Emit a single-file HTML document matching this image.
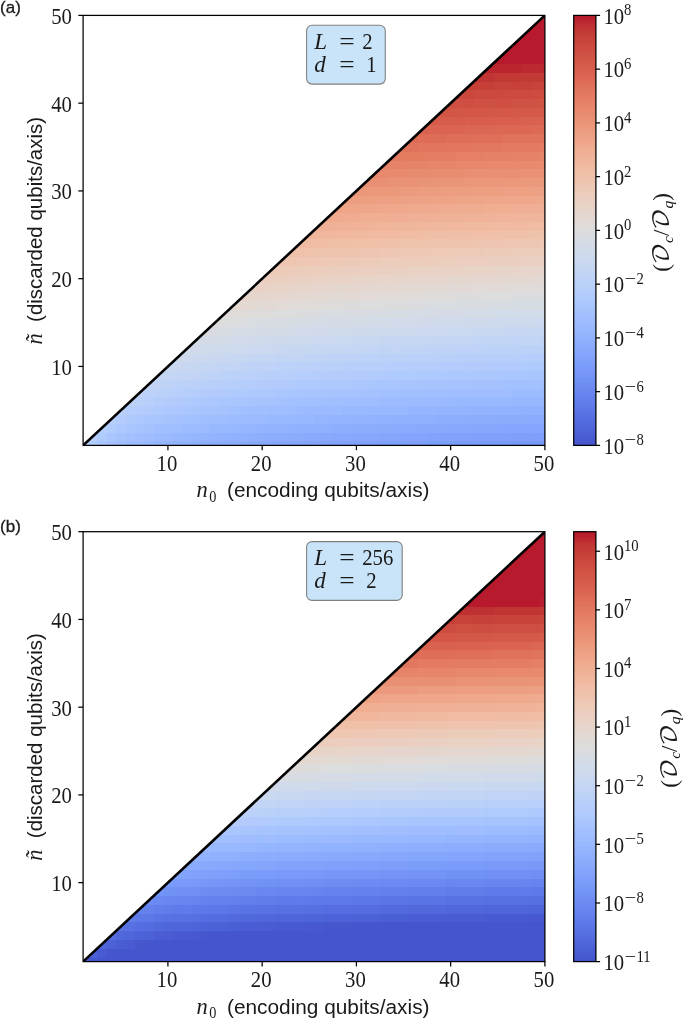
<!DOCTYPE html>
<html lang="en"><head><meta charset="utf-8"><title>Figure</title>
<style>html,body{margin:0;padding:0;background:#fff}svg{display:block}.s{font-family:"Liberation Serif", "DejaVu Serif", serif}.n{font-family:"Liberation Sans", "DejaVu Sans", sans-serif}.m{font-family:"DejaVu Math TeX Gyre", "Liberation Serif", "DejaVu Serif", serif}.i{font-style:italic}</style></head><body>
<svg width="685" height="1021" viewBox="0 0 685 1021">
<rect width="685" height="1021" fill="#fff"/>
<g id="panel0">
<clipPath id="tri0"><polygon points="83.10,445.40 544.90,445.40 544.90,15.40"/></clipPath>
<clipPath id="ax0"><rect x="83.10" y="15.40" width="461.80" height="430.00"/></clipPath>
<g clip-path="url(#tri0)" shape-rendering="crispEdges">
<rect x="83.10" y="441.01" width="5.01" height="4.69" fill="#bdd2f8"/>
<rect x="87.81" y="441.01" width="9.72" height="4.69" fill="#b1cbfc"/>
<rect x="97.24" y="441.01" width="9.72" height="4.69" fill="#aac6fe"/>
<rect x="106.66" y="441.01" width="9.72" height="4.69" fill="#a5c2ff"/>
<rect x="116.09" y="441.01" width="9.72" height="4.69" fill="#a1bfff"/>
<rect x="125.51" y="441.01" width="9.72" height="4.69" fill="#9dbcff"/>
<rect x="134.93" y="441.01" width="9.72" height="4.69" fill="#9bbaff"/>
<rect x="144.36" y="441.01" width="9.72" height="4.69" fill="#98b8ff"/>
<rect x="153.78" y="441.01" width="9.72" height="4.69" fill="#95b5fe"/>
<rect x="163.21" y="441.01" width="9.72" height="4.69" fill="#94b4fe"/>
<rect x="172.63" y="441.01" width="9.72" height="4.69" fill="#93b3fe"/>
<rect x="182.06" y="441.01" width="9.72" height="4.69" fill="#90b1fe"/>
<rect x="191.48" y="441.01" width="9.72" height="4.69" fill="#8fb0fd"/>
<rect x="200.91" y="441.01" width="9.72" height="4.69" fill="#8daefd"/>
<rect x="210.33" y="441.01" width="9.72" height="4.69" fill="#8cadfd"/>
<rect x="219.76" y="441.01" width="9.72" height="4.69" fill="#8bacfd"/>
<rect x="229.18" y="441.01" width="9.72" height="4.69" fill="#8bacfd"/>
<rect x="238.60" y="441.01" width="9.72" height="4.69" fill="#8aabfd"/>
<rect x="248.03" y="441.01" width="9.72" height="4.69" fill="#88aafd"/>
<rect x="257.45" y="441.01" width="9.72" height="4.69" fill="#87a8fd"/>
<rect x="266.88" y="441.01" width="9.72" height="4.69" fill="#87a8fd"/>
<rect x="276.30" y="441.01" width="9.72" height="4.69" fill="#86a7fc"/>
<rect x="285.73" y="441.01" width="9.72" height="4.69" fill="#84a6fc"/>
<rect x="295.15" y="441.01" width="9.72" height="4.69" fill="#84a6fc"/>
<rect x="304.58" y="441.01" width="9.72" height="4.69" fill="#83a5fc"/>
<rect x="314.00" y="441.01" width="9.72" height="4.69" fill="#83a5fc"/>
<rect x="323.42" y="441.01" width="9.72" height="4.69" fill="#82a3fb"/>
<rect x="332.85" y="441.01" width="9.72" height="4.69" fill="#82a3fc"/>
<rect x="342.27" y="441.01" width="9.72" height="4.69" fill="#81a2fb"/>
<rect x="351.70" y="441.01" width="9.72" height="4.69" fill="#81a2fb"/>
<rect x="361.12" y="441.01" width="9.72" height="4.69" fill="#7fa1fb"/>
<rect x="370.55" y="441.01" width="9.72" height="4.69" fill="#7fa1fb"/>
<rect x="379.97" y="441.01" width="9.72" height="4.69" fill="#7e9ffa"/>
<rect x="389.40" y="441.01" width="9.72" height="4.69" fill="#7e9ffa"/>
<rect x="398.82" y="441.01" width="9.72" height="4.69" fill="#7e9ffb"/>
<rect x="408.24" y="441.01" width="9.72" height="4.69" fill="#7d9efa"/>
<rect x="417.67" y="441.01" width="9.72" height="4.69" fill="#7d9efa"/>
<rect x="427.09" y="441.01" width="9.72" height="4.69" fill="#7b9dfa"/>
<rect x="436.52" y="441.01" width="9.72" height="4.69" fill="#7b9dfa"/>
<rect x="445.94" y="441.01" width="9.72" height="4.69" fill="#7b9dfa"/>
<rect x="455.37" y="441.01" width="9.72" height="4.69" fill="#7a9bf9"/>
<rect x="464.79" y="441.01" width="9.72" height="4.69" fill="#7a9bf9"/>
<rect x="474.22" y="441.01" width="9.72" height="4.69" fill="#7a9bf9"/>
<rect x="483.64" y="441.01" width="9.72" height="4.69" fill="#799af9"/>
<rect x="493.07" y="441.01" width="9.72" height="4.69" fill="#799af9"/>
<rect x="502.49" y="441.01" width="9.72" height="4.69" fill="#799af9"/>
<rect x="511.91" y="441.01" width="9.72" height="4.69" fill="#7899f8"/>
<rect x="521.34" y="441.01" width="9.72" height="4.69" fill="#7899f8"/>
<rect x="530.76" y="441.01" width="9.72" height="4.69" fill="#7899f8"/>
<rect x="540.19" y="441.01" width="5.01" height="4.69" fill="#7899f8"/>
<rect x="87.81" y="432.24" width="9.72" height="9.08" fill="#b7cffa"/>
<rect x="97.24" y="432.24" width="9.72" height="9.08" fill="#afcafd"/>
<rect x="106.66" y="432.24" width="9.72" height="9.08" fill="#aac6fe"/>
<rect x="116.09" y="432.24" width="9.72" height="9.08" fill="#a6c3fe"/>
<rect x="125.51" y="432.24" width="9.72" height="9.08" fill="#a4c1ff"/>
<rect x="134.93" y="432.24" width="9.72" height="9.08" fill="#a1bfff"/>
<rect x="144.36" y="432.24" width="9.72" height="9.08" fill="#9fbdff"/>
<rect x="153.78" y="432.24" width="9.72" height="9.08" fill="#9cbbff"/>
<rect x="163.21" y="432.24" width="9.72" height="9.08" fill="#9bbaff"/>
<rect x="172.63" y="432.24" width="9.72" height="9.08" fill="#98b8ff"/>
<rect x="182.06" y="432.24" width="9.72" height="9.08" fill="#97b7fe"/>
<rect x="191.48" y="432.24" width="9.72" height="9.08" fill="#95b5fe"/>
<rect x="200.91" y="432.24" width="9.72" height="9.08" fill="#94b4fe"/>
<rect x="210.33" y="432.24" width="9.72" height="9.08" fill="#93b3fe"/>
<rect x="219.76" y="432.24" width="9.72" height="9.08" fill="#91b2fe"/>
<rect x="229.18" y="432.24" width="9.72" height="9.08" fill="#90b1fe"/>
<rect x="238.60" y="432.24" width="9.72" height="9.08" fill="#90b1fe"/>
<rect x="248.03" y="432.24" width="9.72" height="9.08" fill="#8fb0fe"/>
<rect x="257.45" y="432.24" width="9.72" height="9.08" fill="#8daefd"/>
<rect x="266.88" y="432.24" width="9.72" height="9.08" fill="#8cadfd"/>
<rect x="276.30" y="432.24" width="9.72" height="9.08" fill="#8cadfd"/>
<rect x="285.73" y="432.24" width="9.72" height="9.08" fill="#8bacfd"/>
<rect x="295.15" y="432.24" width="9.72" height="9.08" fill="#8bacfd"/>
<rect x="304.58" y="432.24" width="9.72" height="9.08" fill="#8aabfd"/>
<rect x="314.00" y="432.24" width="9.72" height="9.08" fill="#88aafd"/>
<rect x="323.42" y="432.24" width="9.72" height="9.08" fill="#88aafd"/>
<rect x="332.85" y="432.24" width="9.72" height="9.08" fill="#87a8fd"/>
<rect x="342.27" y="432.24" width="9.72" height="9.08" fill="#87a8fd"/>
<rect x="351.70" y="432.24" width="9.72" height="9.08" fill="#86a7fc"/>
<rect x="361.12" y="432.24" width="9.72" height="9.08" fill="#86a7fc"/>
<rect x="370.55" y="432.24" width="9.72" height="9.08" fill="#86a7fd"/>
<rect x="379.97" y="432.24" width="9.72" height="9.08" fill="#84a6fc"/>
<rect x="389.40" y="432.24" width="9.72" height="9.08" fill="#84a6fc"/>
<rect x="398.82" y="432.24" width="9.72" height="9.08" fill="#83a5fc"/>
<rect x="408.24" y="432.24" width="9.72" height="9.08" fill="#83a5fc"/>
<rect x="417.67" y="432.24" width="9.72" height="9.08" fill="#83a5fc"/>
<rect x="427.09" y="432.24" width="9.72" height="9.08" fill="#82a3fb"/>
<rect x="436.52" y="432.24" width="9.72" height="9.08" fill="#82a3fb"/>
<rect x="445.94" y="432.24" width="9.72" height="9.08" fill="#81a2fb"/>
<rect x="455.37" y="432.24" width="9.72" height="9.08" fill="#81a2fb"/>
<rect x="464.79" y="432.24" width="9.72" height="9.08" fill="#81a2fb"/>
<rect x="474.22" y="432.24" width="9.72" height="9.08" fill="#7fa1fb"/>
<rect x="483.64" y="432.24" width="9.72" height="9.08" fill="#7fa1fb"/>
<rect x="493.07" y="432.24" width="9.72" height="9.08" fill="#7fa1fb"/>
<rect x="502.49" y="432.24" width="9.72" height="9.08" fill="#7fa1fb"/>
<rect x="511.91" y="432.24" width="9.72" height="9.08" fill="#7e9ffa"/>
<rect x="521.34" y="432.24" width="9.72" height="9.08" fill="#7e9ffa"/>
<rect x="530.76" y="432.24" width="9.72" height="9.08" fill="#7e9ffb"/>
<rect x="540.19" y="432.24" width="5.01" height="9.08" fill="#7d9efa"/>
<rect x="97.24" y="423.46" width="9.72" height="9.08" fill="#b6cefb"/>
<rect x="106.66" y="423.46" width="9.72" height="9.08" fill="#b1cbfc"/>
<rect x="116.09" y="423.46" width="9.72" height="9.08" fill="#adc8fd"/>
<rect x="125.51" y="423.46" width="9.72" height="9.08" fill="#aac6fe"/>
<rect x="134.93" y="423.46" width="9.72" height="9.08" fill="#a8c4fe"/>
<rect x="144.36" y="423.46" width="9.72" height="9.08" fill="#a5c2ff"/>
<rect x="153.78" y="423.46" width="9.72" height="9.08" fill="#a2c0ff"/>
<rect x="163.21" y="423.46" width="9.72" height="9.08" fill="#a1bfff"/>
<rect x="172.63" y="423.46" width="9.72" height="9.08" fill="#9fbdff"/>
<rect x="182.06" y="423.46" width="9.72" height="9.08" fill="#9dbcff"/>
<rect x="191.48" y="423.46" width="9.72" height="9.08" fill="#9cbbff"/>
<rect x="200.91" y="423.46" width="9.72" height="9.08" fill="#9bbaff"/>
<rect x="210.33" y="423.46" width="9.72" height="9.08" fill="#99b9ff"/>
<rect x="219.76" y="423.46" width="9.72" height="9.08" fill="#98b8ff"/>
<rect x="229.18" y="423.46" width="9.72" height="9.08" fill="#97b7fe"/>
<rect x="238.60" y="423.46" width="9.72" height="9.08" fill="#95b5fe"/>
<rect x="248.03" y="423.46" width="9.72" height="9.08" fill="#95b5fe"/>
<rect x="257.45" y="423.46" width="9.72" height="9.08" fill="#94b4fe"/>
<rect x="266.88" y="423.46" width="9.72" height="9.08" fill="#93b3fe"/>
<rect x="276.30" y="423.46" width="9.72" height="9.08" fill="#93b3fe"/>
<rect x="285.73" y="423.46" width="9.72" height="9.08" fill="#91b2fe"/>
<rect x="295.15" y="423.46" width="9.72" height="9.08" fill="#90b1fe"/>
<rect x="304.58" y="423.46" width="9.72" height="9.08" fill="#90b1fe"/>
<rect x="314.00" y="423.46" width="9.72" height="9.08" fill="#8fb0fd"/>
<rect x="323.42" y="423.46" width="9.72" height="9.08" fill="#8fb0fe"/>
<rect x="332.85" y="423.46" width="9.72" height="9.08" fill="#8daefd"/>
<rect x="342.27" y="423.46" width="9.72" height="9.08" fill="#8daefd"/>
<rect x="351.70" y="423.46" width="9.72" height="9.08" fill="#8cadfd"/>
<rect x="361.12" y="423.46" width="9.72" height="9.08" fill="#8cadfd"/>
<rect x="370.55" y="423.46" width="9.72" height="9.08" fill="#8bacfd"/>
<rect x="379.97" y="423.46" width="9.72" height="9.08" fill="#8bacfd"/>
<rect x="389.40" y="423.46" width="9.72" height="9.08" fill="#8bacfd"/>
<rect x="398.82" y="423.46" width="9.72" height="9.08" fill="#8aabfd"/>
<rect x="408.24" y="423.46" width="9.72" height="9.08" fill="#8aabfd"/>
<rect x="417.67" y="423.46" width="9.72" height="9.08" fill="#88aafd"/>
<rect x="427.09" y="423.46" width="9.72" height="9.08" fill="#88aafd"/>
<rect x="436.52" y="423.46" width="9.72" height="9.08" fill="#88aafd"/>
<rect x="445.94" y="423.46" width="9.72" height="9.08" fill="#87a8fd"/>
<rect x="455.37" y="423.46" width="9.72" height="9.08" fill="#87a8fd"/>
<rect x="464.79" y="423.46" width="9.72" height="9.08" fill="#87a8fd"/>
<rect x="474.22" y="423.46" width="9.72" height="9.08" fill="#86a7fc"/>
<rect x="483.64" y="423.46" width="9.72" height="9.08" fill="#86a7fc"/>
<rect x="493.07" y="423.46" width="9.72" height="9.08" fill="#86a7fd"/>
<rect x="502.49" y="423.46" width="9.72" height="9.08" fill="#84a6fc"/>
<rect x="511.91" y="423.46" width="9.72" height="9.08" fill="#84a6fc"/>
<rect x="521.34" y="423.46" width="9.72" height="9.08" fill="#84a6fc"/>
<rect x="530.76" y="423.46" width="9.72" height="9.08" fill="#83a5fc"/>
<rect x="540.19" y="423.46" width="5.01" height="9.08" fill="#83a5fc"/>
<rect x="106.66" y="414.69" width="9.72" height="9.08" fill="#b7cffa"/>
<rect x="116.09" y="414.69" width="9.72" height="9.08" fill="#b3ccfc"/>
<rect x="125.51" y="414.69" width="9.72" height="9.08" fill="#afcafd"/>
<rect x="134.93" y="414.69" width="9.72" height="9.08" fill="#adc8fd"/>
<rect x="144.36" y="414.69" width="9.72" height="9.08" fill="#aac6fe"/>
<rect x="153.78" y="414.69" width="9.72" height="9.08" fill="#a9c5fe"/>
<rect x="163.21" y="414.69" width="9.72" height="9.08" fill="#a6c3fe"/>
<rect x="172.63" y="414.69" width="9.72" height="9.08" fill="#a5c2ff"/>
<rect x="182.06" y="414.69" width="9.72" height="9.08" fill="#a4c1ff"/>
<rect x="191.48" y="414.69" width="9.72" height="9.08" fill="#a2c0ff"/>
<rect x="200.91" y="414.69" width="9.72" height="9.08" fill="#a1bfff"/>
<rect x="210.33" y="414.69" width="9.72" height="9.08" fill="#a0beff"/>
<rect x="219.76" y="414.69" width="9.72" height="9.08" fill="#9fbdff"/>
<rect x="229.18" y="414.69" width="9.72" height="9.08" fill="#9dbcff"/>
<rect x="238.60" y="414.69" width="9.72" height="9.08" fill="#9cbbff"/>
<rect x="248.03" y="414.69" width="9.72" height="9.08" fill="#9bbaff"/>
<rect x="257.45" y="414.69" width="9.72" height="9.08" fill="#9bbaff"/>
<rect x="266.88" y="414.69" width="9.72" height="9.08" fill="#99b9ff"/>
<rect x="276.30" y="414.69" width="9.72" height="9.08" fill="#98b8ff"/>
<rect x="285.73" y="414.69" width="9.72" height="9.08" fill="#98b8ff"/>
<rect x="295.15" y="414.69" width="9.72" height="9.08" fill="#97b7fe"/>
<rect x="304.58" y="414.69" width="9.72" height="9.08" fill="#97b7fe"/>
<rect x="314.00" y="414.69" width="9.72" height="9.08" fill="#95b5fe"/>
<rect x="323.42" y="414.69" width="9.72" height="9.08" fill="#95b5fe"/>
<rect x="332.85" y="414.69" width="9.72" height="9.08" fill="#94b4fe"/>
<rect x="342.27" y="414.69" width="9.72" height="9.08" fill="#94b4fe"/>
<rect x="351.70" y="414.69" width="9.72" height="9.08" fill="#93b3fe"/>
<rect x="361.12" y="414.69" width="9.72" height="9.08" fill="#93b3fe"/>
<rect x="370.55" y="414.69" width="9.72" height="9.08" fill="#91b2fe"/>
<rect x="379.97" y="414.69" width="9.72" height="9.08" fill="#91b2fe"/>
<rect x="389.40" y="414.69" width="9.72" height="9.08" fill="#90b1fe"/>
<rect x="398.82" y="414.69" width="9.72" height="9.08" fill="#90b1fe"/>
<rect x="408.24" y="414.69" width="9.72" height="9.08" fill="#90b1fe"/>
<rect x="417.67" y="414.69" width="9.72" height="9.08" fill="#8fb0fd"/>
<rect x="427.09" y="414.69" width="9.72" height="9.08" fill="#8fb0fe"/>
<rect x="436.52" y="414.69" width="9.72" height="9.08" fill="#8daefd"/>
<rect x="445.94" y="414.69" width="9.72" height="9.08" fill="#8daefd"/>
<rect x="455.37" y="414.69" width="9.72" height="9.08" fill="#8daefd"/>
<rect x="464.79" y="414.69" width="9.72" height="9.08" fill="#8cadfd"/>
<rect x="474.22" y="414.69" width="9.72" height="9.08" fill="#8cadfd"/>
<rect x="483.64" y="414.69" width="9.72" height="9.08" fill="#8cadfd"/>
<rect x="493.07" y="414.69" width="9.72" height="9.08" fill="#8bacfd"/>
<rect x="502.49" y="414.69" width="9.72" height="9.08" fill="#8bacfd"/>
<rect x="511.91" y="414.69" width="9.72" height="9.08" fill="#8bacfd"/>
<rect x="521.34" y="414.69" width="9.72" height="9.08" fill="#8bacfd"/>
<rect x="530.76" y="414.69" width="9.72" height="9.08" fill="#8aabfd"/>
<rect x="540.19" y="414.69" width="5.01" height="9.08" fill="#8aabfd"/>
<rect x="116.09" y="405.91" width="9.72" height="9.08" fill="#b9d0f9"/>
<rect x="125.51" y="405.91" width="9.72" height="9.08" fill="#b6cefb"/>
<rect x="134.93" y="405.91" width="9.72" height="9.08" fill="#b3ccfc"/>
<rect x="144.36" y="405.91" width="9.72" height="9.08" fill="#b1cbfc"/>
<rect x="153.78" y="405.91" width="9.72" height="9.08" fill="#afcafd"/>
<rect x="163.21" y="405.91" width="9.72" height="9.08" fill="#adc8fd"/>
<rect x="172.63" y="405.91" width="9.72" height="9.08" fill="#acc7fd"/>
<rect x="182.06" y="405.91" width="9.72" height="9.08" fill="#aac6fe"/>
<rect x="191.48" y="405.91" width="9.72" height="9.08" fill="#a9c5fe"/>
<rect x="200.91" y="405.91" width="9.72" height="9.08" fill="#a8c4fe"/>
<rect x="210.33" y="405.91" width="9.72" height="9.08" fill="#a6c3fe"/>
<rect x="219.76" y="405.91" width="9.72" height="9.08" fill="#a5c2ff"/>
<rect x="229.18" y="405.91" width="9.72" height="9.08" fill="#a4c1ff"/>
<rect x="238.60" y="405.91" width="9.72" height="9.08" fill="#a2c0ff"/>
<rect x="248.03" y="405.91" width="9.72" height="9.08" fill="#a1bfff"/>
<rect x="257.45" y="405.91" width="9.72" height="9.08" fill="#a1bfff"/>
<rect x="266.88" y="405.91" width="9.72" height="9.08" fill="#a0beff"/>
<rect x="276.30" y="405.91" width="9.72" height="9.08" fill="#9fbdff"/>
<rect x="285.73" y="405.91" width="9.72" height="9.08" fill="#9fbdff"/>
<rect x="295.15" y="405.91" width="9.72" height="9.08" fill="#9dbcff"/>
<rect x="304.58" y="405.91" width="9.72" height="9.08" fill="#9cbbff"/>
<rect x="314.00" y="405.91" width="9.72" height="9.08" fill="#9cbbff"/>
<rect x="323.42" y="405.91" width="9.72" height="9.08" fill="#9bbaff"/>
<rect x="332.85" y="405.91" width="9.72" height="9.08" fill="#9bbaff"/>
<rect x="342.27" y="405.91" width="9.72" height="9.08" fill="#99b9ff"/>
<rect x="351.70" y="405.91" width="9.72" height="9.08" fill="#99b9ff"/>
<rect x="361.12" y="405.91" width="9.72" height="9.08" fill="#98b8ff"/>
<rect x="370.55" y="405.91" width="9.72" height="9.08" fill="#98b8ff"/>
<rect x="379.97" y="405.91" width="9.72" height="9.08" fill="#98b8ff"/>
<rect x="389.40" y="405.91" width="9.72" height="9.08" fill="#97b7fe"/>
<rect x="398.82" y="405.91" width="9.72" height="9.08" fill="#97b7fe"/>
<rect x="408.24" y="405.91" width="9.72" height="9.08" fill="#95b5fe"/>
<rect x="417.67" y="405.91" width="9.72" height="9.08" fill="#95b5fe"/>
<rect x="427.09" y="405.91" width="9.72" height="9.08" fill="#95b5fe"/>
<rect x="436.52" y="405.91" width="9.72" height="9.08" fill="#94b4fe"/>
<rect x="445.94" y="405.91" width="9.72" height="9.08" fill="#94b4fe"/>
<rect x="455.37" y="405.91" width="9.72" height="9.08" fill="#94b4fe"/>
<rect x="464.79" y="405.91" width="9.72" height="9.08" fill="#93b3fe"/>
<rect x="474.22" y="405.91" width="9.72" height="9.08" fill="#93b3fe"/>
<rect x="483.64" y="405.91" width="9.72" height="9.08" fill="#93b3fe"/>
<rect x="493.07" y="405.91" width="9.72" height="9.08" fill="#91b2fe"/>
<rect x="502.49" y="405.91" width="9.72" height="9.08" fill="#91b2fe"/>
<rect x="511.91" y="405.91" width="9.72" height="9.08" fill="#91b2fe"/>
<rect x="521.34" y="405.91" width="9.72" height="9.08" fill="#90b1fe"/>
<rect x="530.76" y="405.91" width="9.72" height="9.08" fill="#90b1fe"/>
<rect x="540.19" y="405.91" width="5.01" height="9.08" fill="#90b1fe"/>
<rect x="125.51" y="397.13" width="9.72" height="9.08" fill="#bcd1f8"/>
<rect x="134.93" y="397.13" width="9.72" height="9.08" fill="#b9d0f9"/>
<rect x="144.36" y="397.13" width="9.72" height="9.08" fill="#b7cffa"/>
<rect x="153.78" y="397.13" width="9.72" height="9.08" fill="#b4cdfb"/>
<rect x="163.21" y="397.13" width="9.72" height="9.08" fill="#b3ccfc"/>
<rect x="172.63" y="397.13" width="9.72" height="9.08" fill="#b2cbfc"/>
<rect x="182.06" y="397.13" width="9.72" height="9.08" fill="#afcafd"/>
<rect x="191.48" y="397.13" width="9.72" height="9.08" fill="#aec9fd"/>
<rect x="200.91" y="397.13" width="9.72" height="9.08" fill="#adc8fd"/>
<rect x="210.33" y="397.13" width="9.72" height="9.08" fill="#abc7fd"/>
<rect x="219.76" y="397.13" width="9.72" height="9.08" fill="#aac6fe"/>
<rect x="229.18" y="397.13" width="9.72" height="9.08" fill="#aac6fe"/>
<rect x="238.60" y="397.13" width="9.72" height="9.08" fill="#a9c5fe"/>
<rect x="248.03" y="397.13" width="9.72" height="9.08" fill="#a8c4fe"/>
<rect x="257.45" y="397.13" width="9.72" height="9.08" fill="#a6c3fe"/>
<rect x="266.88" y="397.13" width="9.72" height="9.08" fill="#a6c3fe"/>
<rect x="276.30" y="397.13" width="9.72" height="9.08" fill="#a5c2ff"/>
<rect x="285.73" y="397.13" width="9.72" height="9.08" fill="#a4c1ff"/>
<rect x="295.15" y="397.13" width="9.72" height="9.08" fill="#a4c1ff"/>
<rect x="304.58" y="397.13" width="9.72" height="9.08" fill="#a2c0ff"/>
<rect x="314.00" y="397.13" width="9.72" height="9.08" fill="#a2c0ff"/>
<rect x="323.42" y="397.13" width="9.72" height="9.08" fill="#a1bfff"/>
<rect x="332.85" y="397.13" width="9.72" height="9.08" fill="#a1bfff"/>
<rect x="342.27" y="397.13" width="9.72" height="9.08" fill="#a0beff"/>
<rect x="351.70" y="397.13" width="9.72" height="9.08" fill="#a0beff"/>
<rect x="361.12" y="397.13" width="9.72" height="9.08" fill="#9fbdff"/>
<rect x="370.55" y="397.13" width="9.72" height="9.08" fill="#9fbdff"/>
<rect x="379.97" y="397.13" width="9.72" height="9.08" fill="#9dbcff"/>
<rect x="389.40" y="397.13" width="9.72" height="9.08" fill="#9dbcff"/>
<rect x="398.82" y="397.13" width="9.72" height="9.08" fill="#9dbcff"/>
<rect x="408.24" y="397.13" width="9.72" height="9.08" fill="#9cbbff"/>
<rect x="417.67" y="397.13" width="9.72" height="9.08" fill="#9cbbff"/>
<rect x="427.09" y="397.13" width="9.72" height="9.08" fill="#9bbaff"/>
<rect x="436.52" y="397.13" width="9.72" height="9.08" fill="#9bbaff"/>
<rect x="445.94" y="397.13" width="9.72" height="9.08" fill="#9bbaff"/>
<rect x="455.37" y="397.13" width="9.72" height="9.08" fill="#99b9ff"/>
<rect x="464.79" y="397.13" width="9.72" height="9.08" fill="#99b9ff"/>
<rect x="474.22" y="397.13" width="9.72" height="9.08" fill="#99b9ff"/>
<rect x="483.64" y="397.13" width="9.72" height="9.08" fill="#98b8ff"/>
<rect x="493.07" y="397.13" width="9.72" height="9.08" fill="#98b8ff"/>
<rect x="502.49" y="397.13" width="9.72" height="9.08" fill="#98b8ff"/>
<rect x="511.91" y="397.13" width="9.72" height="9.08" fill="#97b7fe"/>
<rect x="521.34" y="397.13" width="9.72" height="9.08" fill="#97b7fe"/>
<rect x="530.76" y="397.13" width="9.72" height="9.08" fill="#97b7fe"/>
<rect x="540.19" y="397.13" width="5.01" height="9.08" fill="#97b7fe"/>
<rect x="134.93" y="388.36" width="9.72" height="9.08" fill="#bfd3f6"/>
<rect x="144.36" y="388.36" width="9.72" height="9.08" fill="#bdd2f8"/>
<rect x="153.78" y="388.36" width="9.72" height="9.08" fill="#bbd1f9"/>
<rect x="163.21" y="388.36" width="9.72" height="9.08" fill="#b9d0f9"/>
<rect x="172.63" y="388.36" width="9.72" height="9.08" fill="#b7cffa"/>
<rect x="182.06" y="388.36" width="9.72" height="9.08" fill="#b6cefb"/>
<rect x="191.48" y="388.36" width="9.72" height="9.08" fill="#b4cdfb"/>
<rect x="200.91" y="388.36" width="9.72" height="9.08" fill="#b3ccfc"/>
<rect x="210.33" y="388.36" width="9.72" height="9.08" fill="#b2cbfc"/>
<rect x="219.76" y="388.36" width="9.72" height="9.08" fill="#b1cbfc"/>
<rect x="229.18" y="388.36" width="9.72" height="9.08" fill="#afcafd"/>
<rect x="238.60" y="388.36" width="9.72" height="9.08" fill="#afcafd"/>
<rect x="248.03" y="388.36" width="9.72" height="9.08" fill="#aec9fd"/>
<rect x="257.45" y="388.36" width="9.72" height="9.08" fill="#adc8fd"/>
<rect x="266.88" y="388.36" width="9.72" height="9.08" fill="#adc8fd"/>
<rect x="276.30" y="388.36" width="9.72" height="9.08" fill="#acc7fd"/>
<rect x="285.73" y="388.36" width="9.72" height="9.08" fill="#aac6fe"/>
<rect x="295.15" y="388.36" width="9.72" height="9.08" fill="#aac6fe"/>
<rect x="304.58" y="388.36" width="9.72" height="9.08" fill="#a9c5fe"/>
<rect x="314.00" y="388.36" width="9.72" height="9.08" fill="#a9c5fe"/>
<rect x="323.42" y="388.36" width="9.72" height="9.08" fill="#a8c4fe"/>
<rect x="332.85" y="388.36" width="9.72" height="9.08" fill="#a8c4fe"/>
<rect x="342.27" y="388.36" width="9.72" height="9.08" fill="#a6c3fe"/>
<rect x="351.70" y="388.36" width="9.72" height="9.08" fill="#a6c3fe"/>
<rect x="361.12" y="388.36" width="9.72" height="9.08" fill="#a5c2ff"/>
<rect x="370.55" y="388.36" width="9.72" height="9.08" fill="#a5c2ff"/>
<rect x="379.97" y="388.36" width="9.72" height="9.08" fill="#a4c1ff"/>
<rect x="389.40" y="388.36" width="9.72" height="9.08" fill="#a4c1ff"/>
<rect x="398.82" y="388.36" width="9.72" height="9.08" fill="#a2c0ff"/>
<rect x="408.24" y="388.36" width="9.72" height="9.08" fill="#a2c0ff"/>
<rect x="417.67" y="388.36" width="9.72" height="9.08" fill="#a2c0ff"/>
<rect x="427.09" y="388.36" width="9.72" height="9.08" fill="#a1bfff"/>
<rect x="436.52" y="388.36" width="9.72" height="9.08" fill="#a1bfff"/>
<rect x="445.94" y="388.36" width="9.72" height="9.08" fill="#a1bfff"/>
<rect x="455.37" y="388.36" width="9.72" height="9.08" fill="#a0beff"/>
<rect x="464.79" y="388.36" width="9.72" height="9.08" fill="#a0beff"/>
<rect x="474.22" y="388.36" width="9.72" height="9.08" fill="#a0beff"/>
<rect x="483.64" y="388.36" width="9.72" height="9.08" fill="#9fbdff"/>
<rect x="493.07" y="388.36" width="9.72" height="9.08" fill="#9fbdff"/>
<rect x="502.49" y="388.36" width="9.72" height="9.08" fill="#9fbdff"/>
<rect x="511.91" y="388.36" width="9.72" height="9.08" fill="#9dbcff"/>
<rect x="521.34" y="388.36" width="9.72" height="9.08" fill="#9dbcff"/>
<rect x="530.76" y="388.36" width="9.72" height="9.08" fill="#9dbcff"/>
<rect x="540.19" y="388.36" width="5.01" height="9.08" fill="#9cbbff"/>
<rect x="144.36" y="379.58" width="9.72" height="9.08" fill="#c3d5f4"/>
<rect x="153.78" y="379.58" width="9.72" height="9.08" fill="#c1d4f6"/>
<rect x="163.21" y="379.58" width="9.72" height="9.08" fill="#bfd3f6"/>
<rect x="172.63" y="379.58" width="9.72" height="9.08" fill="#bdd2f8"/>
<rect x="182.06" y="379.58" width="9.72" height="9.08" fill="#bcd1f8"/>
<rect x="191.48" y="379.58" width="9.72" height="9.08" fill="#bbd1f9"/>
<rect x="200.91" y="379.58" width="9.72" height="9.08" fill="#b9d0f9"/>
<rect x="210.33" y="379.58" width="9.72" height="9.08" fill="#b8cffa"/>
<rect x="219.76" y="379.58" width="9.72" height="9.08" fill="#b7cffa"/>
<rect x="229.18" y="379.58" width="9.72" height="9.08" fill="#b6cefb"/>
<rect x="238.60" y="379.58" width="9.72" height="9.08" fill="#b4cdfb"/>
<rect x="248.03" y="379.58" width="9.72" height="9.08" fill="#b4cdfb"/>
<rect x="257.45" y="379.58" width="9.72" height="9.08" fill="#b3ccfc"/>
<rect x="266.88" y="379.58" width="9.72" height="9.08" fill="#b2cbfc"/>
<rect x="276.30" y="379.58" width="9.72" height="9.08" fill="#b2cbfc"/>
<rect x="285.73" y="379.58" width="9.72" height="9.08" fill="#b1cbfc"/>
<rect x="295.15" y="379.58" width="9.72" height="9.08" fill="#afcafd"/>
<rect x="304.58" y="379.58" width="9.72" height="9.08" fill="#afcafd"/>
<rect x="314.00" y="379.58" width="9.72" height="9.08" fill="#aec9fd"/>
<rect x="323.42" y="379.58" width="9.72" height="9.08" fill="#aec9fd"/>
<rect x="332.85" y="379.58" width="9.72" height="9.08" fill="#adc8fd"/>
<rect x="342.27" y="379.58" width="9.72" height="9.08" fill="#adc8fd"/>
<rect x="351.70" y="379.58" width="9.72" height="9.08" fill="#abc7fd"/>
<rect x="361.12" y="379.58" width="9.72" height="9.08" fill="#acc7fd"/>
<rect x="370.55" y="379.58" width="9.72" height="9.08" fill="#aac6fe"/>
<rect x="379.97" y="379.58" width="9.72" height="9.08" fill="#aac6fe"/>
<rect x="389.40" y="379.58" width="9.72" height="9.08" fill="#aac6fe"/>
<rect x="398.82" y="379.58" width="9.72" height="9.08" fill="#a9c5fe"/>
<rect x="408.24" y="379.58" width="9.72" height="9.08" fill="#a9c5fe"/>
<rect x="417.67" y="379.58" width="9.72" height="9.08" fill="#a8c4fe"/>
<rect x="427.09" y="379.58" width="9.72" height="9.08" fill="#a8c4fe"/>
<rect x="436.52" y="379.58" width="9.72" height="9.08" fill="#a8c4fe"/>
<rect x="445.94" y="379.58" width="9.72" height="9.08" fill="#a6c3fe"/>
<rect x="455.37" y="379.58" width="9.72" height="9.08" fill="#a6c3fe"/>
<rect x="464.79" y="379.58" width="9.72" height="9.08" fill="#a6c3fe"/>
<rect x="474.22" y="379.58" width="9.72" height="9.08" fill="#a5c2ff"/>
<rect x="483.64" y="379.58" width="9.72" height="9.08" fill="#a5c2ff"/>
<rect x="493.07" y="379.58" width="9.72" height="9.08" fill="#a5c2ff"/>
<rect x="502.49" y="379.58" width="9.72" height="9.08" fill="#a4c1ff"/>
<rect x="511.91" y="379.58" width="9.72" height="9.08" fill="#a4c1ff"/>
<rect x="521.34" y="379.58" width="9.72" height="9.08" fill="#a4c1ff"/>
<rect x="530.76" y="379.58" width="9.72" height="9.08" fill="#a4c1ff"/>
<rect x="540.19" y="379.58" width="5.01" height="9.08" fill="#a2c0ff"/>
<rect x="153.78" y="370.81" width="9.72" height="9.08" fill="#c6d7f2"/>
<rect x="163.21" y="370.81" width="9.72" height="9.08" fill="#c4d6f4"/>
<rect x="172.63" y="370.81" width="9.72" height="9.08" fill="#c3d5f4"/>
<rect x="182.06" y="370.81" width="9.72" height="9.08" fill="#c2d5f5"/>
<rect x="191.48" y="370.81" width="9.72" height="9.08" fill="#c1d4f6"/>
<rect x="200.91" y="370.81" width="9.72" height="9.08" fill="#bfd3f6"/>
<rect x="210.33" y="370.81" width="9.72" height="9.08" fill="#bed3f7"/>
<rect x="219.76" y="370.81" width="9.72" height="9.08" fill="#bdd2f8"/>
<rect x="229.18" y="370.81" width="9.72" height="9.08" fill="#bcd1f8"/>
<rect x="238.60" y="370.81" width="9.72" height="9.08" fill="#bbd1f9"/>
<rect x="248.03" y="370.81" width="9.72" height="9.08" fill="#bbd1f9"/>
<rect x="257.45" y="370.81" width="9.72" height="9.08" fill="#b9d0f9"/>
<rect x="266.88" y="370.81" width="9.72" height="9.08" fill="#b8cffa"/>
<rect x="276.30" y="370.81" width="9.72" height="9.08" fill="#b7cffa"/>
<rect x="285.73" y="370.81" width="9.72" height="9.08" fill="#b7cffa"/>
<rect x="295.15" y="370.81" width="9.72" height="9.08" fill="#b6cefb"/>
<rect x="304.58" y="370.81" width="9.72" height="9.08" fill="#b6cefb"/>
<rect x="314.00" y="370.81" width="9.72" height="9.08" fill="#b4cdfb"/>
<rect x="323.42" y="370.81" width="9.72" height="9.08" fill="#b4cdfb"/>
<rect x="332.85" y="370.81" width="9.72" height="9.08" fill="#b3ccfc"/>
<rect x="342.27" y="370.81" width="9.72" height="9.08" fill="#b3ccfc"/>
<rect x="351.70" y="370.81" width="9.72" height="9.08" fill="#b2cbfc"/>
<rect x="361.12" y="370.81" width="9.72" height="9.08" fill="#b2cbfc"/>
<rect x="370.55" y="370.81" width="9.72" height="9.08" fill="#b1cbfc"/>
<rect x="379.97" y="370.81" width="9.72" height="9.08" fill="#b1cbfc"/>
<rect x="389.40" y="370.81" width="9.72" height="9.08" fill="#afcafd"/>
<rect x="398.82" y="370.81" width="9.72" height="9.08" fill="#afcafd"/>
<rect x="408.24" y="370.81" width="9.72" height="9.08" fill="#afcafd"/>
<rect x="417.67" y="370.81" width="9.72" height="9.08" fill="#aec9fd"/>
<rect x="427.09" y="370.81" width="9.72" height="9.08" fill="#aec9fd"/>
<rect x="436.52" y="370.81" width="9.72" height="9.08" fill="#aec9fd"/>
<rect x="445.94" y="370.81" width="9.72" height="9.08" fill="#adc8fd"/>
<rect x="455.37" y="370.81" width="9.72" height="9.08" fill="#adc8fd"/>
<rect x="464.79" y="370.81" width="9.72" height="9.08" fill="#adc8fd"/>
<rect x="474.22" y="370.81" width="9.72" height="9.08" fill="#acc7fd"/>
<rect x="483.64" y="370.81" width="9.72" height="9.08" fill="#acc7fd"/>
<rect x="493.07" y="370.81" width="9.72" height="9.08" fill="#acc7fd"/>
<rect x="502.49" y="370.81" width="9.72" height="9.08" fill="#aac6fe"/>
<rect x="511.91" y="370.81" width="9.72" height="9.08" fill="#aac6fe"/>
<rect x="521.34" y="370.81" width="9.72" height="9.08" fill="#aac6fe"/>
<rect x="530.76" y="370.81" width="9.72" height="9.08" fill="#a9c5fe"/>
<rect x="540.19" y="370.81" width="5.01" height="9.08" fill="#a9c5fe"/>
<rect x="163.21" y="362.03" width="9.72" height="9.08" fill="#cad8f0"/>
<rect x="172.63" y="362.03" width="9.72" height="9.08" fill="#c9d8f0"/>
<rect x="182.06" y="362.03" width="9.72" height="9.08" fill="#c8d7f1"/>
<rect x="191.48" y="362.03" width="9.72" height="9.08" fill="#c6d7f2"/>
<rect x="200.91" y="362.03" width="9.72" height="9.08" fill="#c5d6f3"/>
<rect x="210.33" y="362.03" width="9.72" height="9.08" fill="#c4d6f4"/>
<rect x="219.76" y="362.03" width="9.72" height="9.08" fill="#c3d5f4"/>
<rect x="229.18" y="362.03" width="9.72" height="9.08" fill="#c2d5f5"/>
<rect x="238.60" y="362.03" width="9.72" height="9.08" fill="#c1d4f6"/>
<rect x="248.03" y="362.03" width="9.72" height="9.08" fill="#bfd3f6"/>
<rect x="257.45" y="362.03" width="9.72" height="9.08" fill="#bfd3f6"/>
<rect x="266.88" y="362.03" width="9.72" height="9.08" fill="#bed3f7"/>
<rect x="276.30" y="362.03" width="9.72" height="9.08" fill="#bdd2f8"/>
<rect x="285.73" y="362.03" width="9.72" height="9.08" fill="#bdd2f8"/>
<rect x="295.15" y="362.03" width="9.72" height="9.08" fill="#bcd1f8"/>
<rect x="304.58" y="362.03" width="9.72" height="9.08" fill="#bcd1f8"/>
<rect x="314.00" y="362.03" width="9.72" height="9.08" fill="#bbd1f9"/>
<rect x="323.42" y="362.03" width="9.72" height="9.08" fill="#b9d0f9"/>
<rect x="332.85" y="362.03" width="9.72" height="9.08" fill="#b9d0f9"/>
<rect x="342.27" y="362.03" width="9.72" height="9.08" fill="#b8cffa"/>
<rect x="351.70" y="362.03" width="9.72" height="9.08" fill="#b8cffa"/>
<rect x="361.12" y="362.03" width="9.72" height="9.08" fill="#b8cffa"/>
<rect x="370.55" y="362.03" width="9.72" height="9.08" fill="#b7cffa"/>
<rect x="379.97" y="362.03" width="9.72" height="9.08" fill="#b7cffa"/>
<rect x="389.40" y="362.03" width="9.72" height="9.08" fill="#b6cefb"/>
<rect x="398.82" y="362.03" width="9.72" height="9.08" fill="#b6cefb"/>
<rect x="408.24" y="362.03" width="9.72" height="9.08" fill="#b4cdfb"/>
<rect x="417.67" y="362.03" width="9.72" height="9.08" fill="#b4cdfb"/>
<rect x="427.09" y="362.03" width="9.72" height="9.08" fill="#b4cdfb"/>
<rect x="436.52" y="362.03" width="9.72" height="9.08" fill="#b3ccfc"/>
<rect x="445.94" y="362.03" width="9.72" height="9.08" fill="#b3ccfc"/>
<rect x="455.37" y="362.03" width="9.72" height="9.08" fill="#b3ccfc"/>
<rect x="464.79" y="362.03" width="9.72" height="9.08" fill="#b2cbfc"/>
<rect x="474.22" y="362.03" width="9.72" height="9.08" fill="#b2cbfc"/>
<rect x="483.64" y="362.03" width="9.72" height="9.08" fill="#b2cbfc"/>
<rect x="493.07" y="362.03" width="9.72" height="9.08" fill="#b1cbfc"/>
<rect x="502.49" y="362.03" width="9.72" height="9.08" fill="#b1cbfc"/>
<rect x="511.91" y="362.03" width="9.72" height="9.08" fill="#b1cbfc"/>
<rect x="521.34" y="362.03" width="9.72" height="9.08" fill="#afcafd"/>
<rect x="530.76" y="362.03" width="9.72" height="9.08" fill="#afcafd"/>
<rect x="540.19" y="362.03" width="5.01" height="9.08" fill="#afcafd"/>
<rect x="172.63" y="353.26" width="9.72" height="9.08" fill="#cedaec"/>
<rect x="182.06" y="353.26" width="9.72" height="9.08" fill="#cdd9ed"/>
<rect x="191.48" y="353.26" width="9.72" height="9.08" fill="#cbd8ef"/>
<rect x="200.91" y="353.26" width="9.72" height="9.08" fill="#cad8f0"/>
<rect x="210.33" y="353.26" width="9.72" height="9.08" fill="#c9d8f0"/>
<rect x="219.76" y="353.26" width="9.72" height="9.08" fill="#c9d8f0"/>
<rect x="229.18" y="353.26" width="9.72" height="9.08" fill="#c8d7f1"/>
<rect x="238.60" y="353.26" width="9.72" height="9.08" fill="#c6d7f2"/>
<rect x="248.03" y="353.26" width="9.72" height="9.08" fill="#c5d6f3"/>
<rect x="257.45" y="353.26" width="9.72" height="9.08" fill="#c4d6f4"/>
<rect x="266.88" y="353.26" width="9.72" height="9.08" fill="#c4d6f4"/>
<rect x="276.30" y="353.26" width="9.72" height="9.08" fill="#c3d5f4"/>
<rect x="285.73" y="353.26" width="9.72" height="9.08" fill="#c3d5f4"/>
<rect x="295.15" y="353.26" width="9.72" height="9.08" fill="#c2d5f5"/>
<rect x="304.58" y="353.26" width="9.72" height="9.08" fill="#c1d4f6"/>
<rect x="314.00" y="353.26" width="9.72" height="9.08" fill="#c1d4f6"/>
<rect x="323.42" y="353.26" width="9.72" height="9.08" fill="#bfd3f6"/>
<rect x="332.85" y="353.26" width="9.72" height="9.08" fill="#bfd3f6"/>
<rect x="342.27" y="353.26" width="9.72" height="9.08" fill="#bed3f7"/>
<rect x="351.70" y="353.26" width="9.72" height="9.08" fill="#bed3f7"/>
<rect x="361.12" y="353.26" width="9.72" height="9.08" fill="#bdd2f8"/>
<rect x="370.55" y="353.26" width="9.72" height="9.08" fill="#bdd2f8"/>
<rect x="379.97" y="353.26" width="9.72" height="9.08" fill="#bcd1f8"/>
<rect x="389.40" y="353.26" width="9.72" height="9.08" fill="#bcd1f8"/>
<rect x="398.82" y="353.26" width="9.72" height="9.08" fill="#bcd1f8"/>
<rect x="408.24" y="353.26" width="9.72" height="9.08" fill="#bbd1f9"/>
<rect x="417.67" y="353.26" width="9.72" height="9.08" fill="#bbd1f9"/>
<rect x="427.09" y="353.26" width="9.72" height="9.08" fill="#bbd1f9"/>
<rect x="436.52" y="353.26" width="9.72" height="9.08" fill="#b9d0f9"/>
<rect x="445.94" y="353.26" width="9.72" height="9.08" fill="#b9d0f9"/>
<rect x="455.37" y="353.26" width="9.72" height="9.08" fill="#b8cffa"/>
<rect x="464.79" y="353.26" width="9.72" height="9.08" fill="#b8cffa"/>
<rect x="474.22" y="353.26" width="9.72" height="9.08" fill="#b8cffa"/>
<rect x="483.64" y="353.26" width="9.72" height="9.08" fill="#b7cffa"/>
<rect x="493.07" y="353.26" width="9.72" height="9.08" fill="#b7cffa"/>
<rect x="502.49" y="353.26" width="9.72" height="9.08" fill="#b7cffa"/>
<rect x="511.91" y="353.26" width="9.72" height="9.08" fill="#b7cffa"/>
<rect x="521.34" y="353.26" width="9.72" height="9.08" fill="#b6cefb"/>
<rect x="530.76" y="353.26" width="9.72" height="9.08" fill="#b6cefb"/>
<rect x="540.19" y="353.26" width="5.01" height="9.08" fill="#b6cefb"/>
<rect x="182.06" y="344.48" width="9.72" height="9.08" fill="#d1dbe9"/>
<rect x="191.48" y="344.48" width="9.72" height="9.08" fill="#d0daea"/>
<rect x="200.91" y="344.48" width="9.72" height="9.08" fill="#cfdaeb"/>
<rect x="210.33" y="344.48" width="9.72" height="9.08" fill="#cedaec"/>
<rect x="219.76" y="344.48" width="9.72" height="9.08" fill="#cdd9ed"/>
<rect x="229.18" y="344.48" width="9.72" height="9.08" fill="#cdd9ed"/>
<rect x="238.60" y="344.48" width="9.72" height="9.08" fill="#ccd9ee"/>
<rect x="248.03" y="344.48" width="9.72" height="9.08" fill="#cbd8ef"/>
<rect x="257.45" y="344.48" width="9.72" height="9.08" fill="#cad8f0"/>
<rect x="266.88" y="344.48" width="9.72" height="9.08" fill="#cad8f0"/>
<rect x="276.30" y="344.48" width="9.72" height="9.08" fill="#c9d8f0"/>
<rect x="285.73" y="344.48" width="9.72" height="9.08" fill="#c7d7f1"/>
<rect x="295.15" y="344.48" width="9.72" height="9.08" fill="#c8d7f1"/>
<rect x="304.58" y="344.48" width="9.72" height="9.08" fill="#c6d7f2"/>
<rect x="314.00" y="344.48" width="9.72" height="9.08" fill="#c6d7f2"/>
<rect x="323.42" y="344.48" width="9.72" height="9.08" fill="#c5d6f3"/>
<rect x="332.85" y="344.48" width="9.72" height="9.08" fill="#c5d6f3"/>
<rect x="342.27" y="344.48" width="9.72" height="9.08" fill="#c4d6f4"/>
<rect x="351.70" y="344.48" width="9.72" height="9.08" fill="#c4d6f4"/>
<rect x="361.12" y="344.48" width="9.72" height="9.08" fill="#c3d5f4"/>
<rect x="370.55" y="344.48" width="9.72" height="9.08" fill="#c3d5f4"/>
<rect x="379.97" y="344.48" width="9.72" height="9.08" fill="#c2d4f5"/>
<rect x="389.40" y="344.48" width="9.72" height="9.08" fill="#c2d5f5"/>
<rect x="398.82" y="344.48" width="9.72" height="9.08" fill="#c1d4f6"/>
<rect x="408.24" y="344.48" width="9.72" height="9.08" fill="#c1d4f6"/>
<rect x="417.67" y="344.48" width="9.72" height="9.08" fill="#c1d4f6"/>
<rect x="427.09" y="344.48" width="9.72" height="9.08" fill="#bfd3f6"/>
<rect x="436.52" y="344.48" width="9.72" height="9.08" fill="#bfd3f6"/>
<rect x="445.94" y="344.48" width="9.72" height="9.08" fill="#bfd3f6"/>
<rect x="455.37" y="344.48" width="9.72" height="9.08" fill="#bed3f7"/>
<rect x="464.79" y="344.48" width="9.72" height="9.08" fill="#bed3f7"/>
<rect x="474.22" y="344.48" width="9.72" height="9.08" fill="#bed3f7"/>
<rect x="483.64" y="344.48" width="9.72" height="9.08" fill="#bdd2f8"/>
<rect x="493.07" y="344.48" width="9.72" height="9.08" fill="#bdd2f8"/>
<rect x="502.49" y="344.48" width="9.72" height="9.08" fill="#bdd2f8"/>
<rect x="511.91" y="344.48" width="9.72" height="9.08" fill="#bcd1f8"/>
<rect x="521.34" y="344.48" width="9.72" height="9.08" fill="#bcd1f8"/>
<rect x="530.76" y="344.48" width="9.72" height="9.08" fill="#bcd1f8"/>
<rect x="540.19" y="344.48" width="5.01" height="9.08" fill="#bcd1f8"/>
<rect x="191.48" y="335.71" width="9.72" height="9.08" fill="#d5dce5"/>
<rect x="200.91" y="335.71" width="9.72" height="9.08" fill="#d4dbe6"/>
<rect x="210.33" y="335.71" width="9.72" height="9.08" fill="#d3dbe7"/>
<rect x="219.76" y="335.71" width="9.72" height="9.08" fill="#d2dbe8"/>
<rect x="229.18" y="335.71" width="9.72" height="9.08" fill="#d1dbe9"/>
<rect x="238.60" y="335.71" width="9.72" height="9.08" fill="#d1dbe9"/>
<rect x="248.03" y="335.71" width="9.72" height="9.08" fill="#d0daea"/>
<rect x="257.45" y="335.71" width="9.72" height="9.08" fill="#cfdaeb"/>
<rect x="266.88" y="335.71" width="9.72" height="9.08" fill="#cedaec"/>
<rect x="276.30" y="335.71" width="9.72" height="9.08" fill="#cedaec"/>
<rect x="285.73" y="335.71" width="9.72" height="9.08" fill="#cdd9ed"/>
<rect x="295.15" y="335.71" width="9.72" height="9.08" fill="#cdd9ed"/>
<rect x="304.58" y="335.71" width="9.72" height="9.08" fill="#ccd9ee"/>
<rect x="314.00" y="335.71" width="9.72" height="9.08" fill="#cbd8ef"/>
<rect x="323.42" y="335.71" width="9.72" height="9.08" fill="#cbd8ef"/>
<rect x="332.85" y="335.71" width="9.72" height="9.08" fill="#cad8f0"/>
<rect x="342.27" y="335.71" width="9.72" height="9.08" fill="#cad8f0"/>
<rect x="351.70" y="335.71" width="9.72" height="9.08" fill="#c9d8f0"/>
<rect x="361.12" y="335.71" width="9.72" height="9.08" fill="#c9d8f0"/>
<rect x="370.55" y="335.71" width="9.72" height="9.08" fill="#c9d8f0"/>
<rect x="379.97" y="335.71" width="9.72" height="9.08" fill="#c8d7f1"/>
<rect x="389.40" y="335.71" width="9.72" height="9.08" fill="#c8d7f1"/>
<rect x="398.82" y="335.71" width="9.72" height="9.08" fill="#c6d7f2"/>
<rect x="408.24" y="335.71" width="9.72" height="9.08" fill="#c6d7f2"/>
<rect x="417.67" y="335.71" width="9.72" height="9.08" fill="#c6d7f2"/>
<rect x="427.09" y="335.71" width="9.72" height="9.08" fill="#c5d6f3"/>
<rect x="436.52" y="335.71" width="9.72" height="9.08" fill="#c5d6f3"/>
<rect x="445.94" y="335.71" width="9.72" height="9.08" fill="#c4d6f4"/>
<rect x="455.37" y="335.71" width="9.72" height="9.08" fill="#c4d6f4"/>
<rect x="464.79" y="335.71" width="9.72" height="9.08" fill="#c4d6f4"/>
<rect x="474.22" y="335.71" width="9.72" height="9.08" fill="#c3d5f4"/>
<rect x="483.64" y="335.71" width="9.72" height="9.08" fill="#c3d5f4"/>
<rect x="493.07" y="335.71" width="9.72" height="9.08" fill="#c3d5f4"/>
<rect x="502.49" y="335.71" width="9.72" height="9.08" fill="#c3d5f4"/>
<rect x="511.91" y="335.71" width="9.72" height="9.08" fill="#c2d4f5"/>
<rect x="521.34" y="335.71" width="9.72" height="9.08" fill="#c2d5f5"/>
<rect x="530.76" y="335.71" width="9.72" height="9.08" fill="#c2d5f5"/>
<rect x="540.19" y="335.71" width="5.01" height="9.08" fill="#c1d4f6"/>
<rect x="200.91" y="326.93" width="9.72" height="9.08" fill="#d9dce1"/>
<rect x="210.33" y="326.93" width="9.72" height="9.08" fill="#d8dce2"/>
<rect x="219.76" y="326.93" width="9.72" height="9.08" fill="#d7dce3"/>
<rect x="229.18" y="326.93" width="9.72" height="9.08" fill="#d6dce4"/>
<rect x="238.60" y="326.93" width="9.72" height="9.08" fill="#d5dce5"/>
<rect x="248.03" y="326.93" width="9.72" height="9.08" fill="#d6dce5"/>
<rect x="257.45" y="326.93" width="9.72" height="9.08" fill="#d4dbe6"/>
<rect x="266.88" y="326.93" width="9.72" height="9.08" fill="#d3dbe7"/>
<rect x="276.30" y="326.93" width="9.72" height="9.08" fill="#d3dbe7"/>
<rect x="285.73" y="326.93" width="9.72" height="9.08" fill="#d2dbe8"/>
<rect x="295.15" y="326.93" width="9.72" height="9.08" fill="#d1dbe9"/>
<rect x="304.58" y="326.93" width="9.72" height="9.08" fill="#d1dbe9"/>
<rect x="314.00" y="326.93" width="9.72" height="9.08" fill="#d0daea"/>
<rect x="323.42" y="326.93" width="9.72" height="9.08" fill="#d0daea"/>
<rect x="332.85" y="326.93" width="9.72" height="9.08" fill="#cfdaeb"/>
<rect x="342.27" y="326.93" width="9.72" height="9.08" fill="#cfdaeb"/>
<rect x="351.70" y="326.93" width="9.72" height="9.08" fill="#cedaec"/>
<rect x="361.12" y="326.93" width="9.72" height="9.08" fill="#cedaec"/>
<rect x="370.55" y="326.93" width="9.72" height="9.08" fill="#cdd9ed"/>
<rect x="379.97" y="326.93" width="9.72" height="9.08" fill="#cdd9ed"/>
<rect x="389.40" y="326.93" width="9.72" height="9.08" fill="#cdd9ed"/>
<rect x="398.82" y="326.93" width="9.72" height="9.08" fill="#ccd9ee"/>
<rect x="408.24" y="326.93" width="9.72" height="9.08" fill="#ccd9ee"/>
<rect x="417.67" y="326.93" width="9.72" height="9.08" fill="#cbd8ef"/>
<rect x="427.09" y="326.93" width="9.72" height="9.08" fill="#cbd8ef"/>
<rect x="436.52" y="326.93" width="9.72" height="9.08" fill="#cbd8ef"/>
<rect x="445.94" y="326.93" width="9.72" height="9.08" fill="#cad8f0"/>
<rect x="455.37" y="326.93" width="9.72" height="9.08" fill="#cad8f0"/>
<rect x="464.79" y="326.93" width="9.72" height="9.08" fill="#cad8f0"/>
<rect x="474.22" y="326.93" width="9.72" height="9.08" fill="#c9d8f0"/>
<rect x="483.64" y="326.93" width="9.72" height="9.08" fill="#c9d8f0"/>
<rect x="493.07" y="326.93" width="9.72" height="9.08" fill="#c9d8f0"/>
<rect x="502.49" y="326.93" width="9.72" height="9.08" fill="#c7d7f1"/>
<rect x="511.91" y="326.93" width="9.72" height="9.08" fill="#c8d7f1"/>
<rect x="521.34" y="326.93" width="9.72" height="9.08" fill="#c8d7f1"/>
<rect x="530.76" y="326.93" width="9.72" height="9.08" fill="#c6d7f2"/>
<rect x="540.19" y="326.93" width="5.01" height="9.08" fill="#c6d7f2"/>
<rect x="210.33" y="318.16" width="9.72" height="9.08" fill="#dddcdc"/>
<rect x="219.76" y="318.16" width="9.72" height="9.08" fill="#dcdddd"/>
<rect x="229.18" y="318.16" width="9.72" height="9.08" fill="#dbdcde"/>
<rect x="238.60" y="318.16" width="9.72" height="9.08" fill="#dadce0"/>
<rect x="248.03" y="318.16" width="9.72" height="9.08" fill="#d9dce1"/>
<rect x="257.45" y="318.16" width="9.72" height="9.08" fill="#d9dce1"/>
<rect x="266.88" y="318.16" width="9.72" height="9.08" fill="#d8dce2"/>
<rect x="276.30" y="318.16" width="9.72" height="9.08" fill="#d7dce3"/>
<rect x="285.73" y="318.16" width="9.72" height="9.08" fill="#d7dce3"/>
<rect x="295.15" y="318.16" width="9.72" height="9.08" fill="#d6dce4"/>
<rect x="304.58" y="318.16" width="9.72" height="9.08" fill="#d6dce4"/>
<rect x="314.00" y="318.16" width="9.72" height="9.08" fill="#d5dce5"/>
<rect x="323.42" y="318.16" width="9.72" height="9.08" fill="#d6dce5"/>
<rect x="332.85" y="318.16" width="9.72" height="9.08" fill="#d4dbe6"/>
<rect x="342.27" y="318.16" width="9.72" height="9.08" fill="#d5dbe6"/>
<rect x="351.70" y="318.16" width="9.72" height="9.08" fill="#d3dbe7"/>
<rect x="361.12" y="318.16" width="9.72" height="9.08" fill="#d3dbe7"/>
<rect x="370.55" y="318.16" width="9.72" height="9.08" fill="#d2dbe8"/>
<rect x="379.97" y="318.16" width="9.72" height="9.08" fill="#d2dbe8"/>
<rect x="389.40" y="318.16" width="9.72" height="9.08" fill="#d1dbe9"/>
<rect x="398.82" y="318.16" width="9.72" height="9.08" fill="#d1dbe9"/>
<rect x="408.24" y="318.16" width="9.72" height="9.08" fill="#d1dbe9"/>
<rect x="417.67" y="318.16" width="9.72" height="9.08" fill="#d0daea"/>
<rect x="427.09" y="318.16" width="9.72" height="9.08" fill="#d0daea"/>
<rect x="436.52" y="318.16" width="9.72" height="9.08" fill="#cfdaeb"/>
<rect x="445.94" y="318.16" width="9.72" height="9.08" fill="#cfdaeb"/>
<rect x="455.37" y="318.16" width="9.72" height="9.08" fill="#cfdaeb"/>
<rect x="464.79" y="318.16" width="9.72" height="9.08" fill="#cedaec"/>
<rect x="474.22" y="318.16" width="9.72" height="9.08" fill="#cedaec"/>
<rect x="483.64" y="318.16" width="9.72" height="9.08" fill="#cedaec"/>
<rect x="493.07" y="318.16" width="9.72" height="9.08" fill="#cdd9ed"/>
<rect x="502.49" y="318.16" width="9.72" height="9.08" fill="#cdd9ed"/>
<rect x="511.91" y="318.16" width="9.72" height="9.08" fill="#cdd9ed"/>
<rect x="521.34" y="318.16" width="9.72" height="9.08" fill="#cdd9ed"/>
<rect x="530.76" y="318.16" width="9.72" height="9.08" fill="#ccd9ee"/>
<rect x="540.19" y="318.16" width="5.01" height="9.08" fill="#ccd9ee"/>
<rect x="219.76" y="309.38" width="9.72" height="9.08" fill="#e1dad6"/>
<rect x="229.18" y="309.38" width="9.72" height="9.08" fill="#e0dbd8"/>
<rect x="238.60" y="309.38" width="9.72" height="9.08" fill="#dfdbd9"/>
<rect x="248.03" y="309.38" width="9.72" height="9.08" fill="#dedcda"/>
<rect x="257.45" y="309.38" width="9.72" height="9.08" fill="#dedcda"/>
<rect x="266.88" y="309.38" width="9.72" height="9.08" fill="#dddcdc"/>
<rect x="276.30" y="309.38" width="9.72" height="9.08" fill="#dcdddd"/>
<rect x="285.73" y="309.38" width="9.72" height="9.08" fill="#dcdddd"/>
<rect x="295.15" y="309.38" width="9.72" height="9.08" fill="#dbdcde"/>
<rect x="304.58" y="309.38" width="9.72" height="9.08" fill="#dadce0"/>
<rect x="314.00" y="309.38" width="9.72" height="9.08" fill="#dadce0"/>
<rect x="323.42" y="309.38" width="9.72" height="9.08" fill="#d9dce1"/>
<rect x="332.85" y="309.38" width="9.72" height="9.08" fill="#d9dce1"/>
<rect x="342.27" y="309.38" width="9.72" height="9.08" fill="#d8dce2"/>
<rect x="351.70" y="309.38" width="9.72" height="9.08" fill="#d8dce2"/>
<rect x="361.12" y="309.38" width="9.72" height="9.08" fill="#d7dce3"/>
<rect x="370.55" y="309.38" width="9.72" height="9.08" fill="#d7dce3"/>
<rect x="379.97" y="309.38" width="9.72" height="9.08" fill="#d7dce3"/>
<rect x="389.40" y="309.38" width="9.72" height="9.08" fill="#d6dce4"/>
<rect x="398.82" y="309.38" width="9.72" height="9.08" fill="#d6dce4"/>
<rect x="408.24" y="309.38" width="9.72" height="9.08" fill="#d5dce5"/>
<rect x="417.67" y="309.38" width="9.72" height="9.08" fill="#d5dce5"/>
<rect x="427.09" y="309.38" width="9.72" height="9.08" fill="#d6dce5"/>
<rect x="436.52" y="309.38" width="9.72" height="9.08" fill="#d4dbe6"/>
<rect x="445.94" y="309.38" width="9.72" height="9.08" fill="#d4dbe6"/>
<rect x="455.37" y="309.38" width="9.72" height="9.08" fill="#d5dbe6"/>
<rect x="464.79" y="309.38" width="9.72" height="9.08" fill="#d3dbe7"/>
<rect x="474.22" y="309.38" width="9.72" height="9.08" fill="#d3dbe7"/>
<rect x="483.64" y="309.38" width="9.72" height="9.08" fill="#d3dbe7"/>
<rect x="493.07" y="309.38" width="9.72" height="9.08" fill="#d2dbe8"/>
<rect x="502.49" y="309.38" width="9.72" height="9.08" fill="#d2dbe8"/>
<rect x="511.91" y="309.38" width="9.72" height="9.08" fill="#d2dbe8"/>
<rect x="521.34" y="309.38" width="9.72" height="9.08" fill="#d1dbe9"/>
<rect x="530.76" y="309.38" width="9.72" height="9.08" fill="#d1dbe9"/>
<rect x="540.19" y="309.38" width="5.01" height="9.08" fill="#d1dbe9"/>
<rect x="229.18" y="300.60" width="9.72" height="9.08" fill="#e4d7d0"/>
<rect x="238.60" y="300.60" width="9.72" height="9.08" fill="#e3d8d2"/>
<rect x="248.03" y="300.60" width="9.72" height="9.08" fill="#e2d9d3"/>
<rect x="257.45" y="300.60" width="9.72" height="9.08" fill="#e1d9d5"/>
<rect x="266.88" y="300.60" width="9.72" height="9.08" fill="#e2d9d5"/>
<rect x="276.30" y="300.60" width="9.72" height="9.08" fill="#e1dad6"/>
<rect x="285.73" y="300.60" width="9.72" height="9.08" fill="#e0dbd8"/>
<rect x="295.15" y="300.60" width="9.72" height="9.08" fill="#e0dbd8"/>
<rect x="304.58" y="300.60" width="9.72" height="9.08" fill="#dfdbd9"/>
<rect x="314.00" y="300.60" width="9.72" height="9.08" fill="#dfdbd9"/>
<rect x="323.42" y="300.60" width="9.72" height="9.08" fill="#dedcda"/>
<rect x="332.85" y="300.60" width="9.72" height="9.08" fill="#dedcda"/>
<rect x="342.27" y="300.60" width="9.72" height="9.08" fill="#dddcdc"/>
<rect x="351.70" y="300.60" width="9.72" height="9.08" fill="#dddcdc"/>
<rect x="361.12" y="300.60" width="9.72" height="9.08" fill="#dcdddd"/>
<rect x="370.55" y="300.60" width="9.72" height="9.08" fill="#dcdddd"/>
<rect x="379.97" y="300.60" width="9.72" height="9.08" fill="#dbdcde"/>
<rect x="389.40" y="300.60" width="9.72" height="9.08" fill="#dbdcde"/>
<rect x="398.82" y="300.60" width="9.72" height="9.08" fill="#dbdcde"/>
<rect x="408.24" y="300.60" width="9.72" height="9.08" fill="#dadce0"/>
<rect x="417.67" y="300.60" width="9.72" height="9.08" fill="#dadce0"/>
<rect x="427.09" y="300.60" width="9.72" height="9.08" fill="#d9dce1"/>
<rect x="436.52" y="300.60" width="9.72" height="9.08" fill="#d9dce1"/>
<rect x="445.94" y="300.60" width="9.72" height="9.08" fill="#d9dce1"/>
<rect x="455.37" y="300.60" width="9.72" height="9.08" fill="#d8dce2"/>
<rect x="464.79" y="300.60" width="9.72" height="9.08" fill="#d8dce2"/>
<rect x="474.22" y="300.60" width="9.72" height="9.08" fill="#d8dce2"/>
<rect x="483.64" y="300.60" width="9.72" height="9.08" fill="#d7dce3"/>
<rect x="493.07" y="300.60" width="9.72" height="9.08" fill="#d7dce3"/>
<rect x="502.49" y="300.60" width="9.72" height="9.08" fill="#d7dce3"/>
<rect x="511.91" y="300.60" width="9.72" height="9.08" fill="#d6dce4"/>
<rect x="521.34" y="300.60" width="9.72" height="9.08" fill="#d6dce4"/>
<rect x="530.76" y="300.60" width="9.72" height="9.08" fill="#d6dce4"/>
<rect x="540.19" y="300.60" width="5.01" height="9.08" fill="#d6dce4"/>
<rect x="238.60" y="291.83" width="9.72" height="9.08" fill="#e7d4ca"/>
<rect x="248.03" y="291.83" width="9.72" height="9.08" fill="#e6d5cc"/>
<rect x="257.45" y="291.83" width="9.72" height="9.08" fill="#e5d6cd"/>
<rect x="266.88" y="291.83" width="9.72" height="9.08" fill="#e5d7cf"/>
<rect x="276.30" y="291.83" width="9.72" height="9.08" fill="#e5d7cf"/>
<rect x="285.73" y="291.83" width="9.72" height="9.08" fill="#e4d7d0"/>
<rect x="295.15" y="291.83" width="9.72" height="9.08" fill="#e4d7d0"/>
<rect x="304.58" y="291.83" width="9.72" height="9.08" fill="#e3d8d2"/>
<rect x="314.00" y="291.83" width="9.72" height="9.08" fill="#e3d8d2"/>
<rect x="323.42" y="291.83" width="9.72" height="9.08" fill="#e2d9d3"/>
<rect x="332.85" y="291.83" width="9.72" height="9.08" fill="#e1d9d5"/>
<rect x="342.27" y="291.83" width="9.72" height="9.08" fill="#e2d9d5"/>
<rect x="351.70" y="291.83" width="9.72" height="9.08" fill="#e2d9d5"/>
<rect x="361.12" y="291.83" width="9.72" height="9.08" fill="#e1dad6"/>
<rect x="370.55" y="291.83" width="9.72" height="9.08" fill="#e1dad6"/>
<rect x="379.97" y="291.83" width="9.72" height="9.08" fill="#e0dbd8"/>
<rect x="389.40" y="291.83" width="9.72" height="9.08" fill="#e0dbd8"/>
<rect x="398.82" y="291.83" width="9.72" height="9.08" fill="#dfdbd9"/>
<rect x="408.24" y="291.83" width="9.72" height="9.08" fill="#dfdbd9"/>
<rect x="417.67" y="291.83" width="9.72" height="9.08" fill="#dfdbd9"/>
<rect x="427.09" y="291.83" width="9.72" height="9.08" fill="#dedcda"/>
<rect x="436.52" y="291.83" width="9.72" height="9.08" fill="#dedcda"/>
<rect x="445.94" y="291.83" width="9.72" height="9.08" fill="#dedcda"/>
<rect x="455.37" y="291.83" width="9.72" height="9.08" fill="#dddcdc"/>
<rect x="464.79" y="291.83" width="9.72" height="9.08" fill="#dddcdc"/>
<rect x="474.22" y="291.83" width="9.72" height="9.08" fill="#dddcdc"/>
<rect x="483.64" y="291.83" width="9.72" height="9.08" fill="#dcdddd"/>
<rect x="493.07" y="291.83" width="9.72" height="9.08" fill="#dcdddd"/>
<rect x="502.49" y="291.83" width="9.72" height="9.08" fill="#dcdddd"/>
<rect x="511.91" y="291.83" width="9.72" height="9.08" fill="#dbdcde"/>
<rect x="521.34" y="291.83" width="9.72" height="9.08" fill="#dbdcde"/>
<rect x="530.76" y="291.83" width="9.72" height="9.08" fill="#dbdcde"/>
<rect x="540.19" y="291.83" width="5.01" height="9.08" fill="#dadce0"/>
<rect x="248.03" y="283.05" width="9.72" height="9.08" fill="#e9d1c4"/>
<rect x="257.45" y="283.05" width="9.72" height="9.08" fill="#e9d2c5"/>
<rect x="266.88" y="283.05" width="9.72" height="9.08" fill="#e8d3c7"/>
<rect x="276.30" y="283.05" width="9.72" height="9.08" fill="#e8d3c7"/>
<rect x="285.73" y="283.05" width="9.72" height="9.08" fill="#e7d4c8"/>
<rect x="295.15" y="283.05" width="9.72" height="9.08" fill="#e7d4ca"/>
<rect x="304.58" y="283.05" width="9.72" height="9.08" fill="#e7d4ca"/>
<rect x="314.00" y="283.05" width="9.72" height="9.08" fill="#e6d5cc"/>
<rect x="323.42" y="283.05" width="9.72" height="9.08" fill="#e6d5cc"/>
<rect x="332.85" y="283.05" width="9.72" height="9.08" fill="#e5d6cd"/>
<rect x="342.27" y="283.05" width="9.72" height="9.08" fill="#e5d6cd"/>
<rect x="351.70" y="283.05" width="9.72" height="9.08" fill="#e5d7cf"/>
<rect x="361.12" y="283.05" width="9.72" height="9.08" fill="#e5d7cf"/>
<rect x="370.55" y="283.05" width="9.72" height="9.08" fill="#e4d7d0"/>
<rect x="379.97" y="283.05" width="9.72" height="9.08" fill="#e4d7d0"/>
<rect x="389.40" y="283.05" width="9.72" height="9.08" fill="#e4d7d0"/>
<rect x="398.82" y="283.05" width="9.72" height="9.08" fill="#e3d8d2"/>
<rect x="408.24" y="283.05" width="9.72" height="9.08" fill="#e3d8d2"/>
<rect x="417.67" y="283.05" width="9.72" height="9.08" fill="#e2d9d3"/>
<rect x="427.09" y="283.05" width="9.72" height="9.08" fill="#e2d9d3"/>
<rect x="436.52" y="283.05" width="9.72" height="9.08" fill="#e2d9d3"/>
<rect x="445.94" y="283.05" width="9.72" height="9.08" fill="#e1d9d5"/>
<rect x="455.37" y="283.05" width="9.72" height="9.08" fill="#e2d9d5"/>
<rect x="464.79" y="283.05" width="9.72" height="9.08" fill="#e2d9d5"/>
<rect x="474.22" y="283.05" width="9.72" height="9.08" fill="#e1dad6"/>
<rect x="483.64" y="283.05" width="9.72" height="9.08" fill="#e1dad6"/>
<rect x="493.07" y="283.05" width="9.72" height="9.08" fill="#e1dad6"/>
<rect x="502.49" y="283.05" width="9.72" height="9.08" fill="#e0dbd8"/>
<rect x="511.91" y="283.05" width="9.72" height="9.08" fill="#e0dbd8"/>
<rect x="521.34" y="283.05" width="9.72" height="9.08" fill="#e0dbd8"/>
<rect x="530.76" y="283.05" width="9.72" height="9.08" fill="#e0dbd8"/>
<rect x="540.19" y="283.05" width="5.01" height="9.08" fill="#dfdbd9"/>
<rect x="257.45" y="274.28" width="9.72" height="9.08" fill="#ebcebe"/>
<rect x="266.88" y="274.28" width="9.72" height="9.08" fill="#ebcebf"/>
<rect x="276.30" y="274.28" width="9.72" height="9.08" fill="#eacfc1"/>
<rect x="285.73" y="274.28" width="9.72" height="9.08" fill="#eacfc1"/>
<rect x="295.15" y="274.28" width="9.72" height="9.08" fill="#ead0c2"/>
<rect x="304.58" y="274.28" width="9.72" height="9.08" fill="#ead0c2"/>
<rect x="314.00" y="274.28" width="9.72" height="9.08" fill="#e9d1c4"/>
<rect x="323.42" y="274.28" width="9.72" height="9.08" fill="#e9d1c4"/>
<rect x="332.85" y="274.28" width="9.72" height="9.08" fill="#e9d2c5"/>
<rect x="342.27" y="274.28" width="9.72" height="9.08" fill="#e9d2c5"/>
<rect x="351.70" y="274.28" width="9.72" height="9.08" fill="#e8d3c7"/>
<rect x="361.12" y="274.28" width="9.72" height="9.08" fill="#e8d3c7"/>
<rect x="370.55" y="274.28" width="9.72" height="9.08" fill="#e7d4c8"/>
<rect x="379.97" y="274.28" width="9.72" height="9.08" fill="#e8d4c8"/>
<rect x="389.40" y="274.28" width="9.72" height="9.08" fill="#e7d4ca"/>
<rect x="398.82" y="274.28" width="9.72" height="9.08" fill="#e7d4ca"/>
<rect x="408.24" y="274.28" width="9.72" height="9.08" fill="#e7d4ca"/>
<rect x="417.67" y="274.28" width="9.72" height="9.08" fill="#e6d5cc"/>
<rect x="427.09" y="274.28" width="9.72" height="9.08" fill="#e6d5cc"/>
<rect x="436.52" y="274.28" width="9.72" height="9.08" fill="#e6d5cc"/>
<rect x="445.94" y="274.28" width="9.72" height="9.08" fill="#e5d6cd"/>
<rect x="455.37" y="274.28" width="9.72" height="9.08" fill="#e5d6cd"/>
<rect x="464.79" y="274.28" width="9.72" height="9.08" fill="#e5d7cf"/>
<rect x="474.22" y="274.28" width="9.72" height="9.08" fill="#e5d7cf"/>
<rect x="483.64" y="274.28" width="9.72" height="9.08" fill="#e5d7cf"/>
<rect x="493.07" y="274.28" width="9.72" height="9.08" fill="#e5d7cf"/>
<rect x="502.49" y="274.28" width="9.72" height="9.08" fill="#e4d7d0"/>
<rect x="511.91" y="274.28" width="9.72" height="9.08" fill="#e4d7d0"/>
<rect x="521.34" y="274.28" width="9.72" height="9.08" fill="#e4d7d0"/>
<rect x="530.76" y="274.28" width="9.72" height="9.08" fill="#e3d8d2"/>
<rect x="540.19" y="274.28" width="5.01" height="9.08" fill="#e3d8d2"/>
<rect x="266.88" y="265.50" width="9.72" height="9.08" fill="#edcab7"/>
<rect x="276.30" y="265.50" width="9.72" height="9.08" fill="#edcbb9"/>
<rect x="285.73" y="265.50" width="9.72" height="9.08" fill="#edcbb9"/>
<rect x="295.15" y="265.50" width="9.72" height="9.08" fill="#ecccba"/>
<rect x="304.58" y="265.50" width="9.72" height="9.08" fill="#ecccba"/>
<rect x="314.00" y="265.50" width="9.72" height="9.08" fill="#eccdbc"/>
<rect x="323.42" y="265.50" width="9.72" height="9.08" fill="#ebcdbe"/>
<rect x="332.85" y="265.50" width="9.72" height="9.08" fill="#ebcebe"/>
<rect x="342.27" y="265.50" width="9.72" height="9.08" fill="#ebcebf"/>
<rect x="351.70" y="265.50" width="9.72" height="9.08" fill="#ebcebf"/>
<rect x="361.12" y="265.50" width="9.72" height="9.08" fill="#ebcebf"/>
<rect x="370.55" y="265.50" width="9.72" height="9.08" fill="#eacfc1"/>
<rect x="379.97" y="265.50" width="9.72" height="9.08" fill="#eacfc1"/>
<rect x="389.40" y="265.50" width="9.72" height="9.08" fill="#ead0c2"/>
<rect x="398.82" y="265.50" width="9.72" height="9.08" fill="#ead0c2"/>
<rect x="408.24" y="265.50" width="9.72" height="9.08" fill="#e9d1c4"/>
<rect x="417.67" y="265.50" width="9.72" height="9.08" fill="#e9d1c4"/>
<rect x="427.09" y="265.50" width="9.72" height="9.08" fill="#e9d1c4"/>
<rect x="436.52" y="265.50" width="9.72" height="9.08" fill="#e9d2c5"/>
<rect x="445.94" y="265.50" width="9.72" height="9.08" fill="#e9d2c5"/>
<rect x="455.37" y="265.50" width="9.72" height="9.08" fill="#e9d2c5"/>
<rect x="464.79" y="265.50" width="9.72" height="9.08" fill="#e8d3c7"/>
<rect x="474.22" y="265.50" width="9.72" height="9.08" fill="#e8d3c7"/>
<rect x="483.64" y="265.50" width="9.72" height="9.08" fill="#e8d3c7"/>
<rect x="493.07" y="265.50" width="9.72" height="9.08" fill="#e7d4c8"/>
<rect x="502.49" y="265.50" width="9.72" height="9.08" fill="#e7d4c8"/>
<rect x="511.91" y="265.50" width="9.72" height="9.08" fill="#e8d4c8"/>
<rect x="521.34" y="265.50" width="9.72" height="9.08" fill="#e7d4ca"/>
<rect x="530.76" y="265.50" width="9.72" height="9.08" fill="#e7d4ca"/>
<rect x="540.19" y="265.50" width="5.01" height="9.08" fill="#e7d4ca"/>
<rect x="276.30" y="256.73" width="9.72" height="9.08" fill="#eec5b1"/>
<rect x="285.73" y="256.73" width="9.72" height="9.08" fill="#eec6b2"/>
<rect x="295.15" y="256.73" width="9.72" height="9.08" fill="#eec7b2"/>
<rect x="304.58" y="256.73" width="9.72" height="9.08" fill="#eec8b4"/>
<rect x="314.00" y="256.73" width="9.72" height="9.08" fill="#eec8b4"/>
<rect x="323.42" y="256.73" width="9.72" height="9.08" fill="#eec9b6"/>
<rect x="332.85" y="256.73" width="9.72" height="9.08" fill="#eec9b6"/>
<rect x="342.27" y="256.73" width="9.72" height="9.08" fill="#edcab7"/>
<rect x="351.70" y="256.73" width="9.72" height="9.08" fill="#edcab7"/>
<rect x="361.12" y="256.73" width="9.72" height="9.08" fill="#edcbb9"/>
<rect x="370.55" y="256.73" width="9.72" height="9.08" fill="#edcbb9"/>
<rect x="379.97" y="256.73" width="9.72" height="9.08" fill="#ecccba"/>
<rect x="389.40" y="256.73" width="9.72" height="9.08" fill="#ecccba"/>
<rect x="398.82" y="256.73" width="9.72" height="9.08" fill="#ecccba"/>
<rect x="408.24" y="256.73" width="9.72" height="9.08" fill="#eccdbc"/>
<rect x="417.67" y="256.73" width="9.72" height="9.08" fill="#eccdbc"/>
<rect x="427.09" y="256.73" width="9.72" height="9.08" fill="#eccdbc"/>
<rect x="436.52" y="256.73" width="9.72" height="9.08" fill="#ebcebe"/>
<rect x="445.94" y="256.73" width="9.72" height="9.08" fill="#ebcebe"/>
<rect x="455.37" y="256.73" width="9.72" height="9.08" fill="#ebcebf"/>
<rect x="464.79" y="256.73" width="9.72" height="9.08" fill="#ebcebf"/>
<rect x="474.22" y="256.73" width="9.72" height="9.08" fill="#ebcebf"/>
<rect x="483.64" y="256.73" width="9.72" height="9.08" fill="#eacfc1"/>
<rect x="493.07" y="256.73" width="9.72" height="9.08" fill="#eacfc1"/>
<rect x="502.49" y="256.73" width="9.72" height="9.08" fill="#eacfc1"/>
<rect x="511.91" y="256.73" width="9.72" height="9.08" fill="#eacfc1"/>
<rect x="521.34" y="256.73" width="9.72" height="9.08" fill="#ead0c2"/>
<rect x="530.76" y="256.73" width="9.72" height="9.08" fill="#ead0c2"/>
<rect x="540.19" y="256.73" width="5.01" height="9.08" fill="#ead0c2"/>
<rect x="285.73" y="247.95" width="9.72" height="9.08" fill="#f0c1aa"/>
<rect x="295.15" y="247.95" width="9.72" height="9.08" fill="#f0c1aa"/>
<rect x="304.58" y="247.95" width="9.72" height="9.08" fill="#efc2ac"/>
<rect x="314.00" y="247.95" width="9.72" height="9.08" fill="#efc2ac"/>
<rect x="323.42" y="247.95" width="9.72" height="9.08" fill="#efc3ae"/>
<rect x="332.85" y="247.95" width="9.72" height="9.08" fill="#efc3ae"/>
<rect x="342.27" y="247.95" width="9.72" height="9.08" fill="#efc4af"/>
<rect x="351.70" y="247.95" width="9.72" height="9.08" fill="#efc4af"/>
<rect x="361.12" y="247.95" width="9.72" height="9.08" fill="#eec5b1"/>
<rect x="370.55" y="247.95" width="9.72" height="9.08" fill="#efc5b1"/>
<rect x="379.97" y="247.95" width="9.72" height="9.08" fill="#eec6b2"/>
<rect x="389.40" y="247.95" width="9.72" height="9.08" fill="#eec7b2"/>
<rect x="398.82" y="247.95" width="9.72" height="9.08" fill="#eec8b4"/>
<rect x="408.24" y="247.95" width="9.72" height="9.08" fill="#eec8b4"/>
<rect x="417.67" y="247.95" width="9.72" height="9.08" fill="#eec8b4"/>
<rect x="427.09" y="247.95" width="9.72" height="9.08" fill="#eec9b6"/>
<rect x="436.52" y="247.95" width="9.72" height="9.08" fill="#eec9b6"/>
<rect x="445.94" y="247.95" width="9.72" height="9.08" fill="#eec9b6"/>
<rect x="455.37" y="247.95" width="9.72" height="9.08" fill="#edcab7"/>
<rect x="464.79" y="247.95" width="9.72" height="9.08" fill="#edcab7"/>
<rect x="474.22" y="247.95" width="9.72" height="9.08" fill="#edcab7"/>
<rect x="483.64" y="247.95" width="9.72" height="9.08" fill="#edcbb9"/>
<rect x="493.07" y="247.95" width="9.72" height="9.08" fill="#edcbb9"/>
<rect x="502.49" y="247.95" width="9.72" height="9.08" fill="#edcbb9"/>
<rect x="511.91" y="247.95" width="9.72" height="9.08" fill="#ecccba"/>
<rect x="521.34" y="247.95" width="9.72" height="9.08" fill="#ecccba"/>
<rect x="530.76" y="247.95" width="9.72" height="9.08" fill="#ecccba"/>
<rect x="540.19" y="247.95" width="5.01" height="9.08" fill="#ecccba"/>
<rect x="295.15" y="239.18" width="9.72" height="9.08" fill="#f0bba2"/>
<rect x="304.58" y="239.18" width="9.72" height="9.08" fill="#f0bca4"/>
<rect x="314.00" y="239.18" width="9.72" height="9.08" fill="#f0bda5"/>
<rect x="323.42" y="239.18" width="9.72" height="9.08" fill="#f0bda6"/>
<rect x="332.85" y="239.18" width="9.72" height="9.08" fill="#f0bfa7"/>
<rect x="342.27" y="239.18" width="9.72" height="9.08" fill="#f0bfa7"/>
<rect x="351.70" y="239.18" width="9.72" height="9.08" fill="#f0c0a9"/>
<rect x="361.12" y="239.18" width="9.72" height="9.08" fill="#f0c0a9"/>
<rect x="370.55" y="239.18" width="9.72" height="9.08" fill="#f0c0a9"/>
<rect x="379.97" y="239.18" width="9.72" height="9.08" fill="#f0c1aa"/>
<rect x="389.40" y="239.18" width="9.72" height="9.08" fill="#f0c1aa"/>
<rect x="398.82" y="239.18" width="9.72" height="9.08" fill="#efc2ac"/>
<rect x="408.24" y="239.18" width="9.72" height="9.08" fill="#efc2ac"/>
<rect x="417.67" y="239.18" width="9.72" height="9.08" fill="#efc2ac"/>
<rect x="427.09" y="239.18" width="9.72" height="9.08" fill="#efc3ae"/>
<rect x="436.52" y="239.18" width="9.72" height="9.08" fill="#efc3ae"/>
<rect x="445.94" y="239.18" width="9.72" height="9.08" fill="#efc4af"/>
<rect x="455.37" y="239.18" width="9.72" height="9.08" fill="#efc4af"/>
<rect x="464.79" y="239.18" width="9.72" height="9.08" fill="#efc4af"/>
<rect x="474.22" y="239.18" width="9.72" height="9.08" fill="#eec5b1"/>
<rect x="483.64" y="239.18" width="9.72" height="9.08" fill="#eec5b1"/>
<rect x="493.07" y="239.18" width="9.72" height="9.08" fill="#efc5b1"/>
<rect x="502.49" y="239.18" width="9.72" height="9.08" fill="#eec6b2"/>
<rect x="511.91" y="239.18" width="9.72" height="9.08" fill="#eec6b2"/>
<rect x="521.34" y="239.18" width="9.72" height="9.08" fill="#eec7b2"/>
<rect x="530.76" y="239.18" width="9.72" height="9.08" fill="#eec7b2"/>
<rect x="540.19" y="239.18" width="5.01" height="9.08" fill="#eec8b4"/>
<rect x="304.58" y="230.40" width="9.72" height="9.08" fill="#f0b69c"/>
<rect x="314.00" y="230.40" width="9.72" height="9.08" fill="#f0b79d"/>
<rect x="323.42" y="230.40" width="9.72" height="9.08" fill="#f0b79d"/>
<rect x="332.85" y="230.40" width="9.72" height="9.08" fill="#f0b89f"/>
<rect x="342.27" y="230.40" width="9.72" height="9.08" fill="#f0b99f"/>
<rect x="351.70" y="230.40" width="9.72" height="9.08" fill="#f0baa1"/>
<rect x="361.12" y="230.40" width="9.72" height="9.08" fill="#f0baa1"/>
<rect x="370.55" y="230.40" width="9.72" height="9.08" fill="#f0bba2"/>
<rect x="379.97" y="230.40" width="9.72" height="9.08" fill="#f0bba2"/>
<rect x="389.40" y="230.40" width="9.72" height="9.08" fill="#f0bba2"/>
<rect x="398.82" y="230.40" width="9.72" height="9.08" fill="#f0bca4"/>
<rect x="408.24" y="230.40" width="9.72" height="9.08" fill="#f0bca4"/>
<rect x="417.67" y="230.40" width="9.72" height="9.08" fill="#f0bda5"/>
<rect x="427.09" y="230.40" width="9.72" height="9.08" fill="#f0bda6"/>
<rect x="436.52" y="230.40" width="9.72" height="9.08" fill="#f0bda6"/>
<rect x="445.94" y="230.40" width="9.72" height="9.08" fill="#f0bfa7"/>
<rect x="455.37" y="230.40" width="9.72" height="9.08" fill="#f0bfa7"/>
<rect x="464.79" y="230.40" width="9.72" height="9.08" fill="#f0bfa7"/>
<rect x="474.22" y="230.40" width="9.72" height="9.08" fill="#f0c0a9"/>
<rect x="483.64" y="230.40" width="9.72" height="9.08" fill="#f0c0a9"/>
<rect x="493.07" y="230.40" width="9.72" height="9.08" fill="#f0c0a9"/>
<rect x="502.49" y="230.40" width="9.72" height="9.08" fill="#f0c1aa"/>
<rect x="511.91" y="230.40" width="9.72" height="9.08" fill="#f0c1aa"/>
<rect x="521.34" y="230.40" width="9.72" height="9.08" fill="#f0c1aa"/>
<rect x="530.76" y="230.40" width="9.72" height="9.08" fill="#efc2ac"/>
<rect x="540.19" y="230.40" width="5.01" height="9.08" fill="#efc2ac"/>
<rect x="314.00" y="221.62" width="9.72" height="9.08" fill="#f0b095"/>
<rect x="323.42" y="221.62" width="9.72" height="9.08" fill="#f0b095"/>
<rect x="332.85" y="221.62" width="9.72" height="9.08" fill="#f0b297"/>
<rect x="342.27" y="221.62" width="9.72" height="9.08" fill="#f0b297"/>
<rect x="351.70" y="221.62" width="9.72" height="9.08" fill="#f0b399"/>
<rect x="361.12" y="221.62" width="9.72" height="9.08" fill="#f0b399"/>
<rect x="370.55" y="221.62" width="9.72" height="9.08" fill="#f0b49a"/>
<rect x="379.97" y="221.62" width="9.72" height="9.08" fill="#f0b59a"/>
<rect x="389.40" y="221.62" width="9.72" height="9.08" fill="#f0b69c"/>
<rect x="398.82" y="221.62" width="9.72" height="9.08" fill="#f0b69c"/>
<rect x="408.24" y="221.62" width="9.72" height="9.08" fill="#f0b69c"/>
<rect x="417.67" y="221.62" width="9.72" height="9.08" fill="#f0b79d"/>
<rect x="427.09" y="221.62" width="9.72" height="9.08" fill="#f0b79d"/>
<rect x="436.52" y="221.62" width="9.72" height="9.08" fill="#f0b89f"/>
<rect x="445.94" y="221.62" width="9.72" height="9.08" fill="#f0b99f"/>
<rect x="455.37" y="221.62" width="9.72" height="9.08" fill="#f0b99f"/>
<rect x="464.79" y="221.62" width="9.72" height="9.08" fill="#f0baa1"/>
<rect x="474.22" y="221.62" width="9.72" height="9.08" fill="#f0baa1"/>
<rect x="483.64" y="221.62" width="9.72" height="9.08" fill="#f0baa1"/>
<rect x="493.07" y="221.62" width="9.72" height="9.08" fill="#f0bba2"/>
<rect x="502.49" y="221.62" width="9.72" height="9.08" fill="#f0bba2"/>
<rect x="511.91" y="221.62" width="9.72" height="9.08" fill="#f0bba2"/>
<rect x="521.34" y="221.62" width="9.72" height="9.08" fill="#f0bba2"/>
<rect x="530.76" y="221.62" width="9.72" height="9.08" fill="#f0bca4"/>
<rect x="540.19" y="221.62" width="5.01" height="9.08" fill="#f0bca4"/>
<rect x="323.42" y="212.85" width="9.72" height="9.08" fill="#efab8f"/>
<rect x="332.85" y="212.85" width="9.72" height="9.08" fill="#efab8f"/>
<rect x="342.27" y="212.85" width="9.72" height="9.08" fill="#f0ac90"/>
<rect x="351.70" y="212.85" width="9.72" height="9.08" fill="#f0ac90"/>
<rect x="361.12" y="212.85" width="9.72" height="9.08" fill="#f0ae92"/>
<rect x="370.55" y="212.85" width="9.72" height="9.08" fill="#f0ae92"/>
<rect x="379.97" y="212.85" width="9.72" height="9.08" fill="#f0ae92"/>
<rect x="389.40" y="212.85" width="9.72" height="9.08" fill="#f0af94"/>
<rect x="398.82" y="212.85" width="9.72" height="9.08" fill="#f0af94"/>
<rect x="408.24" y="212.85" width="9.72" height="9.08" fill="#f0b095"/>
<rect x="417.67" y="212.85" width="9.72" height="9.08" fill="#f0b095"/>
<rect x="427.09" y="212.85" width="9.72" height="9.08" fill="#f0b095"/>
<rect x="436.52" y="212.85" width="9.72" height="9.08" fill="#f0b297"/>
<rect x="445.94" y="212.85" width="9.72" height="9.08" fill="#f0b297"/>
<rect x="455.37" y="212.85" width="9.72" height="9.08" fill="#f0b297"/>
<rect x="464.79" y="212.85" width="9.72" height="9.08" fill="#f0b399"/>
<rect x="474.22" y="212.85" width="9.72" height="9.08" fill="#f0b399"/>
<rect x="483.64" y="212.85" width="9.72" height="9.08" fill="#f0b399"/>
<rect x="493.07" y="212.85" width="9.72" height="9.08" fill="#f0b49a"/>
<rect x="502.49" y="212.85" width="9.72" height="9.08" fill="#f0b49a"/>
<rect x="511.91" y="212.85" width="9.72" height="9.08" fill="#f0b59a"/>
<rect x="521.34" y="212.85" width="9.72" height="9.08" fill="#f0b69c"/>
<rect x="530.76" y="212.85" width="9.72" height="9.08" fill="#f0b69c"/>
<rect x="540.19" y="212.85" width="5.01" height="9.08" fill="#f0b69c"/>
<rect x="332.85" y="204.07" width="9.72" height="9.08" fill="#eea387"/>
<rect x="342.27" y="204.07" width="9.72" height="9.08" fill="#eea588"/>
<rect x="351.70" y="204.07" width="9.72" height="9.08" fill="#eea588"/>
<rect x="361.12" y="204.07" width="9.72" height="9.08" fill="#efa68a"/>
<rect x="370.55" y="204.07" width="9.72" height="9.08" fill="#efa68a"/>
<rect x="379.97" y="204.07" width="9.72" height="9.08" fill="#efa88c"/>
<rect x="389.40" y="204.07" width="9.72" height="9.08" fill="#efa88c"/>
<rect x="398.82" y="204.07" width="9.72" height="9.08" fill="#efa88c"/>
<rect x="408.24" y="204.07" width="9.72" height="9.08" fill="#efa98d"/>
<rect x="417.67" y="204.07" width="9.72" height="9.08" fill="#efa98d"/>
<rect x="427.09" y="204.07" width="9.72" height="9.08" fill="#efab8f"/>
<rect x="436.52" y="204.07" width="9.72" height="9.08" fill="#efab8f"/>
<rect x="445.94" y="204.07" width="9.72" height="9.08" fill="#efab8f"/>
<rect x="455.37" y="204.07" width="9.72" height="9.08" fill="#f0ac90"/>
<rect x="464.79" y="204.07" width="9.72" height="9.08" fill="#f0ac90"/>
<rect x="474.22" y="204.07" width="9.72" height="9.08" fill="#f0ac90"/>
<rect x="483.64" y="204.07" width="9.72" height="9.08" fill="#f0ae92"/>
<rect x="493.07" y="204.07" width="9.72" height="9.08" fill="#f0ae92"/>
<rect x="502.49" y="204.07" width="9.72" height="9.08" fill="#f0ae92"/>
<rect x="511.91" y="204.07" width="9.72" height="9.08" fill="#f0af94"/>
<rect x="521.34" y="204.07" width="9.72" height="9.08" fill="#f0af94"/>
<rect x="530.76" y="204.07" width="9.72" height="9.08" fill="#f0af94"/>
<rect x="540.19" y="204.07" width="5.01" height="9.08" fill="#f0af94"/>
<rect x="342.27" y="195.30" width="9.72" height="9.08" fill="#ed9d80"/>
<rect x="351.70" y="195.30" width="9.72" height="9.08" fill="#ed9d80"/>
<rect x="361.12" y="195.30" width="9.72" height="9.08" fill="#ed9f82"/>
<rect x="370.55" y="195.30" width="9.72" height="9.08" fill="#ed9f82"/>
<rect x="379.97" y="195.30" width="9.72" height="9.08" fill="#eda083"/>
<rect x="389.40" y="195.30" width="9.72" height="9.08" fill="#eea083"/>
<rect x="398.82" y="195.30" width="9.72" height="9.08" fill="#eea285"/>
<rect x="408.24" y="195.30" width="9.72" height="9.08" fill="#eea285"/>
<rect x="417.67" y="195.30" width="9.72" height="9.08" fill="#eea285"/>
<rect x="427.09" y="195.30" width="9.72" height="9.08" fill="#eea387"/>
<rect x="436.52" y="195.30" width="9.72" height="9.08" fill="#eea387"/>
<rect x="445.94" y="195.30" width="9.72" height="9.08" fill="#eea387"/>
<rect x="455.37" y="195.30" width="9.72" height="9.08" fill="#eea588"/>
<rect x="464.79" y="195.30" width="9.72" height="9.08" fill="#eea588"/>
<rect x="474.22" y="195.30" width="9.72" height="9.08" fill="#eea588"/>
<rect x="483.64" y="195.30" width="9.72" height="9.08" fill="#efa68a"/>
<rect x="493.07" y="195.30" width="9.72" height="9.08" fill="#efa68a"/>
<rect x="502.49" y="195.30" width="9.72" height="9.08" fill="#efa68a"/>
<rect x="511.91" y="195.30" width="9.72" height="9.08" fill="#efa88c"/>
<rect x="521.34" y="195.30" width="9.72" height="9.08" fill="#efa88c"/>
<rect x="530.76" y="195.30" width="9.72" height="9.08" fill="#efa88c"/>
<rect x="540.19" y="195.30" width="5.01" height="9.08" fill="#efa98d"/>
<rect x="351.70" y="186.52" width="9.72" height="9.08" fill="#eb977a"/>
<rect x="361.12" y="186.52" width="9.72" height="9.08" fill="#eb977a"/>
<rect x="370.55" y="186.52" width="9.72" height="9.08" fill="#eb987b"/>
<rect x="379.97" y="186.52" width="9.72" height="9.08" fill="#eb987b"/>
<rect x="389.40" y="186.52" width="9.72" height="9.08" fill="#eb987b"/>
<rect x="398.82" y="186.52" width="9.72" height="9.08" fill="#ec9a7d"/>
<rect x="408.24" y="186.52" width="9.72" height="9.08" fill="#ec9a7d"/>
<rect x="417.67" y="186.52" width="9.72" height="9.08" fill="#ec9c7f"/>
<rect x="427.09" y="186.52" width="9.72" height="9.08" fill="#ec9c7f"/>
<rect x="436.52" y="186.52" width="9.72" height="9.08" fill="#ec9c7f"/>
<rect x="445.94" y="186.52" width="9.72" height="9.08" fill="#ed9d80"/>
<rect x="455.37" y="186.52" width="9.72" height="9.08" fill="#ed9d80"/>
<rect x="464.79" y="186.52" width="9.72" height="9.08" fill="#ed9d80"/>
<rect x="474.22" y="186.52" width="9.72" height="9.08" fill="#ed9f82"/>
<rect x="483.64" y="186.52" width="9.72" height="9.08" fill="#ed9f82"/>
<rect x="493.07" y="186.52" width="9.72" height="9.08" fill="#ed9f82"/>
<rect x="502.49" y="186.52" width="9.72" height="9.08" fill="#eda083"/>
<rect x="511.91" y="186.52" width="9.72" height="9.08" fill="#eda083"/>
<rect x="521.34" y="186.52" width="9.72" height="9.08" fill="#eea083"/>
<rect x="530.76" y="186.52" width="9.72" height="9.08" fill="#eea083"/>
<rect x="540.19" y="186.52" width="5.01" height="9.08" fill="#eea285"/>
<rect x="361.12" y="177.75" width="9.72" height="9.08" fill="#e98f73"/>
<rect x="370.55" y="177.75" width="9.72" height="9.08" fill="#e99074"/>
<rect x="379.97" y="177.75" width="9.72" height="9.08" fill="#e99074"/>
<rect x="389.40" y="177.75" width="9.72" height="9.08" fill="#ea9275"/>
<rect x="398.82" y="177.75" width="9.72" height="9.08" fill="#ea9275"/>
<rect x="408.24" y="177.75" width="9.72" height="9.08" fill="#ea9275"/>
<rect x="417.67" y="177.75" width="9.72" height="9.08" fill="#ea9477"/>
<rect x="427.09" y="177.75" width="9.72" height="9.08" fill="#ea9477"/>
<rect x="436.52" y="177.75" width="9.72" height="9.08" fill="#ea9578"/>
<rect x="445.94" y="177.75" width="9.72" height="9.08" fill="#ea9578"/>
<rect x="455.37" y="177.75" width="9.72" height="9.08" fill="#ea9578"/>
<rect x="464.79" y="177.75" width="9.72" height="9.08" fill="#eb977a"/>
<rect x="474.22" y="177.75" width="9.72" height="9.08" fill="#eb977a"/>
<rect x="483.64" y="177.75" width="9.72" height="9.08" fill="#eb977a"/>
<rect x="493.07" y="177.75" width="9.72" height="9.08" fill="#eb977a"/>
<rect x="502.49" y="177.75" width="9.72" height="9.08" fill="#eb987b"/>
<rect x="511.91" y="177.75" width="9.72" height="9.08" fill="#eb987b"/>
<rect x="521.34" y="177.75" width="9.72" height="9.08" fill="#eb987b"/>
<rect x="530.76" y="177.75" width="9.72" height="9.08" fill="#ec9a7d"/>
<rect x="540.19" y="177.75" width="5.01" height="9.08" fill="#ec9a7d"/>
<rect x="370.55" y="168.97" width="9.72" height="9.08" fill="#e8896d"/>
<rect x="379.97" y="168.97" width="9.72" height="9.08" fill="#e8896d"/>
<rect x="389.40" y="168.97" width="9.72" height="9.08" fill="#e88a6e"/>
<rect x="398.82" y="168.97" width="9.72" height="9.08" fill="#e88a6e"/>
<rect x="408.24" y="168.97" width="9.72" height="9.08" fill="#e88c70"/>
<rect x="417.67" y="168.97" width="9.72" height="9.08" fill="#e88c70"/>
<rect x="427.09" y="168.97" width="9.72" height="9.08" fill="#e88c70"/>
<rect x="436.52" y="168.97" width="9.72" height="9.08" fill="#e98d71"/>
<rect x="445.94" y="168.97" width="9.72" height="9.08" fill="#e98d71"/>
<rect x="455.37" y="168.97" width="9.72" height="9.08" fill="#e98d71"/>
<rect x="464.79" y="168.97" width="9.72" height="9.08" fill="#e98f73"/>
<rect x="474.22" y="168.97" width="9.72" height="9.08" fill="#e98f73"/>
<rect x="483.64" y="168.97" width="9.72" height="9.08" fill="#e98f73"/>
<rect x="493.07" y="168.97" width="9.72" height="9.08" fill="#e99074"/>
<rect x="502.49" y="168.97" width="9.72" height="9.08" fill="#e99074"/>
<rect x="511.91" y="168.97" width="9.72" height="9.08" fill="#e99074"/>
<rect x="521.34" y="168.97" width="9.72" height="9.08" fill="#ea9275"/>
<rect x="530.76" y="168.97" width="9.72" height="9.08" fill="#ea9275"/>
<rect x="540.19" y="168.97" width="5.01" height="9.08" fill="#ea9275"/>
<rect x="379.97" y="160.20" width="9.72" height="9.08" fill="#e68268"/>
<rect x="389.40" y="160.20" width="9.72" height="9.08" fill="#e68268"/>
<rect x="398.82" y="160.20" width="9.72" height="9.08" fill="#e68268"/>
<rect x="408.24" y="160.20" width="9.72" height="9.08" fill="#e68469"/>
<rect x="417.67" y="160.20" width="9.72" height="9.08" fill="#e68469"/>
<rect x="427.09" y="160.20" width="9.72" height="9.08" fill="#e7866a"/>
<rect x="436.52" y="160.20" width="9.72" height="9.08" fill="#e7856a"/>
<rect x="445.94" y="160.20" width="9.72" height="9.08" fill="#e7856a"/>
<rect x="455.37" y="160.20" width="9.72" height="9.08" fill="#e7876c"/>
<rect x="464.79" y="160.20" width="9.72" height="9.08" fill="#e7876c"/>
<rect x="474.22" y="160.20" width="9.72" height="9.08" fill="#e7876c"/>
<rect x="483.64" y="160.20" width="9.72" height="9.08" fill="#e8896d"/>
<rect x="493.07" y="160.20" width="9.72" height="9.08" fill="#e8896d"/>
<rect x="502.49" y="160.20" width="9.72" height="9.08" fill="#e8896d"/>
<rect x="511.91" y="160.20" width="9.72" height="9.08" fill="#e8896d"/>
<rect x="521.34" y="160.20" width="9.72" height="9.08" fill="#e88a6e"/>
<rect x="530.76" y="160.20" width="9.72" height="9.08" fill="#e88a6e"/>
<rect x="540.19" y="160.20" width="5.01" height="9.08" fill="#e88a6e"/>
<rect x="389.40" y="151.42" width="9.72" height="9.08" fill="#e37a61"/>
<rect x="398.82" y="151.42" width="9.72" height="9.08" fill="#e47c62"/>
<rect x="408.24" y="151.42" width="9.72" height="9.08" fill="#e47c62"/>
<rect x="417.67" y="151.42" width="9.72" height="9.08" fill="#e47c62"/>
<rect x="427.09" y="151.42" width="9.72" height="9.08" fill="#e47d64"/>
<rect x="436.52" y="151.42" width="9.72" height="9.08" fill="#e47d63"/>
<rect x="445.94" y="151.42" width="9.72" height="9.08" fill="#e47d63"/>
<rect x="455.37" y="151.42" width="9.72" height="9.08" fill="#e57f65"/>
<rect x="464.79" y="151.42" width="9.72" height="9.08" fill="#e57f65"/>
<rect x="474.22" y="151.42" width="9.72" height="9.08" fill="#e57f65"/>
<rect x="483.64" y="151.42" width="9.72" height="9.08" fill="#e58166"/>
<rect x="493.07" y="151.42" width="9.72" height="9.08" fill="#e58166"/>
<rect x="502.49" y="151.42" width="9.72" height="9.08" fill="#e58166"/>
<rect x="511.91" y="151.42" width="9.72" height="9.08" fill="#e68268"/>
<rect x="521.34" y="151.42" width="9.72" height="9.08" fill="#e68268"/>
<rect x="530.76" y="151.42" width="9.72" height="9.08" fill="#e68268"/>
<rect x="540.19" y="151.42" width="5.01" height="9.08" fill="#e68469"/>
<rect x="398.82" y="142.64" width="9.72" height="9.08" fill="#e0735c"/>
<rect x="408.24" y="142.64" width="9.72" height="9.08" fill="#e0735c"/>
<rect x="417.67" y="142.64" width="9.72" height="9.08" fill="#e1755d"/>
<rect x="427.09" y="142.64" width="9.72" height="9.08" fill="#e1755d"/>
<rect x="436.52" y="142.64" width="9.72" height="9.08" fill="#e1755d"/>
<rect x="445.94" y="142.64" width="9.72" height="9.08" fill="#e2765e"/>
<rect x="455.37" y="142.64" width="9.72" height="9.08" fill="#e2765e"/>
<rect x="464.79" y="142.64" width="9.72" height="9.08" fill="#e2765e"/>
<rect x="474.22" y="142.64" width="9.72" height="9.08" fill="#e27860"/>
<rect x="483.64" y="142.64" width="9.72" height="9.08" fill="#e27860"/>
<rect x="493.07" y="142.64" width="9.72" height="9.08" fill="#e2785f"/>
<rect x="502.49" y="142.64" width="9.72" height="9.08" fill="#e37a61"/>
<rect x="511.91" y="142.64" width="9.72" height="9.08" fill="#e37a61"/>
<rect x="521.34" y="142.64" width="9.72" height="9.08" fill="#e37a61"/>
<rect x="530.76" y="142.64" width="9.72" height="9.08" fill="#e37a61"/>
<rect x="540.19" y="142.64" width="5.01" height="9.08" fill="#e47c62"/>
<rect x="408.24" y="133.87" width="9.72" height="9.08" fill="#dd6a55"/>
<rect x="417.67" y="133.87" width="9.72" height="9.08" fill="#de6c56"/>
<rect x="427.09" y="133.87" width="9.72" height="9.08" fill="#de6c56"/>
<rect x="436.52" y="133.87" width="9.72" height="9.08" fill="#dd6c56"/>
<rect x="445.94" y="133.87" width="9.72" height="9.08" fill="#de6e58"/>
<rect x="455.37" y="133.87" width="9.72" height="9.08" fill="#de6e58"/>
<rect x="464.79" y="133.87" width="9.72" height="9.08" fill="#de6e58"/>
<rect x="474.22" y="133.87" width="9.72" height="9.08" fill="#df6f59"/>
<rect x="483.64" y="133.87" width="9.72" height="9.08" fill="#df6f59"/>
<rect x="493.07" y="133.87" width="9.72" height="9.08" fill="#df6f59"/>
<rect x="502.49" y="133.87" width="9.72" height="9.08" fill="#e0715a"/>
<rect x="511.91" y="133.87" width="9.72" height="9.08" fill="#e0715a"/>
<rect x="521.34" y="133.87" width="9.72" height="9.08" fill="#e0715a"/>
<rect x="530.76" y="133.87" width="9.72" height="9.08" fill="#e0735c"/>
<rect x="540.19" y="133.87" width="5.01" height="9.08" fill="#e0735c"/>
<rect x="417.67" y="125.09" width="9.72" height="9.08" fill="#d96250"/>
<rect x="427.09" y="125.09" width="9.72" height="9.08" fill="#d96250"/>
<rect x="436.52" y="125.09" width="9.72" height="9.08" fill="#da6451"/>
<rect x="445.94" y="125.09" width="9.72" height="9.08" fill="#da6451"/>
<rect x="455.37" y="125.09" width="9.72" height="9.08" fill="#da6451"/>
<rect x="464.79" y="125.09" width="9.72" height="9.08" fill="#db6653"/>
<rect x="474.22" y="125.09" width="9.72" height="9.08" fill="#db6653"/>
<rect x="483.64" y="125.09" width="9.72" height="9.08" fill="#db6653"/>
<rect x="493.07" y="125.09" width="9.72" height="9.08" fill="#dc6854"/>
<rect x="502.49" y="125.09" width="9.72" height="9.08" fill="#dc6854"/>
<rect x="511.91" y="125.09" width="9.72" height="9.08" fill="#dc6854"/>
<rect x="521.34" y="125.09" width="9.72" height="9.08" fill="#dc6854"/>
<rect x="530.76" y="125.09" width="9.72" height="9.08" fill="#dd6a55"/>
<rect x="540.19" y="125.09" width="5.01" height="9.08" fill="#dd6a55"/>
<rect x="427.09" y="116.32" width="9.72" height="9.08" fill="#d55a4a"/>
<rect x="436.52" y="116.32" width="9.72" height="9.08" fill="#d65c4b"/>
<rect x="445.94" y="116.32" width="9.72" height="9.08" fill="#d65c4b"/>
<rect x="455.37" y="116.32" width="9.72" height="9.08" fill="#d65b4b"/>
<rect x="464.79" y="116.32" width="9.72" height="9.08" fill="#d75d4d"/>
<rect x="474.22" y="116.32" width="9.72" height="9.08" fill="#d75d4c"/>
<rect x="483.64" y="116.32" width="9.72" height="9.08" fill="#d75d4c"/>
<rect x="493.07" y="116.32" width="9.72" height="9.08" fill="#d85f4e"/>
<rect x="502.49" y="116.32" width="9.72" height="9.08" fill="#d85f4e"/>
<rect x="511.91" y="116.32" width="9.72" height="9.08" fill="#d85f4e"/>
<rect x="521.34" y="116.32" width="9.72" height="9.08" fill="#d9614f"/>
<rect x="530.76" y="116.32" width="9.72" height="9.08" fill="#d9614f"/>
<rect x="540.19" y="116.32" width="5.01" height="9.08" fill="#d8614f"/>
<rect x="436.52" y="107.54" width="9.72" height="9.08" fill="#d25546"/>
<rect x="445.94" y="107.54" width="9.72" height="9.08" fill="#d25546"/>
<rect x="455.37" y="107.54" width="9.72" height="9.08" fill="#d35747"/>
<rect x="464.79" y="107.54" width="9.72" height="9.08" fill="#d35647"/>
<rect x="474.22" y="107.54" width="9.72" height="9.08" fill="#d35647"/>
<rect x="483.64" y="107.54" width="9.72" height="9.08" fill="#d45848"/>
<rect x="493.07" y="107.54" width="9.72" height="9.08" fill="#d45848"/>
<rect x="502.49" y="107.54" width="9.72" height="9.08" fill="#d45748"/>
<rect x="511.91" y="107.54" width="9.72" height="9.08" fill="#d55949"/>
<rect x="521.34" y="107.54" width="9.72" height="9.08" fill="#d45949"/>
<rect x="530.76" y="107.54" width="9.72" height="9.08" fill="#d45949"/>
<rect x="540.19" y="107.54" width="5.01" height="9.08" fill="#d45949"/>
<rect x="445.94" y="98.77" width="9.72" height="9.08" fill="#cf4f42"/>
<rect x="455.37" y="98.77" width="9.72" height="9.08" fill="#cf4f42"/>
<rect x="464.79" y="98.77" width="9.72" height="9.08" fill="#ce4f41"/>
<rect x="474.22" y="98.77" width="9.72" height="9.08" fill="#d05143"/>
<rect x="483.64" y="98.77" width="9.72" height="9.08" fill="#cf5143"/>
<rect x="493.07" y="98.77" width="9.72" height="9.08" fill="#cf5043"/>
<rect x="502.49" y="98.77" width="9.72" height="9.08" fill="#cf5042"/>
<rect x="511.91" y="98.77" width="9.72" height="9.08" fill="#d05244"/>
<rect x="521.34" y="98.77" width="9.72" height="9.08" fill="#d05244"/>
<rect x="530.76" y="98.77" width="9.72" height="9.08" fill="#d05244"/>
<rect x="540.19" y="98.77" width="5.01" height="9.08" fill="#d15445"/>
<rect x="455.37" y="89.99" width="9.72" height="9.08" fill="#ca473c"/>
<rect x="464.79" y="89.99" width="9.72" height="9.08" fill="#ca473c"/>
<rect x="474.22" y="89.99" width="9.72" height="9.08" fill="#cb493d"/>
<rect x="483.64" y="89.99" width="9.72" height="9.08" fill="#cb493d"/>
<rect x="493.07" y="89.99" width="9.72" height="9.08" fill="#cb493d"/>
<rect x="502.49" y="89.99" width="9.72" height="9.08" fill="#cc4b3e"/>
<rect x="511.91" y="89.99" width="9.72" height="9.08" fill="#cc4a3e"/>
<rect x="521.34" y="89.99" width="9.72" height="9.08" fill="#cc4a3e"/>
<rect x="530.76" y="89.99" width="9.72" height="9.08" fill="#cd4c3f"/>
<rect x="540.19" y="89.99" width="5.01" height="9.08" fill="#cd4c3f"/>
<rect x="464.79" y="81.22" width="9.72" height="9.08" fill="#c64038"/>
<rect x="474.22" y="81.22" width="9.72" height="9.08" fill="#c64038"/>
<rect x="483.64" y="81.22" width="9.72" height="9.08" fill="#c53f38"/>
<rect x="493.07" y="81.22" width="9.72" height="9.08" fill="#c74239"/>
<rect x="502.49" y="81.22" width="9.72" height="9.08" fill="#c74239"/>
<rect x="511.91" y="81.22" width="9.72" height="9.08" fill="#c74139"/>
<rect x="521.34" y="81.22" width="9.72" height="9.08" fill="#c64139"/>
<rect x="530.76" y="81.22" width="9.72" height="9.08" fill="#c8443a"/>
<rect x="540.19" y="81.22" width="5.01" height="9.08" fill="#c8433a"/>
<rect x="474.22" y="72.44" width="9.72" height="9.08" fill="#c03433"/>
<rect x="483.64" y="72.44" width="9.72" height="9.08" fill="#c03433"/>
<rect x="493.07" y="72.44" width="9.72" height="9.08" fill="#c13834"/>
<rect x="502.49" y="72.44" width="9.72" height="9.08" fill="#c13834"/>
<rect x="511.91" y="72.44" width="9.72" height="9.08" fill="#c13834"/>
<rect x="521.34" y="72.44" width="9.72" height="9.08" fill="#c23a35"/>
<rect x="530.76" y="72.44" width="9.72" height="9.08" fill="#c23a35"/>
<rect x="540.19" y="72.44" width="5.01" height="9.08" fill="#c23a35"/>
<rect x="483.64" y="63.67" width="9.72" height="9.08" fill="#bb2530"/>
<rect x="493.07" y="63.67" width="9.72" height="9.08" fill="#bb2530"/>
<rect x="502.49" y="63.67" width="9.72" height="9.08" fill="#bb2530"/>
<rect x="511.91" y="63.67" width="9.72" height="9.08" fill="#bb2530"/>
<rect x="521.34" y="63.67" width="9.72" height="9.08" fill="#bd2931"/>
<rect x="530.76" y="63.67" width="9.72" height="9.08" fill="#bd2931"/>
<rect x="540.19" y="63.67" width="5.01" height="9.08" fill="#bc2831"/>
<rect x="493.07" y="54.89" width="9.72" height="9.08" fill="#b81a2d"/>
<rect x="502.49" y="54.89" width="9.72" height="9.08" fill="#b81a2d"/>
<rect x="511.91" y="54.89" width="9.72" height="9.08" fill="#b81a2d"/>
<rect x="521.34" y="54.89" width="9.72" height="9.08" fill="#b81a2d"/>
<rect x="530.76" y="54.89" width="9.72" height="9.08" fill="#b81a2d"/>
<rect x="540.19" y="54.89" width="5.01" height="9.08" fill="#b81a2d"/>
<rect x="502.49" y="46.11" width="9.72" height="9.08" fill="#b81a2d"/>
<rect x="511.91" y="46.11" width="9.72" height="9.08" fill="#b81a2d"/>
<rect x="521.34" y="46.11" width="9.72" height="9.08" fill="#b81a2d"/>
<rect x="530.76" y="46.11" width="9.72" height="9.08" fill="#b81a2d"/>
<rect x="540.19" y="46.11" width="5.01" height="9.08" fill="#b81a2d"/>
<rect x="511.91" y="37.34" width="9.72" height="9.08" fill="#b81a2d"/>
<rect x="521.34" y="37.34" width="9.72" height="9.08" fill="#b81a2d"/>
<rect x="530.76" y="37.34" width="9.72" height="9.08" fill="#b81a2d"/>
<rect x="540.19" y="37.34" width="5.01" height="9.08" fill="#b81a2d"/>
<rect x="521.34" y="28.56" width="9.72" height="9.08" fill="#b81a2d"/>
<rect x="530.76" y="28.56" width="9.72" height="9.08" fill="#b81a2d"/>
<rect x="540.19" y="28.56" width="5.01" height="9.08" fill="#b81a2d"/>
<rect x="530.76" y="19.79" width="9.72" height="9.08" fill="#b81a2d"/>
<rect x="540.19" y="19.79" width="5.01" height="9.08" fill="#b81a2d"/>
<rect x="540.19" y="15.40" width="5.01" height="4.69" fill="#b81a2d"/>
</g>
<line clip-path="url(#ax0)" x1="78.10" y1="450.06" x2="549.90" y2="10.74" stroke="#000" stroke-width="2.6"/>
<rect x="83.10" y="15.40" width="461.80" height="430.00" fill="none" stroke="#000" stroke-width="1.25"/>
<line x1="167.92" y1="445.40" x2="167.92" y2="450.20" stroke="#000" stroke-width="1.25"/>
<text class="s" transform="translate(166.92,470.90) scale(0.865,1)" font-size="24.0" text-anchor="middle" fill="#1a1a1a">10</text>
<line x1="78.30" y1="366.42" x2="83.10" y2="366.42" stroke="#000" stroke-width="1.25"/>
<text class="s" transform="translate(71.90,374.82) scale(0.865,1)" font-size="24.0" text-anchor="end" fill="#1a1a1a">10</text>
<line x1="262.17" y1="445.40" x2="262.17" y2="450.20" stroke="#000" stroke-width="1.25"/>
<text class="s" transform="translate(261.17,470.90) scale(0.865,1)" font-size="24.0" text-anchor="middle" fill="#1a1a1a">20</text>
<line x1="78.30" y1="278.67" x2="83.10" y2="278.67" stroke="#000" stroke-width="1.25"/>
<text class="s" transform="translate(71.90,287.07) scale(0.865,1)" font-size="24.0" text-anchor="end" fill="#1a1a1a">20</text>
<line x1="356.41" y1="445.40" x2="356.41" y2="450.20" stroke="#000" stroke-width="1.25"/>
<text class="s" transform="translate(355.41,470.90) scale(0.865,1)" font-size="24.0" text-anchor="middle" fill="#1a1a1a">30</text>
<line x1="78.30" y1="190.91" x2="83.10" y2="190.91" stroke="#000" stroke-width="1.25"/>
<text class="s" transform="translate(71.90,199.31) scale(0.865,1)" font-size="24.0" text-anchor="end" fill="#1a1a1a">30</text>
<line x1="450.66" y1="445.40" x2="450.66" y2="450.20" stroke="#000" stroke-width="1.25"/>
<text class="s" transform="translate(449.66,470.90) scale(0.865,1)" font-size="24.0" text-anchor="middle" fill="#1a1a1a">40</text>
<line x1="78.30" y1="103.16" x2="83.10" y2="103.16" stroke="#000" stroke-width="1.25"/>
<text class="s" transform="translate(71.90,111.56) scale(0.865,1)" font-size="24.0" text-anchor="end" fill="#1a1a1a">40</text>
<line x1="544.90" y1="445.40" x2="544.90" y2="450.20" stroke="#000" stroke-width="1.25"/>
<text class="s" transform="translate(543.90,470.90) scale(0.865,1)" font-size="24.0" text-anchor="middle" fill="#1a1a1a">50</text>
<line x1="78.30" y1="15.40" x2="83.10" y2="15.40" stroke="#000" stroke-width="1.25"/>
<text class="s" transform="translate(71.90,23.80) scale(0.865,1)" font-size="24.0" text-anchor="end" fill="#1a1a1a">50</text>
<text class="s i" transform="translate(196.60,497.40) scale(1.000,1)" font-size="22.5" text-anchor="start" fill="#1a1a1a">n</text>
<text class="s" transform="translate(209.30,501.70) scale(0.865,1)" font-size="16.5" text-anchor="start" fill="#1a1a1a">0</text>
<text class="n" transform="translate(227.00,497.40) scale(1.000,1)" font-size="20.5" text-anchor="start" fill="#1a1a1a" textLength="202.5" lengthAdjust="spacingAndGlyphs">(encoding qubits/axis)</text>
<g transform="translate(42.3,230.40) rotate(-90)">
<text class="s i" transform="translate(-114.00,0.00) scale(1.000,1)" font-size="22.5" text-anchor="start" fill="#1a1a1a">ñ</text>
<text class="n" transform="translate(-91.50,0.00) scale(1.000,1)" font-size="20.5" text-anchor="start" fill="#1a1a1a" textLength="205" lengthAdjust="spacingAndGlyphs">(discarded qubits/axis)</text>
</g>
<rect x="306.6" y="25.30" width="78.70" height="58.8" rx="5.5" ry="5.5" fill="#c9e4f8" stroke="#808080" stroke-width="1.1"/>
<text class="s i" transform="translate(314.30,48.60) scale(1.000,1)" font-size="23.0" text-anchor="start" fill="#1a1a1a">L</text>
<text class="s" transform="translate(339.20,48.60) scale(1.000,1)" font-size="23.0" text-anchor="start" fill="#1a1a1a" textLength="15.4" lengthAdjust="spacingAndGlyphs">=</text>
<text class="s" transform="translate(362.20,48.60) scale(0.865,1)" font-size="24.0" text-anchor="start" fill="#1a1a1a">2</text>
<text class="s i" transform="translate(314.30,71.90) scale(1.000,1)" font-size="23.0" text-anchor="start" fill="#1a1a1a">d</text>
<text class="s" transform="translate(339.20,71.90) scale(1.000,1)" font-size="23.0" text-anchor="start" fill="#1a1a1a" textLength="15.4" lengthAdjust="spacingAndGlyphs">=</text>
<text class="s" transform="translate(366.30,71.90) scale(0.865,1)" font-size="24.0" text-anchor="start" fill="#1a1a1a">1</text>
<text class="n" transform="translate(0.10,13.10) scale(1.000,1)" font-size="17.0" text-anchor="start" fill="#1a1a1a" stroke="#1a1a1a" stroke-width="0.3">(a)</text>
<g shape-rendering="crispEdges">
<rect x="573.70" y="15.40" width="22.20" height="2.08" fill="#b81a2d"/>
<rect x="573.70" y="17.08" width="22.20" height="2.08" fill="#b91d2e"/>
<rect x="573.70" y="18.76" width="22.20" height="2.08" fill="#ba212f"/>
<rect x="573.70" y="20.44" width="22.20" height="2.08" fill="#bb2530"/>
<rect x="573.70" y="22.12" width="22.20" height="2.08" fill="#bd2931"/>
<rect x="573.70" y="23.80" width="22.20" height="2.08" fill="#be2d32"/>
<rect x="573.70" y="25.48" width="22.20" height="2.08" fill="#bf3033"/>
<rect x="573.70" y="27.16" width="22.20" height="2.08" fill="#c03433"/>
<rect x="573.70" y="28.84" width="22.20" height="2.08" fill="#c13834"/>
<rect x="573.70" y="30.52" width="22.20" height="2.08" fill="#c23a35"/>
<rect x="573.70" y="32.20" width="22.20" height="2.08" fill="#c33c36"/>
<rect x="573.70" y="33.88" width="22.20" height="2.08" fill="#c43e37"/>
<rect x="573.70" y="35.56" width="22.20" height="2.08" fill="#c64038"/>
<rect x="573.70" y="37.24" width="22.20" height="2.08" fill="#c74239"/>
<rect x="573.70" y="38.92" width="22.20" height="2.08" fill="#c8433a"/>
<rect x="573.70" y="40.60" width="22.20" height="2.08" fill="#c9453b"/>
<rect x="573.70" y="42.27" width="22.20" height="2.08" fill="#ca473c"/>
<rect x="573.70" y="43.95" width="22.20" height="2.08" fill="#cb493d"/>
<rect x="573.70" y="45.63" width="22.20" height="2.08" fill="#cc4a3e"/>
<rect x="573.70" y="47.31" width="22.20" height="2.08" fill="#cd4c3f"/>
<rect x="573.70" y="48.99" width="22.20" height="2.08" fill="#ce4d40"/>
<rect x="573.70" y="50.67" width="22.20" height="2.08" fill="#ce4f41"/>
<rect x="573.70" y="52.35" width="22.20" height="2.08" fill="#cf5143"/>
<rect x="573.70" y="54.03" width="22.20" height="2.08" fill="#d05244"/>
<rect x="573.70" y="55.71" width="22.20" height="2.08" fill="#d15445"/>
<rect x="573.70" y="57.39" width="22.20" height="2.08" fill="#d25546"/>
<rect x="573.70" y="59.07" width="22.20" height="2.08" fill="#d35647"/>
<rect x="573.70" y="60.75" width="22.20" height="2.08" fill="#d45848"/>
<rect x="573.70" y="62.43" width="22.20" height="2.08" fill="#d45949"/>
<rect x="573.70" y="64.11" width="22.20" height="2.08" fill="#d55a4a"/>
<rect x="573.70" y="65.79" width="22.20" height="2.08" fill="#d65c4b"/>
<rect x="573.70" y="67.47" width="22.20" height="2.08" fill="#d75d4d"/>
<rect x="573.70" y="69.15" width="22.20" height="2.08" fill="#d85f4e"/>
<rect x="573.70" y="70.83" width="22.20" height="2.08" fill="#d9614f"/>
<rect x="573.70" y="72.51" width="22.20" height="2.08" fill="#d96250"/>
<rect x="573.70" y="74.19" width="22.20" height="2.08" fill="#da6451"/>
<rect x="573.70" y="75.87" width="22.20" height="2.08" fill="#db6653"/>
<rect x="573.70" y="77.55" width="22.20" height="2.08" fill="#dc6854"/>
<rect x="573.70" y="79.23" width="22.20" height="2.08" fill="#dd6a55"/>
<rect x="573.70" y="80.91" width="22.20" height="2.08" fill="#de6c56"/>
<rect x="573.70" y="82.59" width="22.20" height="2.08" fill="#de6e58"/>
<rect x="573.70" y="84.27" width="22.20" height="2.08" fill="#df6f59"/>
<rect x="573.70" y="85.95" width="22.20" height="2.08" fill="#e0715a"/>
<rect x="573.70" y="87.63" width="22.20" height="2.08" fill="#e0735c"/>
<rect x="573.70" y="89.31" width="22.20" height="2.08" fill="#e1755d"/>
<rect x="573.70" y="90.99" width="22.20" height="2.08" fill="#e2765e"/>
<rect x="573.70" y="92.67" width="22.20" height="2.08" fill="#e27860"/>
<rect x="573.70" y="94.35" width="22.20" height="2.08" fill="#e37a61"/>
<rect x="573.70" y="96.03" width="22.20" height="2.08" fill="#e47c62"/>
<rect x="573.70" y="97.70" width="22.20" height="2.08" fill="#e47d64"/>
<rect x="573.70" y="99.38" width="22.20" height="2.08" fill="#e57f65"/>
<rect x="573.70" y="101.06" width="22.20" height="2.08" fill="#e58166"/>
<rect x="573.70" y="102.74" width="22.20" height="2.08" fill="#e68268"/>
<rect x="573.70" y="104.42" width="22.20" height="2.08" fill="#e68469"/>
<rect x="573.70" y="106.10" width="22.20" height="2.08" fill="#e7856a"/>
<rect x="573.70" y="107.78" width="22.20" height="2.08" fill="#e7876c"/>
<rect x="573.70" y="109.46" width="22.20" height="2.08" fill="#e8896d"/>
<rect x="573.70" y="111.14" width="22.20" height="2.08" fill="#e88a6e"/>
<rect x="573.70" y="112.82" width="22.20" height="2.08" fill="#e88c70"/>
<rect x="573.70" y="114.50" width="22.20" height="2.08" fill="#e98d71"/>
<rect x="573.70" y="116.18" width="22.20" height="2.08" fill="#e98f73"/>
<rect x="573.70" y="117.86" width="22.20" height="2.08" fill="#e99074"/>
<rect x="573.70" y="119.54" width="22.20" height="2.08" fill="#ea9275"/>
<rect x="573.70" y="121.22" width="22.20" height="2.08" fill="#ea9477"/>
<rect x="573.70" y="122.90" width="22.20" height="2.08" fill="#ea9578"/>
<rect x="573.70" y="124.58" width="22.20" height="2.08" fill="#eb977a"/>
<rect x="573.70" y="126.26" width="22.20" height="2.08" fill="#eb987b"/>
<rect x="573.70" y="127.94" width="22.20" height="2.08" fill="#ec9a7d"/>
<rect x="573.70" y="129.62" width="22.20" height="2.08" fill="#ec9c7f"/>
<rect x="573.70" y="131.30" width="22.20" height="2.08" fill="#ed9d80"/>
<rect x="573.70" y="132.98" width="22.20" height="2.08" fill="#ed9f82"/>
<rect x="573.70" y="134.66" width="22.20" height="2.08" fill="#eea083"/>
<rect x="573.70" y="136.34" width="22.20" height="2.08" fill="#eea285"/>
<rect x="573.70" y="138.02" width="22.20" height="2.08" fill="#eea387"/>
<rect x="573.70" y="139.70" width="22.20" height="2.08" fill="#eea588"/>
<rect x="573.70" y="141.38" width="22.20" height="2.08" fill="#efa68a"/>
<rect x="573.70" y="143.06" width="22.20" height="2.08" fill="#efa88c"/>
<rect x="573.70" y="144.74" width="22.20" height="2.08" fill="#efa98d"/>
<rect x="573.70" y="146.42" width="22.20" height="2.08" fill="#efab8f"/>
<rect x="573.70" y="148.10" width="22.20" height="2.08" fill="#f0ac90"/>
<rect x="573.70" y="149.78" width="22.20" height="2.08" fill="#f0ae92"/>
<rect x="573.70" y="151.45" width="22.20" height="2.08" fill="#f0af94"/>
<rect x="573.70" y="153.13" width="22.20" height="2.08" fill="#f0b095"/>
<rect x="573.70" y="154.81" width="22.20" height="2.08" fill="#f0b297"/>
<rect x="573.70" y="156.49" width="22.20" height="2.08" fill="#f0b399"/>
<rect x="573.70" y="158.17" width="22.20" height="2.08" fill="#f0b49a"/>
<rect x="573.70" y="159.85" width="22.20" height="2.08" fill="#f0b69c"/>
<rect x="573.70" y="161.53" width="22.20" height="2.08" fill="#f0b79d"/>
<rect x="573.70" y="163.21" width="22.20" height="2.08" fill="#f0b99f"/>
<rect x="573.70" y="164.89" width="22.20" height="2.08" fill="#f0baa1"/>
<rect x="573.70" y="166.57" width="22.20" height="2.08" fill="#f0bba2"/>
<rect x="573.70" y="168.25" width="22.20" height="2.08" fill="#f0bca4"/>
<rect x="573.70" y="169.93" width="22.20" height="2.08" fill="#f0bda6"/>
<rect x="573.70" y="171.61" width="22.20" height="2.08" fill="#f0bfa7"/>
<rect x="573.70" y="173.29" width="22.20" height="2.08" fill="#f0c0a9"/>
<rect x="573.70" y="174.97" width="22.20" height="2.08" fill="#f0c1aa"/>
<rect x="573.70" y="176.65" width="22.20" height="2.08" fill="#efc2ac"/>
<rect x="573.70" y="178.33" width="22.20" height="2.08" fill="#efc3ae"/>
<rect x="573.70" y="180.01" width="22.20" height="2.08" fill="#efc4af"/>
<rect x="573.70" y="181.69" width="22.20" height="2.08" fill="#efc5b1"/>
<rect x="573.70" y="183.37" width="22.20" height="2.08" fill="#eec7b2"/>
<rect x="573.70" y="185.05" width="22.20" height="2.08" fill="#eec8b4"/>
<rect x="573.70" y="186.73" width="22.20" height="2.08" fill="#eec9b6"/>
<rect x="573.70" y="188.41" width="22.20" height="2.08" fill="#edcab7"/>
<rect x="573.70" y="190.09" width="22.20" height="2.08" fill="#edcbb9"/>
<rect x="573.70" y="191.77" width="22.20" height="2.08" fill="#ecccba"/>
<rect x="573.70" y="193.45" width="22.20" height="2.08" fill="#eccdbc"/>
<rect x="573.70" y="195.13" width="22.20" height="2.08" fill="#ebcebe"/>
<rect x="573.70" y="196.81" width="22.20" height="2.08" fill="#ebcebf"/>
<rect x="573.70" y="198.49" width="22.20" height="2.08" fill="#eacfc1"/>
<rect x="573.70" y="200.17" width="22.20" height="2.08" fill="#ead0c2"/>
<rect x="573.70" y="201.85" width="22.20" height="2.08" fill="#e9d1c4"/>
<rect x="573.70" y="203.53" width="22.20" height="2.08" fill="#e9d2c5"/>
<rect x="573.70" y="205.20" width="22.20" height="2.08" fill="#e8d3c7"/>
<rect x="573.70" y="206.88" width="22.20" height="2.08" fill="#e7d4c8"/>
<rect x="573.70" y="208.56" width="22.20" height="2.08" fill="#e7d4ca"/>
<rect x="573.70" y="210.24" width="22.20" height="2.08" fill="#e6d5cc"/>
<rect x="573.70" y="211.92" width="22.20" height="2.08" fill="#e5d6cd"/>
<rect x="573.70" y="213.60" width="22.20" height="2.08" fill="#e5d7cf"/>
<rect x="573.70" y="215.28" width="22.20" height="2.08" fill="#e4d7d0"/>
<rect x="573.70" y="216.96" width="22.20" height="2.08" fill="#e3d8d2"/>
<rect x="573.70" y="218.64" width="22.20" height="2.08" fill="#e2d9d3"/>
<rect x="573.70" y="220.32" width="22.20" height="2.08" fill="#e2d9d5"/>
<rect x="573.70" y="222.00" width="22.20" height="2.08" fill="#e1dad6"/>
<rect x="573.70" y="223.68" width="22.20" height="2.08" fill="#e0dbd8"/>
<rect x="573.70" y="225.36" width="22.20" height="2.08" fill="#dfdbd9"/>
<rect x="573.70" y="227.04" width="22.20" height="2.08" fill="#dedcda"/>
<rect x="573.70" y="228.72" width="22.20" height="2.08" fill="#dddcdc"/>
<rect x="573.70" y="230.40" width="22.20" height="2.08" fill="#dcdddd"/>
<rect x="573.70" y="232.08" width="22.20" height="2.08" fill="#dbdcde"/>
<rect x="573.70" y="233.76" width="22.20" height="2.08" fill="#dadce0"/>
<rect x="573.70" y="235.44" width="22.20" height="2.08" fill="#d9dce1"/>
<rect x="573.70" y="237.12" width="22.20" height="2.08" fill="#d8dce2"/>
<rect x="573.70" y="238.80" width="22.20" height="2.08" fill="#d7dce3"/>
<rect x="573.70" y="240.48" width="22.20" height="2.08" fill="#d6dce4"/>
<rect x="573.70" y="242.16" width="22.20" height="2.08" fill="#d5dce5"/>
<rect x="573.70" y="243.84" width="22.20" height="2.08" fill="#d4dbe6"/>
<rect x="573.70" y="245.52" width="22.20" height="2.08" fill="#d3dbe7"/>
<rect x="573.70" y="247.20" width="22.20" height="2.08" fill="#d2dbe8"/>
<rect x="573.70" y="248.88" width="22.20" height="2.08" fill="#d1dbe9"/>
<rect x="573.70" y="250.56" width="22.20" height="2.08" fill="#d0daea"/>
<rect x="573.70" y="252.24" width="22.20" height="2.08" fill="#cfdaeb"/>
<rect x="573.70" y="253.92" width="22.20" height="2.08" fill="#cedaec"/>
<rect x="573.70" y="255.60" width="22.20" height="2.08" fill="#cdd9ed"/>
<rect x="573.70" y="257.27" width="22.20" height="2.08" fill="#ccd9ee"/>
<rect x="573.70" y="258.95" width="22.20" height="2.08" fill="#cbd8ef"/>
<rect x="573.70" y="260.63" width="22.20" height="2.08" fill="#cad8f0"/>
<rect x="573.70" y="262.31" width="22.20" height="2.08" fill="#c9d8f0"/>
<rect x="573.70" y="263.99" width="22.20" height="2.08" fill="#c8d7f1"/>
<rect x="573.70" y="265.67" width="22.20" height="2.08" fill="#c6d7f2"/>
<rect x="573.70" y="267.35" width="22.20" height="2.08" fill="#c5d6f3"/>
<rect x="573.70" y="269.03" width="22.20" height="2.08" fill="#c4d6f4"/>
<rect x="573.70" y="270.71" width="22.20" height="2.08" fill="#c3d5f4"/>
<rect x="573.70" y="272.39" width="22.20" height="2.08" fill="#c2d5f5"/>
<rect x="573.70" y="274.07" width="22.20" height="2.08" fill="#c1d4f6"/>
<rect x="573.70" y="275.75" width="22.20" height="2.08" fill="#bfd3f6"/>
<rect x="573.70" y="277.43" width="22.20" height="2.08" fill="#bed3f7"/>
<rect x="573.70" y="279.11" width="22.20" height="2.08" fill="#bdd2f8"/>
<rect x="573.70" y="280.79" width="22.20" height="2.08" fill="#bcd1f8"/>
<rect x="573.70" y="282.47" width="22.20" height="2.08" fill="#bbd1f9"/>
<rect x="573.70" y="284.15" width="22.20" height="2.08" fill="#b9d0f9"/>
<rect x="573.70" y="285.83" width="22.20" height="2.08" fill="#b8cffa"/>
<rect x="573.70" y="287.51" width="22.20" height="2.08" fill="#b7cffa"/>
<rect x="573.70" y="289.19" width="22.20" height="2.08" fill="#b6cefb"/>
<rect x="573.70" y="290.87" width="22.20" height="2.08" fill="#b4cdfb"/>
<rect x="573.70" y="292.55" width="22.20" height="2.08" fill="#b3ccfc"/>
<rect x="573.70" y="294.23" width="22.20" height="2.08" fill="#b2cbfc"/>
<rect x="573.70" y="295.91" width="22.20" height="2.08" fill="#b1cbfc"/>
<rect x="573.70" y="297.59" width="22.20" height="2.08" fill="#afcafd"/>
<rect x="573.70" y="299.27" width="22.20" height="2.08" fill="#aec9fd"/>
<rect x="573.70" y="300.95" width="22.20" height="2.08" fill="#adc8fd"/>
<rect x="573.70" y="302.63" width="22.20" height="2.08" fill="#acc7fd"/>
<rect x="573.70" y="304.31" width="22.20" height="2.08" fill="#aac6fe"/>
<rect x="573.70" y="305.99" width="22.20" height="2.08" fill="#a9c5fe"/>
<rect x="573.70" y="307.67" width="22.20" height="2.08" fill="#a8c4fe"/>
<rect x="573.70" y="309.35" width="22.20" height="2.08" fill="#a6c3fe"/>
<rect x="573.70" y="311.02" width="22.20" height="2.08" fill="#a5c2ff"/>
<rect x="573.70" y="312.70" width="22.20" height="2.08" fill="#a4c1ff"/>
<rect x="573.70" y="314.38" width="22.20" height="2.08" fill="#a2c0ff"/>
<rect x="573.70" y="316.06" width="22.20" height="2.08" fill="#a1bfff"/>
<rect x="573.70" y="317.74" width="22.20" height="2.08" fill="#a0beff"/>
<rect x="573.70" y="319.42" width="22.20" height="2.08" fill="#9fbdff"/>
<rect x="573.70" y="321.10" width="22.20" height="2.08" fill="#9dbcff"/>
<rect x="573.70" y="322.78" width="22.20" height="2.08" fill="#9cbbff"/>
<rect x="573.70" y="324.46" width="22.20" height="2.08" fill="#9bbaff"/>
<rect x="573.70" y="326.14" width="22.20" height="2.08" fill="#99b9ff"/>
<rect x="573.70" y="327.82" width="22.20" height="2.08" fill="#98b8ff"/>
<rect x="573.70" y="329.50" width="22.20" height="2.08" fill="#97b7fe"/>
<rect x="573.70" y="331.18" width="22.20" height="2.08" fill="#95b5fe"/>
<rect x="573.70" y="332.86" width="22.20" height="2.08" fill="#94b4fe"/>
<rect x="573.70" y="334.54" width="22.20" height="2.08" fill="#93b3fe"/>
<rect x="573.70" y="336.22" width="22.20" height="2.08" fill="#91b2fe"/>
<rect x="573.70" y="337.90" width="22.20" height="2.08" fill="#90b1fe"/>
<rect x="573.70" y="339.58" width="22.20" height="2.08" fill="#8fb0fe"/>
<rect x="573.70" y="341.26" width="22.20" height="2.08" fill="#8daefd"/>
<rect x="573.70" y="342.94" width="22.20" height="2.08" fill="#8cadfd"/>
<rect x="573.70" y="344.62" width="22.20" height="2.08" fill="#8bacfd"/>
<rect x="573.70" y="346.30" width="22.20" height="2.08" fill="#8aabfd"/>
<rect x="573.70" y="347.98" width="22.20" height="2.08" fill="#88aafd"/>
<rect x="573.70" y="349.66" width="22.20" height="2.08" fill="#87a8fd"/>
<rect x="573.70" y="351.34" width="22.20" height="2.08" fill="#86a7fc"/>
<rect x="573.70" y="353.02" width="22.20" height="2.08" fill="#84a6fc"/>
<rect x="573.70" y="354.70" width="22.20" height="2.08" fill="#83a5fc"/>
<rect x="573.70" y="356.38" width="22.20" height="2.08" fill="#82a3fb"/>
<rect x="573.70" y="358.06" width="22.20" height="2.08" fill="#81a2fb"/>
<rect x="573.70" y="359.74" width="22.20" height="2.08" fill="#7fa1fb"/>
<rect x="573.70" y="361.42" width="22.20" height="2.08" fill="#7e9ffa"/>
<rect x="573.70" y="363.10" width="22.20" height="2.08" fill="#7d9efa"/>
<rect x="573.70" y="364.77" width="22.20" height="2.08" fill="#7b9dfa"/>
<rect x="573.70" y="366.45" width="22.20" height="2.08" fill="#7a9bf9"/>
<rect x="573.70" y="368.13" width="22.20" height="2.08" fill="#799af9"/>
<rect x="573.70" y="369.81" width="22.20" height="2.08" fill="#7899f8"/>
<rect x="573.70" y="371.49" width="22.20" height="2.08" fill="#7697f8"/>
<rect x="573.70" y="373.17" width="22.20" height="2.08" fill="#7596f7"/>
<rect x="573.70" y="374.85" width="22.20" height="2.08" fill="#7495f7"/>
<rect x="573.70" y="376.53" width="22.20" height="2.08" fill="#7393f6"/>
<rect x="573.70" y="378.21" width="22.20" height="2.08" fill="#7192f5"/>
<rect x="573.70" y="379.89" width="22.20" height="2.08" fill="#7090f5"/>
<rect x="573.70" y="381.57" width="22.20" height="2.08" fill="#6f8ff4"/>
<rect x="573.70" y="383.25" width="22.20" height="2.08" fill="#6e8df3"/>
<rect x="573.70" y="384.93" width="22.20" height="2.08" fill="#6c8cf3"/>
<rect x="573.70" y="386.61" width="22.20" height="2.08" fill="#6b8af2"/>
<rect x="573.70" y="388.29" width="22.20" height="2.08" fill="#6a89f1"/>
<rect x="573.70" y="389.97" width="22.20" height="2.08" fill="#6988f0"/>
<rect x="573.70" y="391.65" width="22.20" height="2.08" fill="#6886f0"/>
<rect x="573.70" y="393.33" width="22.20" height="2.08" fill="#6685ef"/>
<rect x="573.70" y="395.01" width="22.20" height="2.08" fill="#6583ee"/>
<rect x="573.70" y="396.69" width="22.20" height="2.08" fill="#6482ed"/>
<rect x="573.70" y="398.37" width="22.20" height="2.08" fill="#6380ec"/>
<rect x="573.70" y="400.05" width="22.20" height="2.08" fill="#627eeb"/>
<rect x="573.70" y="401.73" width="22.20" height="2.08" fill="#607dea"/>
<rect x="573.70" y="403.41" width="22.20" height="2.08" fill="#5f7be9"/>
<rect x="573.70" y="405.09" width="22.20" height="2.08" fill="#5e7ae8"/>
<rect x="573.70" y="406.77" width="22.20" height="2.08" fill="#5d78e7"/>
<rect x="573.70" y="408.45" width="22.20" height="2.08" fill="#5c77e6"/>
<rect x="573.70" y="410.13" width="22.20" height="2.08" fill="#5b75e5"/>
<rect x="573.70" y="411.81" width="22.20" height="2.08" fill="#5974e4"/>
<rect x="573.70" y="413.49" width="22.20" height="2.08" fill="#5872e3"/>
<rect x="573.70" y="415.17" width="22.20" height="2.08" fill="#5771e2"/>
<rect x="573.70" y="416.85" width="22.20" height="2.08" fill="#566fe1"/>
<rect x="573.70" y="418.52" width="22.20" height="2.08" fill="#556de0"/>
<rect x="573.70" y="420.20" width="22.20" height="2.08" fill="#546cdf"/>
<rect x="573.70" y="421.88" width="22.20" height="2.08" fill="#536ade"/>
<rect x="573.70" y="423.56" width="22.20" height="2.08" fill="#5269dc"/>
<rect x="573.70" y="425.24" width="22.20" height="2.08" fill="#5067db"/>
<rect x="573.70" y="426.92" width="22.20" height="2.08" fill="#4f65da"/>
<rect x="573.70" y="428.60" width="22.20" height="2.08" fill="#4e64d9"/>
<rect x="573.70" y="430.28" width="22.20" height="2.08" fill="#4d62d8"/>
<rect x="573.70" y="431.96" width="22.20" height="2.08" fill="#4c61d6"/>
<rect x="573.70" y="433.64" width="22.20" height="2.08" fill="#4b5fd5"/>
<rect x="573.70" y="435.32" width="22.20" height="2.08" fill="#4a5dd4"/>
<rect x="573.70" y="437.00" width="22.20" height="2.08" fill="#495cd2"/>
<rect x="573.70" y="438.68" width="22.20" height="2.08" fill="#485ad1"/>
<rect x="573.70" y="440.36" width="22.20" height="2.08" fill="#4758d0"/>
<rect x="573.70" y="442.04" width="22.20" height="2.08" fill="#4657ce"/>
<rect x="573.70" y="443.72" width="22.20" height="2.08" fill="#4555cd"/>
</g>
<rect x="573.70" y="15.40" width="22.20" height="430.00" fill="none" stroke="#000" stroke-width="1.25"/>
<line x1="595.90" y1="15.40" x2="600.10" y2="15.40" stroke="#000" stroke-width="1.25"/>
<text class="s" transform="translate(603.40,23.70) scale(0.865,1)" font-size="24.0" text-anchor="start" fill="#1a1a1a">10</text>
<text class="s" transform="translate(623.90,15.30) scale(0.865,1)" font-size="17.0" text-anchor="start" fill="#1a1a1a">8</text>
<line x1="595.90" y1="69.15" x2="600.10" y2="69.15" stroke="#000" stroke-width="1.25"/>
<text class="s" transform="translate(603.40,77.45) scale(0.865,1)" font-size="24.0" text-anchor="start" fill="#1a1a1a">10</text>
<text class="s" transform="translate(623.90,69.05) scale(0.865,1)" font-size="17.0" text-anchor="start" fill="#1a1a1a">6</text>
<line x1="595.90" y1="122.90" x2="600.10" y2="122.90" stroke="#000" stroke-width="1.25"/>
<text class="s" transform="translate(603.40,131.20) scale(0.865,1)" font-size="24.0" text-anchor="start" fill="#1a1a1a">10</text>
<text class="s" transform="translate(623.90,122.80) scale(0.865,1)" font-size="17.0" text-anchor="start" fill="#1a1a1a">4</text>
<line x1="595.90" y1="176.65" x2="600.10" y2="176.65" stroke="#000" stroke-width="1.25"/>
<text class="s" transform="translate(603.40,184.95) scale(0.865,1)" font-size="24.0" text-anchor="start" fill="#1a1a1a">10</text>
<text class="s" transform="translate(623.90,176.55) scale(0.865,1)" font-size="17.0" text-anchor="start" fill="#1a1a1a">2</text>
<line x1="595.90" y1="230.40" x2="600.10" y2="230.40" stroke="#000" stroke-width="1.25"/>
<text class="s" transform="translate(603.40,238.70) scale(0.865,1)" font-size="24.0" text-anchor="start" fill="#1a1a1a">10</text>
<text class="s" transform="translate(623.90,230.30) scale(0.865,1)" font-size="17.0" text-anchor="start" fill="#1a1a1a">0</text>
<line x1="595.90" y1="284.15" x2="600.10" y2="284.15" stroke="#000" stroke-width="1.25"/>
<text class="s" transform="translate(603.40,292.45) scale(0.865,1)" font-size="24.0" text-anchor="start" fill="#1a1a1a">10</text>
<text class="s" transform="translate(624.60,284.05) scale(1.200,1)" font-size="17.0" text-anchor="start" fill="#1a1a1a">−</text>
<text class="s" transform="translate(636.40,284.05) scale(0.865,1)" font-size="17.0" text-anchor="start" fill="#1a1a1a">2</text>
<line x1="595.90" y1="337.90" x2="600.10" y2="337.90" stroke="#000" stroke-width="1.25"/>
<text class="s" transform="translate(603.40,346.20) scale(0.865,1)" font-size="24.0" text-anchor="start" fill="#1a1a1a">10</text>
<text class="s" transform="translate(624.60,337.80) scale(1.200,1)" font-size="17.0" text-anchor="start" fill="#1a1a1a">−</text>
<text class="s" transform="translate(636.40,337.80) scale(0.865,1)" font-size="17.0" text-anchor="start" fill="#1a1a1a">4</text>
<line x1="595.90" y1="391.65" x2="600.10" y2="391.65" stroke="#000" stroke-width="1.25"/>
<text class="s" transform="translate(603.40,399.95) scale(0.865,1)" font-size="24.0" text-anchor="start" fill="#1a1a1a">10</text>
<text class="s" transform="translate(624.60,391.55) scale(1.200,1)" font-size="17.0" text-anchor="start" fill="#1a1a1a">−</text>
<text class="s" transform="translate(636.40,391.55) scale(0.865,1)" font-size="17.0" text-anchor="start" fill="#1a1a1a">6</text>
<line x1="595.90" y1="445.40" x2="600.10" y2="445.40" stroke="#000" stroke-width="1.25"/>
<text class="s" transform="translate(603.40,453.70) scale(0.865,1)" font-size="24.0" text-anchor="start" fill="#1a1a1a">10</text>
<text class="s" transform="translate(624.60,445.30) scale(1.200,1)" font-size="17.0" text-anchor="start" fill="#1a1a1a">−</text>
<text class="s" transform="translate(636.40,445.30) scale(0.865,1)" font-size="17.0" text-anchor="start" fill="#1a1a1a">8</text>
<g transform="translate(669.30,232.40) rotate(-90)">
<text class="s" transform="translate(0.00,0.00) scale(1.000,1)" font-size="23.0" text-anchor="middle" fill="#1a1a1a">(<tspan class="m">𝒟</tspan><tspan class="i" font-size="15.5" dy="3.4">c</tspan><tspan dy="-3.4">/</tspan><tspan class="m">𝒟</tspan><tspan class="i" font-size="15.5" dy="3.4">q</tspan><tspan dy="-3.4">)</tspan></text>
</g>
</g>
<g id="panel1">
<clipPath id="tri1"><polygon points="83.10,961.60 544.90,961.60 544.90,531.70"/></clipPath>
<clipPath id="ax1"><rect x="83.10" y="531.70" width="461.80" height="429.90"/></clipPath>
<g clip-path="url(#tri1)" shape-rendering="crispEdges">
<rect x="83.10" y="957.21" width="5.01" height="4.69" fill="#4c61d6"/>
<rect x="87.81" y="957.21" width="9.72" height="4.69" fill="#4555cd"/>
<rect x="97.24" y="957.21" width="9.72" height="4.69" fill="#4555cd"/>
<rect x="106.66" y="957.21" width="9.72" height="4.69" fill="#4555cd"/>
<rect x="116.09" y="957.21" width="9.72" height="4.69" fill="#4555cd"/>
<rect x="125.51" y="957.21" width="9.72" height="4.69" fill="#4555cd"/>
<rect x="134.93" y="957.21" width="9.72" height="4.69" fill="#4555cd"/>
<rect x="144.36" y="957.21" width="9.72" height="4.69" fill="#4555cd"/>
<rect x="153.78" y="957.21" width="9.72" height="4.69" fill="#4555cd"/>
<rect x="163.21" y="957.21" width="9.72" height="4.69" fill="#4555cd"/>
<rect x="172.63" y="957.21" width="9.72" height="4.69" fill="#4555cd"/>
<rect x="182.06" y="957.21" width="9.72" height="4.69" fill="#4555cd"/>
<rect x="191.48" y="957.21" width="9.72" height="4.69" fill="#4555cd"/>
<rect x="200.91" y="957.21" width="9.72" height="4.69" fill="#4555cd"/>
<rect x="210.33" y="957.21" width="9.72" height="4.69" fill="#4555cd"/>
<rect x="219.76" y="957.21" width="9.72" height="4.69" fill="#4555cd"/>
<rect x="229.18" y="957.21" width="9.72" height="4.69" fill="#4555cd"/>
<rect x="238.60" y="957.21" width="9.72" height="4.69" fill="#4555cd"/>
<rect x="248.03" y="957.21" width="9.72" height="4.69" fill="#4555cd"/>
<rect x="257.45" y="957.21" width="9.72" height="4.69" fill="#4555cd"/>
<rect x="266.88" y="957.21" width="9.72" height="4.69" fill="#4555cd"/>
<rect x="276.30" y="957.21" width="9.72" height="4.69" fill="#4555cd"/>
<rect x="285.73" y="957.21" width="9.72" height="4.69" fill="#4555cd"/>
<rect x="295.15" y="957.21" width="9.72" height="4.69" fill="#4555cd"/>
<rect x="304.58" y="957.21" width="9.72" height="4.69" fill="#4555cd"/>
<rect x="314.00" y="957.21" width="9.72" height="4.69" fill="#4555cd"/>
<rect x="323.42" y="957.21" width="9.72" height="4.69" fill="#4555cd"/>
<rect x="332.85" y="957.21" width="9.72" height="4.69" fill="#4555cd"/>
<rect x="342.27" y="957.21" width="9.72" height="4.69" fill="#4555cd"/>
<rect x="351.70" y="957.21" width="9.72" height="4.69" fill="#4555cd"/>
<rect x="361.12" y="957.21" width="9.72" height="4.69" fill="#4555cd"/>
<rect x="370.55" y="957.21" width="9.72" height="4.69" fill="#4555cd"/>
<rect x="379.97" y="957.21" width="9.72" height="4.69" fill="#4555cd"/>
<rect x="389.40" y="957.21" width="9.72" height="4.69" fill="#4555cd"/>
<rect x="398.82" y="957.21" width="9.72" height="4.69" fill="#4555cd"/>
<rect x="408.24" y="957.21" width="9.72" height="4.69" fill="#4555cd"/>
<rect x="417.67" y="957.21" width="9.72" height="4.69" fill="#4555cd"/>
<rect x="427.09" y="957.21" width="9.72" height="4.69" fill="#4555cd"/>
<rect x="436.52" y="957.21" width="9.72" height="4.69" fill="#4555cd"/>
<rect x="445.94" y="957.21" width="9.72" height="4.69" fill="#4555cd"/>
<rect x="455.37" y="957.21" width="9.72" height="4.69" fill="#4555cd"/>
<rect x="464.79" y="957.21" width="9.72" height="4.69" fill="#4555cd"/>
<rect x="474.22" y="957.21" width="9.72" height="4.69" fill="#4555cd"/>
<rect x="483.64" y="957.21" width="9.72" height="4.69" fill="#4555cd"/>
<rect x="493.07" y="957.21" width="9.72" height="4.69" fill="#4555cd"/>
<rect x="502.49" y="957.21" width="9.72" height="4.69" fill="#4555cd"/>
<rect x="511.91" y="957.21" width="9.72" height="4.69" fill="#4555cd"/>
<rect x="521.34" y="957.21" width="9.72" height="4.69" fill="#4555cd"/>
<rect x="530.76" y="957.21" width="9.72" height="4.69" fill="#4555cd"/>
<rect x="540.19" y="957.21" width="5.01" height="4.69" fill="#4555cd"/>
<rect x="87.81" y="948.44" width="9.72" height="9.07" fill="#4c61d6"/>
<rect x="97.24" y="948.44" width="9.72" height="9.07" fill="#485ad1"/>
<rect x="106.66" y="948.44" width="9.72" height="9.07" fill="#4555cd"/>
<rect x="116.09" y="948.44" width="9.72" height="9.07" fill="#4555cd"/>
<rect x="125.51" y="948.44" width="9.72" height="9.07" fill="#4555cd"/>
<rect x="134.93" y="948.44" width="9.72" height="9.07" fill="#4555cd"/>
<rect x="144.36" y="948.44" width="9.72" height="9.07" fill="#4555cd"/>
<rect x="153.78" y="948.44" width="9.72" height="9.07" fill="#4555cd"/>
<rect x="163.21" y="948.44" width="9.72" height="9.07" fill="#4555cd"/>
<rect x="172.63" y="948.44" width="9.72" height="9.07" fill="#4555cd"/>
<rect x="182.06" y="948.44" width="9.72" height="9.07" fill="#4555cd"/>
<rect x="191.48" y="948.44" width="9.72" height="9.07" fill="#4555cd"/>
<rect x="200.91" y="948.44" width="9.72" height="9.07" fill="#4555cd"/>
<rect x="210.33" y="948.44" width="9.72" height="9.07" fill="#4555cd"/>
<rect x="219.76" y="948.44" width="9.72" height="9.07" fill="#4555cd"/>
<rect x="229.18" y="948.44" width="9.72" height="9.07" fill="#4555cd"/>
<rect x="238.60" y="948.44" width="9.72" height="9.07" fill="#4555cd"/>
<rect x="248.03" y="948.44" width="9.72" height="9.07" fill="#4555cd"/>
<rect x="257.45" y="948.44" width="9.72" height="9.07" fill="#4555cd"/>
<rect x="266.88" y="948.44" width="9.72" height="9.07" fill="#4555cd"/>
<rect x="276.30" y="948.44" width="9.72" height="9.07" fill="#4555cd"/>
<rect x="285.73" y="948.44" width="9.72" height="9.07" fill="#4555cd"/>
<rect x="295.15" y="948.44" width="9.72" height="9.07" fill="#4555cd"/>
<rect x="304.58" y="948.44" width="9.72" height="9.07" fill="#4555cd"/>
<rect x="314.00" y="948.44" width="9.72" height="9.07" fill="#4555cd"/>
<rect x="323.42" y="948.44" width="9.72" height="9.07" fill="#4555cd"/>
<rect x="332.85" y="948.44" width="9.72" height="9.07" fill="#4555cd"/>
<rect x="342.27" y="948.44" width="9.72" height="9.07" fill="#4555cd"/>
<rect x="351.70" y="948.44" width="9.72" height="9.07" fill="#4555cd"/>
<rect x="361.12" y="948.44" width="9.72" height="9.07" fill="#4555cd"/>
<rect x="370.55" y="948.44" width="9.72" height="9.07" fill="#4555cd"/>
<rect x="379.97" y="948.44" width="9.72" height="9.07" fill="#4555cd"/>
<rect x="389.40" y="948.44" width="9.72" height="9.07" fill="#4555cd"/>
<rect x="398.82" y="948.44" width="9.72" height="9.07" fill="#4555cd"/>
<rect x="408.24" y="948.44" width="9.72" height="9.07" fill="#4555cd"/>
<rect x="417.67" y="948.44" width="9.72" height="9.07" fill="#4555cd"/>
<rect x="427.09" y="948.44" width="9.72" height="9.07" fill="#4555cd"/>
<rect x="436.52" y="948.44" width="9.72" height="9.07" fill="#4555cd"/>
<rect x="445.94" y="948.44" width="9.72" height="9.07" fill="#4555cd"/>
<rect x="455.37" y="948.44" width="9.72" height="9.07" fill="#4555cd"/>
<rect x="464.79" y="948.44" width="9.72" height="9.07" fill="#4555cd"/>
<rect x="474.22" y="948.44" width="9.72" height="9.07" fill="#4555cd"/>
<rect x="483.64" y="948.44" width="9.72" height="9.07" fill="#4555cd"/>
<rect x="493.07" y="948.44" width="9.72" height="9.07" fill="#4555cd"/>
<rect x="502.49" y="948.44" width="9.72" height="9.07" fill="#4555cd"/>
<rect x="511.91" y="948.44" width="9.72" height="9.07" fill="#4555cd"/>
<rect x="521.34" y="948.44" width="9.72" height="9.07" fill="#4555cd"/>
<rect x="530.76" y="948.44" width="9.72" height="9.07" fill="#4555cd"/>
<rect x="540.19" y="948.44" width="5.01" height="9.07" fill="#4555cd"/>
<rect x="97.24" y="939.67" width="9.72" height="9.07" fill="#4f65da"/>
<rect x="106.66" y="939.67" width="9.72" height="9.07" fill="#4c61d6"/>
<rect x="116.09" y="939.67" width="9.72" height="9.07" fill="#495cd2"/>
<rect x="125.51" y="939.67" width="9.72" height="9.07" fill="#485ad1"/>
<rect x="134.93" y="939.67" width="9.72" height="9.07" fill="#4657ce"/>
<rect x="144.36" y="939.67" width="9.72" height="9.07" fill="#4555cd"/>
<rect x="153.78" y="939.67" width="9.72" height="9.07" fill="#4555cd"/>
<rect x="163.21" y="939.67" width="9.72" height="9.07" fill="#4555cd"/>
<rect x="172.63" y="939.67" width="9.72" height="9.07" fill="#4555cd"/>
<rect x="182.06" y="939.67" width="9.72" height="9.07" fill="#4555cd"/>
<rect x="191.48" y="939.67" width="9.72" height="9.07" fill="#4555cd"/>
<rect x="200.91" y="939.67" width="9.72" height="9.07" fill="#4555cd"/>
<rect x="210.33" y="939.67" width="9.72" height="9.07" fill="#4555cd"/>
<rect x="219.76" y="939.67" width="9.72" height="9.07" fill="#4555cd"/>
<rect x="229.18" y="939.67" width="9.72" height="9.07" fill="#4555cd"/>
<rect x="238.60" y="939.67" width="9.72" height="9.07" fill="#4555cd"/>
<rect x="248.03" y="939.67" width="9.72" height="9.07" fill="#4555cd"/>
<rect x="257.45" y="939.67" width="9.72" height="9.07" fill="#4555cd"/>
<rect x="266.88" y="939.67" width="9.72" height="9.07" fill="#4555cd"/>
<rect x="276.30" y="939.67" width="9.72" height="9.07" fill="#4555cd"/>
<rect x="285.73" y="939.67" width="9.72" height="9.07" fill="#4555cd"/>
<rect x="295.15" y="939.67" width="9.72" height="9.07" fill="#4555cd"/>
<rect x="304.58" y="939.67" width="9.72" height="9.07" fill="#4555cd"/>
<rect x="314.00" y="939.67" width="9.72" height="9.07" fill="#4555cd"/>
<rect x="323.42" y="939.67" width="9.72" height="9.07" fill="#4555cd"/>
<rect x="332.85" y="939.67" width="9.72" height="9.07" fill="#4555cd"/>
<rect x="342.27" y="939.67" width="9.72" height="9.07" fill="#4555cd"/>
<rect x="351.70" y="939.67" width="9.72" height="9.07" fill="#4555cd"/>
<rect x="361.12" y="939.67" width="9.72" height="9.07" fill="#4555cd"/>
<rect x="370.55" y="939.67" width="9.72" height="9.07" fill="#4555cd"/>
<rect x="379.97" y="939.67" width="9.72" height="9.07" fill="#4555cd"/>
<rect x="389.40" y="939.67" width="9.72" height="9.07" fill="#4555cd"/>
<rect x="398.82" y="939.67" width="9.72" height="9.07" fill="#4555cd"/>
<rect x="408.24" y="939.67" width="9.72" height="9.07" fill="#4555cd"/>
<rect x="417.67" y="939.67" width="9.72" height="9.07" fill="#4555cd"/>
<rect x="427.09" y="939.67" width="9.72" height="9.07" fill="#4555cd"/>
<rect x="436.52" y="939.67" width="9.72" height="9.07" fill="#4555cd"/>
<rect x="445.94" y="939.67" width="9.72" height="9.07" fill="#4555cd"/>
<rect x="455.37" y="939.67" width="9.72" height="9.07" fill="#4555cd"/>
<rect x="464.79" y="939.67" width="9.72" height="9.07" fill="#4555cd"/>
<rect x="474.22" y="939.67" width="9.72" height="9.07" fill="#4555cd"/>
<rect x="483.64" y="939.67" width="9.72" height="9.07" fill="#4555cd"/>
<rect x="493.07" y="939.67" width="9.72" height="9.07" fill="#4555cd"/>
<rect x="502.49" y="939.67" width="9.72" height="9.07" fill="#4555cd"/>
<rect x="511.91" y="939.67" width="9.72" height="9.07" fill="#4555cd"/>
<rect x="521.34" y="939.67" width="9.72" height="9.07" fill="#4555cd"/>
<rect x="530.76" y="939.67" width="9.72" height="9.07" fill="#4555cd"/>
<rect x="540.19" y="939.67" width="5.01" height="9.07" fill="#4555cd"/>
<rect x="106.66" y="930.89" width="9.72" height="9.07" fill="#546cdf"/>
<rect x="116.09" y="930.89" width="9.72" height="9.07" fill="#5067db"/>
<rect x="125.51" y="930.89" width="9.72" height="9.07" fill="#4f65da"/>
<rect x="134.93" y="930.89" width="9.72" height="9.07" fill="#4d62d8"/>
<rect x="144.36" y="930.89" width="9.72" height="9.07" fill="#4c61d6"/>
<rect x="153.78" y="930.89" width="9.72" height="9.07" fill="#4a5dd4"/>
<rect x="163.21" y="930.89" width="9.72" height="9.07" fill="#495cd2"/>
<rect x="172.63" y="930.89" width="9.72" height="9.07" fill="#485ad1"/>
<rect x="182.06" y="930.89" width="9.72" height="9.07" fill="#485ad1"/>
<rect x="191.48" y="930.89" width="9.72" height="9.07" fill="#4758d0"/>
<rect x="200.91" y="930.89" width="9.72" height="9.07" fill="#4657ce"/>
<rect x="210.33" y="930.89" width="9.72" height="9.07" fill="#4555cd"/>
<rect x="219.76" y="930.89" width="9.72" height="9.07" fill="#4555cd"/>
<rect x="229.18" y="930.89" width="9.72" height="9.07" fill="#4555cd"/>
<rect x="238.60" y="930.89" width="9.72" height="9.07" fill="#4555cd"/>
<rect x="248.03" y="930.89" width="9.72" height="9.07" fill="#4555cd"/>
<rect x="257.45" y="930.89" width="9.72" height="9.07" fill="#4555cd"/>
<rect x="266.88" y="930.89" width="9.72" height="9.07" fill="#4555cd"/>
<rect x="276.30" y="930.89" width="9.72" height="9.07" fill="#4555cd"/>
<rect x="285.73" y="930.89" width="9.72" height="9.07" fill="#4555cd"/>
<rect x="295.15" y="930.89" width="9.72" height="9.07" fill="#4555cd"/>
<rect x="304.58" y="930.89" width="9.72" height="9.07" fill="#4555cd"/>
<rect x="314.00" y="930.89" width="9.72" height="9.07" fill="#4555cd"/>
<rect x="323.42" y="930.89" width="9.72" height="9.07" fill="#4555cd"/>
<rect x="332.85" y="930.89" width="9.72" height="9.07" fill="#4555cd"/>
<rect x="342.27" y="930.89" width="9.72" height="9.07" fill="#4555cd"/>
<rect x="351.70" y="930.89" width="9.72" height="9.07" fill="#4555cd"/>
<rect x="361.12" y="930.89" width="9.72" height="9.07" fill="#4555cd"/>
<rect x="370.55" y="930.89" width="9.72" height="9.07" fill="#4555cd"/>
<rect x="379.97" y="930.89" width="9.72" height="9.07" fill="#4555cd"/>
<rect x="389.40" y="930.89" width="9.72" height="9.07" fill="#4555cd"/>
<rect x="398.82" y="930.89" width="9.72" height="9.07" fill="#4555cd"/>
<rect x="408.24" y="930.89" width="9.72" height="9.07" fill="#4555cd"/>
<rect x="417.67" y="930.89" width="9.72" height="9.07" fill="#4555cd"/>
<rect x="427.09" y="930.89" width="9.72" height="9.07" fill="#4555cd"/>
<rect x="436.52" y="930.89" width="9.72" height="9.07" fill="#4555cd"/>
<rect x="445.94" y="930.89" width="9.72" height="9.07" fill="#4555cd"/>
<rect x="455.37" y="930.89" width="9.72" height="9.07" fill="#4555cd"/>
<rect x="464.79" y="930.89" width="9.72" height="9.07" fill="#4555cd"/>
<rect x="474.22" y="930.89" width="9.72" height="9.07" fill="#4555cd"/>
<rect x="483.64" y="930.89" width="9.72" height="9.07" fill="#4555cd"/>
<rect x="493.07" y="930.89" width="9.72" height="9.07" fill="#4555cd"/>
<rect x="502.49" y="930.89" width="9.72" height="9.07" fill="#4555cd"/>
<rect x="511.91" y="930.89" width="9.72" height="9.07" fill="#4555cd"/>
<rect x="521.34" y="930.89" width="9.72" height="9.07" fill="#4555cd"/>
<rect x="530.76" y="930.89" width="9.72" height="9.07" fill="#4555cd"/>
<rect x="540.19" y="930.89" width="5.01" height="9.07" fill="#4555cd"/>
<rect x="116.09" y="922.12" width="9.72" height="9.07" fill="#5872e3"/>
<rect x="125.51" y="922.12" width="9.72" height="9.07" fill="#5771e2"/>
<rect x="134.93" y="922.12" width="9.72" height="9.07" fill="#556de0"/>
<rect x="144.36" y="922.12" width="9.72" height="9.07" fill="#546cdf"/>
<rect x="153.78" y="922.12" width="9.72" height="9.07" fill="#5269dc"/>
<rect x="163.21" y="922.12" width="9.72" height="9.07" fill="#5067db"/>
<rect x="172.63" y="922.12" width="9.72" height="9.07" fill="#4f65da"/>
<rect x="182.06" y="922.12" width="9.72" height="9.07" fill="#4f65da"/>
<rect x="191.48" y="922.12" width="9.72" height="9.07" fill="#4e64d9"/>
<rect x="200.91" y="922.12" width="9.72" height="9.07" fill="#4d62d8"/>
<rect x="210.33" y="922.12" width="9.72" height="9.07" fill="#4c61d6"/>
<rect x="219.76" y="922.12" width="9.72" height="9.07" fill="#4c61d6"/>
<rect x="229.18" y="922.12" width="9.72" height="9.07" fill="#4b5fd5"/>
<rect x="238.60" y="922.12" width="9.72" height="9.07" fill="#4a5dd4"/>
<rect x="248.03" y="922.12" width="9.72" height="9.07" fill="#4a5dd4"/>
<rect x="257.45" y="922.12" width="9.72" height="9.07" fill="#495cd2"/>
<rect x="266.88" y="922.12" width="9.72" height="9.07" fill="#495cd2"/>
<rect x="276.30" y="922.12" width="9.72" height="9.07" fill="#485ad1"/>
<rect x="285.73" y="922.12" width="9.72" height="9.07" fill="#485ad1"/>
<rect x="295.15" y="922.12" width="9.72" height="9.07" fill="#485ad1"/>
<rect x="304.58" y="922.12" width="9.72" height="9.07" fill="#4758d0"/>
<rect x="314.00" y="922.12" width="9.72" height="9.07" fill="#4758d0"/>
<rect x="323.42" y="922.12" width="9.72" height="9.07" fill="#4657ce"/>
<rect x="332.85" y="922.12" width="9.72" height="9.07" fill="#4657ce"/>
<rect x="342.27" y="922.12" width="9.72" height="9.07" fill="#4657ce"/>
<rect x="351.70" y="922.12" width="9.72" height="9.07" fill="#4555cd"/>
<rect x="361.12" y="922.12" width="9.72" height="9.07" fill="#4555cd"/>
<rect x="370.55" y="922.12" width="9.72" height="9.07" fill="#4555cd"/>
<rect x="379.97" y="922.12" width="9.72" height="9.07" fill="#4555cd"/>
<rect x="389.40" y="922.12" width="9.72" height="9.07" fill="#4555cd"/>
<rect x="398.82" y="922.12" width="9.72" height="9.07" fill="#4555cd"/>
<rect x="408.24" y="922.12" width="9.72" height="9.07" fill="#4555cd"/>
<rect x="417.67" y="922.12" width="9.72" height="9.07" fill="#4555cd"/>
<rect x="427.09" y="922.12" width="9.72" height="9.07" fill="#4555cd"/>
<rect x="436.52" y="922.12" width="9.72" height="9.07" fill="#4555cd"/>
<rect x="445.94" y="922.12" width="9.72" height="9.07" fill="#4555cd"/>
<rect x="455.37" y="922.12" width="9.72" height="9.07" fill="#4555cd"/>
<rect x="464.79" y="922.12" width="9.72" height="9.07" fill="#4555cd"/>
<rect x="474.22" y="922.12" width="9.72" height="9.07" fill="#4555cd"/>
<rect x="483.64" y="922.12" width="9.72" height="9.07" fill="#4555cd"/>
<rect x="493.07" y="922.12" width="9.72" height="9.07" fill="#4555cd"/>
<rect x="502.49" y="922.12" width="9.72" height="9.07" fill="#4555cd"/>
<rect x="511.91" y="922.12" width="9.72" height="9.07" fill="#4555cd"/>
<rect x="521.34" y="922.12" width="9.72" height="9.07" fill="#4555cd"/>
<rect x="530.76" y="922.12" width="9.72" height="9.07" fill="#4555cd"/>
<rect x="540.19" y="922.12" width="5.01" height="9.07" fill="#4555cd"/>
<rect x="125.51" y="913.35" width="9.72" height="9.07" fill="#5f7cea"/>
<rect x="134.93" y="913.35" width="9.72" height="9.07" fill="#5d78e7"/>
<rect x="144.36" y="913.35" width="9.72" height="9.07" fill="#5c77e6"/>
<rect x="153.78" y="913.35" width="9.72" height="9.07" fill="#5974e4"/>
<rect x="163.21" y="913.35" width="9.72" height="9.07" fill="#5872e3"/>
<rect x="172.63" y="913.35" width="9.72" height="9.07" fill="#5770e2"/>
<rect x="182.06" y="913.35" width="9.72" height="9.07" fill="#5771e2"/>
<rect x="191.48" y="913.35" width="9.72" height="9.07" fill="#566fe1"/>
<rect x="200.91" y="913.35" width="9.72" height="9.07" fill="#556de0"/>
<rect x="210.33" y="913.35" width="9.72" height="9.07" fill="#546cdf"/>
<rect x="219.76" y="913.35" width="9.72" height="9.07" fill="#546cdf"/>
<rect x="229.18" y="913.35" width="9.72" height="9.07" fill="#536ade"/>
<rect x="238.60" y="913.35" width="9.72" height="9.07" fill="#5269dc"/>
<rect x="248.03" y="913.35" width="9.72" height="9.07" fill="#5269dc"/>
<rect x="257.45" y="913.35" width="9.72" height="9.07" fill="#5067db"/>
<rect x="266.88" y="913.35" width="9.72" height="9.07" fill="#5067db"/>
<rect x="276.30" y="913.35" width="9.72" height="9.07" fill="#4f65da"/>
<rect x="285.73" y="913.35" width="9.72" height="9.07" fill="#4f65da"/>
<rect x="295.15" y="913.35" width="9.72" height="9.07" fill="#4f65da"/>
<rect x="304.58" y="913.35" width="9.72" height="9.07" fill="#4e64d9"/>
<rect x="314.00" y="913.35" width="9.72" height="9.07" fill="#4e64d9"/>
<rect x="323.42" y="913.35" width="9.72" height="9.07" fill="#4d62d8"/>
<rect x="332.85" y="913.35" width="9.72" height="9.07" fill="#4d62d8"/>
<rect x="342.27" y="913.35" width="9.72" height="9.07" fill="#4d62d8"/>
<rect x="351.70" y="913.35" width="9.72" height="9.07" fill="#4c61d6"/>
<rect x="361.12" y="913.35" width="9.72" height="9.07" fill="#4c61d6"/>
<rect x="370.55" y="913.35" width="9.72" height="9.07" fill="#4c61d6"/>
<rect x="379.97" y="913.35" width="9.72" height="9.07" fill="#4b5fd5"/>
<rect x="389.40" y="913.35" width="9.72" height="9.07" fill="#4b5fd5"/>
<rect x="398.82" y="913.35" width="9.72" height="9.07" fill="#4b5fd5"/>
<rect x="408.24" y="913.35" width="9.72" height="9.07" fill="#4a5dd4"/>
<rect x="417.67" y="913.35" width="9.72" height="9.07" fill="#4a5dd4"/>
<rect x="427.09" y="913.35" width="9.72" height="9.07" fill="#4a5dd4"/>
<rect x="436.52" y="913.35" width="9.72" height="9.07" fill="#4a5dd4"/>
<rect x="445.94" y="913.35" width="9.72" height="9.07" fill="#495cd2"/>
<rect x="455.37" y="913.35" width="9.72" height="9.07" fill="#495cd2"/>
<rect x="464.79" y="913.35" width="9.72" height="9.07" fill="#495cd2"/>
<rect x="474.22" y="913.35" width="9.72" height="9.07" fill="#495cd2"/>
<rect x="483.64" y="913.35" width="9.72" height="9.07" fill="#485ad1"/>
<rect x="493.07" y="913.35" width="9.72" height="9.07" fill="#485ad1"/>
<rect x="502.49" y="913.35" width="9.72" height="9.07" fill="#485ad1"/>
<rect x="511.91" y="913.35" width="9.72" height="9.07" fill="#485ad1"/>
<rect x="521.34" y="913.35" width="9.72" height="9.07" fill="#485ad1"/>
<rect x="530.76" y="913.35" width="9.72" height="9.07" fill="#4758d0"/>
<rect x="540.19" y="913.35" width="5.01" height="9.07" fill="#4758d0"/>
<rect x="134.93" y="904.57" width="9.72" height="9.07" fill="#6583ee"/>
<rect x="144.36" y="904.57" width="9.72" height="9.07" fill="#6482ed"/>
<rect x="153.78" y="904.57" width="9.72" height="9.07" fill="#627eeb"/>
<rect x="163.21" y="904.57" width="9.72" height="9.07" fill="#607dea"/>
<rect x="172.63" y="904.57" width="9.72" height="9.07" fill="#5f7be9"/>
<rect x="182.06" y="904.57" width="9.72" height="9.07" fill="#5f7cea"/>
<rect x="191.48" y="904.57" width="9.72" height="9.07" fill="#5e7ae9"/>
<rect x="200.91" y="904.57" width="9.72" height="9.07" fill="#5d78e7"/>
<rect x="210.33" y="904.57" width="9.72" height="9.07" fill="#5c77e6"/>
<rect x="219.76" y="904.57" width="9.72" height="9.07" fill="#5c77e6"/>
<rect x="229.18" y="904.57" width="9.72" height="9.07" fill="#5b75e5"/>
<rect x="238.60" y="904.57" width="9.72" height="9.07" fill="#5974e4"/>
<rect x="248.03" y="904.57" width="9.72" height="9.07" fill="#5974e4"/>
<rect x="257.45" y="904.57" width="9.72" height="9.07" fill="#5872e3"/>
<rect x="266.88" y="904.57" width="9.72" height="9.07" fill="#5872e3"/>
<rect x="276.30" y="904.57" width="9.72" height="9.07" fill="#5770e2"/>
<rect x="285.73" y="904.57" width="9.72" height="9.07" fill="#5771e2"/>
<rect x="295.15" y="904.57" width="9.72" height="9.07" fill="#5771e2"/>
<rect x="304.58" y="904.57" width="9.72" height="9.07" fill="#566fe1"/>
<rect x="314.00" y="904.57" width="9.72" height="9.07" fill="#566fe1"/>
<rect x="323.42" y="904.57" width="9.72" height="9.07" fill="#556de0"/>
<rect x="332.85" y="904.57" width="9.72" height="9.07" fill="#556de0"/>
<rect x="342.27" y="904.57" width="9.72" height="9.07" fill="#556de0"/>
<rect x="351.70" y="904.57" width="9.72" height="9.07" fill="#546cdf"/>
<rect x="361.12" y="904.57" width="9.72" height="9.07" fill="#546cdf"/>
<rect x="370.55" y="904.57" width="9.72" height="9.07" fill="#546cdf"/>
<rect x="379.97" y="904.57" width="9.72" height="9.07" fill="#536ade"/>
<rect x="389.40" y="904.57" width="9.72" height="9.07" fill="#536ade"/>
<rect x="398.82" y="904.57" width="9.72" height="9.07" fill="#536ade"/>
<rect x="408.24" y="904.57" width="9.72" height="9.07" fill="#5269dc"/>
<rect x="417.67" y="904.57" width="9.72" height="9.07" fill="#5269dc"/>
<rect x="427.09" y="904.57" width="9.72" height="9.07" fill="#5269dc"/>
<rect x="436.52" y="904.57" width="9.72" height="9.07" fill="#5269dd"/>
<rect x="445.94" y="904.57" width="9.72" height="9.07" fill="#5067db"/>
<rect x="455.37" y="904.57" width="9.72" height="9.07" fill="#5067db"/>
<rect x="464.79" y="904.57" width="9.72" height="9.07" fill="#5067db"/>
<rect x="474.22" y="904.57" width="9.72" height="9.07" fill="#5067db"/>
<rect x="483.64" y="904.57" width="9.72" height="9.07" fill="#4f65da"/>
<rect x="493.07" y="904.57" width="9.72" height="9.07" fill="#4f65da"/>
<rect x="502.49" y="904.57" width="9.72" height="9.07" fill="#4f65da"/>
<rect x="511.91" y="904.57" width="9.72" height="9.07" fill="#4f65da"/>
<rect x="521.34" y="904.57" width="9.72" height="9.07" fill="#4f65da"/>
<rect x="530.76" y="904.57" width="9.72" height="9.07" fill="#4e64d9"/>
<rect x="540.19" y="904.57" width="5.01" height="9.07" fill="#4e64d9"/>
<rect x="144.36" y="895.80" width="9.72" height="9.07" fill="#6d8cf3"/>
<rect x="153.78" y="895.80" width="9.72" height="9.07" fill="#6a89f1"/>
<rect x="163.21" y="895.80" width="9.72" height="9.07" fill="#6987f0"/>
<rect x="172.63" y="895.80" width="9.72" height="9.07" fill="#6886f0"/>
<rect x="182.06" y="895.80" width="9.72" height="9.07" fill="#6886f0"/>
<rect x="191.48" y="895.80" width="9.72" height="9.07" fill="#6685ef"/>
<rect x="200.91" y="895.80" width="9.72" height="9.07" fill="#6583ee"/>
<rect x="210.33" y="895.80" width="9.72" height="9.07" fill="#6481ed"/>
<rect x="219.76" y="895.80" width="9.72" height="9.07" fill="#6482ed"/>
<rect x="229.18" y="895.80" width="9.72" height="9.07" fill="#6380ec"/>
<rect x="238.60" y="895.80" width="9.72" height="9.07" fill="#627eeb"/>
<rect x="248.03" y="895.80" width="9.72" height="9.07" fill="#627eeb"/>
<rect x="257.45" y="895.80" width="9.72" height="9.07" fill="#607dea"/>
<rect x="266.88" y="895.80" width="9.72" height="9.07" fill="#607dea"/>
<rect x="276.30" y="895.80" width="9.72" height="9.07" fill="#5f7be9"/>
<rect x="285.73" y="895.80" width="9.72" height="9.07" fill="#5f7be9"/>
<rect x="295.15" y="895.80" width="9.72" height="9.07" fill="#5f7cea"/>
<rect x="304.58" y="895.80" width="9.72" height="9.07" fill="#5e7ae8"/>
<rect x="314.00" y="895.80" width="9.72" height="9.07" fill="#5e7ae9"/>
<rect x="323.42" y="895.80" width="9.72" height="9.07" fill="#5d78e7"/>
<rect x="332.85" y="895.80" width="9.72" height="9.07" fill="#5d78e7"/>
<rect x="342.27" y="895.80" width="9.72" height="9.07" fill="#5d78e7"/>
<rect x="351.70" y="895.80" width="9.72" height="9.07" fill="#5c77e6"/>
<rect x="361.12" y="895.80" width="9.72" height="9.07" fill="#5c77e6"/>
<rect x="370.55" y="895.80" width="9.72" height="9.07" fill="#5c77e6"/>
<rect x="379.97" y="895.80" width="9.72" height="9.07" fill="#5b75e5"/>
<rect x="389.40" y="895.80" width="9.72" height="9.07" fill="#5b75e5"/>
<rect x="398.82" y="895.80" width="9.72" height="9.07" fill="#5b75e5"/>
<rect x="408.24" y="895.80" width="9.72" height="9.07" fill="#5974e4"/>
<rect x="417.67" y="895.80" width="9.72" height="9.07" fill="#5974e4"/>
<rect x="427.09" y="895.80" width="9.72" height="9.07" fill="#5974e4"/>
<rect x="436.52" y="895.80" width="9.72" height="9.07" fill="#5a74e4"/>
<rect x="445.94" y="895.80" width="9.72" height="9.07" fill="#5872e3"/>
<rect x="455.37" y="895.80" width="9.72" height="9.07" fill="#5872e3"/>
<rect x="464.79" y="895.80" width="9.72" height="9.07" fill="#5872e3"/>
<rect x="474.22" y="895.80" width="9.72" height="9.07" fill="#5872e3"/>
<rect x="483.64" y="895.80" width="9.72" height="9.07" fill="#5770e2"/>
<rect x="493.07" y="895.80" width="9.72" height="9.07" fill="#5771e2"/>
<rect x="502.49" y="895.80" width="9.72" height="9.07" fill="#5771e2"/>
<rect x="511.91" y="895.80" width="9.72" height="9.07" fill="#5771e2"/>
<rect x="521.34" y="895.80" width="9.72" height="9.07" fill="#5771e2"/>
<rect x="530.76" y="895.80" width="9.72" height="9.07" fill="#566fe1"/>
<rect x="540.19" y="895.80" width="5.01" height="9.07" fill="#566fe1"/>
<rect x="153.78" y="887.03" width="9.72" height="9.07" fill="#7393f6"/>
<rect x="163.21" y="887.03" width="9.72" height="9.07" fill="#7192f5"/>
<rect x="172.63" y="887.03" width="9.72" height="9.07" fill="#7090f5"/>
<rect x="182.06" y="887.03" width="9.72" height="9.07" fill="#7090f5"/>
<rect x="191.48" y="887.03" width="9.72" height="9.07" fill="#6f8ff4"/>
<rect x="200.91" y="887.03" width="9.72" height="9.07" fill="#6e8df3"/>
<rect x="210.33" y="887.03" width="9.72" height="9.07" fill="#6c8cf2"/>
<rect x="219.76" y="887.03" width="9.72" height="9.07" fill="#6d8cf3"/>
<rect x="229.18" y="887.03" width="9.72" height="9.07" fill="#6b8af2"/>
<rect x="238.60" y="887.03" width="9.72" height="9.07" fill="#6a89f1"/>
<rect x="248.03" y="887.03" width="9.72" height="9.07" fill="#6a89f1"/>
<rect x="257.45" y="887.03" width="9.72" height="9.07" fill="#6987f0"/>
<rect x="266.88" y="887.03" width="9.72" height="9.07" fill="#6988f0"/>
<rect x="276.30" y="887.03" width="9.72" height="9.07" fill="#6886f0"/>
<rect x="285.73" y="887.03" width="9.72" height="9.07" fill="#6886f0"/>
<rect x="295.15" y="887.03" width="9.72" height="9.07" fill="#6886f0"/>
<rect x="304.58" y="887.03" width="9.72" height="9.07" fill="#6685ef"/>
<rect x="314.00" y="887.03" width="9.72" height="9.07" fill="#6685ef"/>
<rect x="323.42" y="887.03" width="9.72" height="9.07" fill="#6583ee"/>
<rect x="332.85" y="887.03" width="9.72" height="9.07" fill="#6583ee"/>
<rect x="342.27" y="887.03" width="9.72" height="9.07" fill="#6583ee"/>
<rect x="351.70" y="887.03" width="9.72" height="9.07" fill="#6481ed"/>
<rect x="361.12" y="887.03" width="9.72" height="9.07" fill="#6482ed"/>
<rect x="370.55" y="887.03" width="9.72" height="9.07" fill="#6482ed"/>
<rect x="379.97" y="887.03" width="9.72" height="9.07" fill="#6380ec"/>
<rect x="389.40" y="887.03" width="9.72" height="9.07" fill="#6380ec"/>
<rect x="398.82" y="887.03" width="9.72" height="9.07" fill="#6380ec"/>
<rect x="408.24" y="887.03" width="9.72" height="9.07" fill="#627eeb"/>
<rect x="417.67" y="887.03" width="9.72" height="9.07" fill="#627eeb"/>
<rect x="427.09" y="887.03" width="9.72" height="9.07" fill="#627eeb"/>
<rect x="436.52" y="887.03" width="9.72" height="9.07" fill="#627feb"/>
<rect x="445.94" y="887.03" width="9.72" height="9.07" fill="#607dea"/>
<rect x="455.37" y="887.03" width="9.72" height="9.07" fill="#607dea"/>
<rect x="464.79" y="887.03" width="9.72" height="9.07" fill="#607dea"/>
<rect x="474.22" y="887.03" width="9.72" height="9.07" fill="#607dea"/>
<rect x="483.64" y="887.03" width="9.72" height="9.07" fill="#5f7be9"/>
<rect x="493.07" y="887.03" width="9.72" height="9.07" fill="#5f7be9"/>
<rect x="502.49" y="887.03" width="9.72" height="9.07" fill="#5f7be9"/>
<rect x="511.91" y="887.03" width="9.72" height="9.07" fill="#5f7bea"/>
<rect x="521.34" y="887.03" width="9.72" height="9.07" fill="#5f7cea"/>
<rect x="530.76" y="887.03" width="9.72" height="9.07" fill="#5e7ae8"/>
<rect x="540.19" y="887.03" width="5.01" height="9.07" fill="#5e7ae8"/>
<rect x="163.21" y="878.25" width="9.72" height="9.07" fill="#7a9bf9"/>
<rect x="172.63" y="878.25" width="9.72" height="9.07" fill="#799af9"/>
<rect x="182.06" y="878.25" width="9.72" height="9.07" fill="#799af9"/>
<rect x="191.48" y="878.25" width="9.72" height="9.07" fill="#7899f8"/>
<rect x="200.91" y="878.25" width="9.72" height="9.07" fill="#7697f8"/>
<rect x="210.33" y="878.25" width="9.72" height="9.07" fill="#7596f7"/>
<rect x="219.76" y="878.25" width="9.72" height="9.07" fill="#7596f7"/>
<rect x="229.18" y="878.25" width="9.72" height="9.07" fill="#7495f7"/>
<rect x="238.60" y="878.25" width="9.72" height="9.07" fill="#7393f6"/>
<rect x="248.03" y="878.25" width="9.72" height="9.07" fill="#7393f6"/>
<rect x="257.45" y="878.25" width="9.72" height="9.07" fill="#7192f5"/>
<rect x="266.88" y="878.25" width="9.72" height="9.07" fill="#7192f5"/>
<rect x="276.30" y="878.25" width="9.72" height="9.07" fill="#7090f5"/>
<rect x="285.73" y="878.25" width="9.72" height="9.07" fill="#7090f5"/>
<rect x="295.15" y="878.25" width="9.72" height="9.07" fill="#7090f5"/>
<rect x="304.58" y="878.25" width="9.72" height="9.07" fill="#6f8ff4"/>
<rect x="314.00" y="878.25" width="9.72" height="9.07" fill="#6f8ff4"/>
<rect x="323.42" y="878.25" width="9.72" height="9.07" fill="#6e8df3"/>
<rect x="332.85" y="878.25" width="9.72" height="9.07" fill="#6e8df3"/>
<rect x="342.27" y="878.25" width="9.72" height="9.07" fill="#6e8df3"/>
<rect x="351.70" y="878.25" width="9.72" height="9.07" fill="#6c8cf2"/>
<rect x="361.12" y="878.25" width="9.72" height="9.07" fill="#6c8cf3"/>
<rect x="370.55" y="878.25" width="9.72" height="9.07" fill="#6d8cf3"/>
<rect x="379.97" y="878.25" width="9.72" height="9.07" fill="#6b8af2"/>
<rect x="389.40" y="878.25" width="9.72" height="9.07" fill="#6b8af2"/>
<rect x="398.82" y="878.25" width="9.72" height="9.07" fill="#6b8af2"/>
<rect x="408.24" y="878.25" width="9.72" height="9.07" fill="#6a89f1"/>
<rect x="417.67" y="878.25" width="9.72" height="9.07" fill="#6a89f1"/>
<rect x="427.09" y="878.25" width="9.72" height="9.07" fill="#6a89f1"/>
<rect x="436.52" y="878.25" width="9.72" height="9.07" fill="#6a89f1"/>
<rect x="445.94" y="878.25" width="9.72" height="9.07" fill="#6987f0"/>
<rect x="455.37" y="878.25" width="9.72" height="9.07" fill="#6988f0"/>
<rect x="464.79" y="878.25" width="9.72" height="9.07" fill="#6988f0"/>
<rect x="474.22" y="878.25" width="9.72" height="9.07" fill="#6988f1"/>
<rect x="483.64" y="878.25" width="9.72" height="9.07" fill="#6886f0"/>
<rect x="493.07" y="878.25" width="9.72" height="9.07" fill="#6886f0"/>
<rect x="502.49" y="878.25" width="9.72" height="9.07" fill="#6886f0"/>
<rect x="511.91" y="878.25" width="9.72" height="9.07" fill="#6886f0"/>
<rect x="521.34" y="878.25" width="9.72" height="9.07" fill="#6886f0"/>
<rect x="530.76" y="878.25" width="9.72" height="9.07" fill="#6684ef"/>
<rect x="540.19" y="878.25" width="5.01" height="9.07" fill="#6685ef"/>
<rect x="172.63" y="869.48" width="9.72" height="9.07" fill="#82a3fb"/>
<rect x="182.06" y="869.48" width="9.72" height="9.07" fill="#82a3fc"/>
<rect x="191.48" y="869.48" width="9.72" height="9.07" fill="#81a2fb"/>
<rect x="200.91" y="869.48" width="9.72" height="9.07" fill="#7fa1fb"/>
<rect x="210.33" y="869.48" width="9.72" height="9.07" fill="#7e9ffa"/>
<rect x="219.76" y="869.48" width="9.72" height="9.07" fill="#7e9ffb"/>
<rect x="229.18" y="869.48" width="9.72" height="9.07" fill="#7d9efa"/>
<rect x="238.60" y="869.48" width="9.72" height="9.07" fill="#7b9dfa"/>
<rect x="248.03" y="869.48" width="9.72" height="9.07" fill="#7b9dfa"/>
<rect x="257.45" y="869.48" width="9.72" height="9.07" fill="#7a9bf9"/>
<rect x="266.88" y="869.48" width="9.72" height="9.07" fill="#7a9bf9"/>
<rect x="276.30" y="869.48" width="9.72" height="9.07" fill="#799af9"/>
<rect x="285.73" y="869.48" width="9.72" height="9.07" fill="#799af9"/>
<rect x="295.15" y="869.48" width="9.72" height="9.07" fill="#799af9"/>
<rect x="304.58" y="869.48" width="9.72" height="9.07" fill="#7899f8"/>
<rect x="314.00" y="869.48" width="9.72" height="9.07" fill="#7899f8"/>
<rect x="323.42" y="869.48" width="9.72" height="9.07" fill="#7697f7"/>
<rect x="332.85" y="869.48" width="9.72" height="9.07" fill="#7697f8"/>
<rect x="342.27" y="869.48" width="9.72" height="9.07" fill="#7697f8"/>
<rect x="351.70" y="869.48" width="9.72" height="9.07" fill="#7596f7"/>
<rect x="361.12" y="869.48" width="9.72" height="9.07" fill="#7596f7"/>
<rect x="370.55" y="869.48" width="9.72" height="9.07" fill="#7596f7"/>
<rect x="379.97" y="869.48" width="9.72" height="9.07" fill="#7494f6"/>
<rect x="389.40" y="869.48" width="9.72" height="9.07" fill="#7495f7"/>
<rect x="398.82" y="869.48" width="9.72" height="9.07" fill="#7495f7"/>
<rect x="408.24" y="869.48" width="9.72" height="9.07" fill="#7393f6"/>
<rect x="417.67" y="869.48" width="9.72" height="9.07" fill="#7393f6"/>
<rect x="427.09" y="869.48" width="9.72" height="9.07" fill="#7393f6"/>
<rect x="436.52" y="869.48" width="9.72" height="9.07" fill="#7393f6"/>
<rect x="445.94" y="869.48" width="9.72" height="9.07" fill="#7192f5"/>
<rect x="455.37" y="869.48" width="9.72" height="9.07" fill="#7192f5"/>
<rect x="464.79" y="869.48" width="9.72" height="9.07" fill="#7192f5"/>
<rect x="474.22" y="869.48" width="9.72" height="9.07" fill="#7192f5"/>
<rect x="483.64" y="869.48" width="9.72" height="9.07" fill="#7090f5"/>
<rect x="493.07" y="869.48" width="9.72" height="9.07" fill="#7090f5"/>
<rect x="502.49" y="869.48" width="9.72" height="9.07" fill="#7090f5"/>
<rect x="511.91" y="869.48" width="9.72" height="9.07" fill="#7090f5"/>
<rect x="521.34" y="869.48" width="9.72" height="9.07" fill="#7090f5"/>
<rect x="530.76" y="869.48" width="9.72" height="9.07" fill="#6f8ff4"/>
<rect x="540.19" y="869.48" width="5.01" height="9.07" fill="#6f8ff4"/>
<rect x="182.06" y="860.71" width="9.72" height="9.07" fill="#8bacfd"/>
<rect x="191.48" y="860.71" width="9.72" height="9.07" fill="#8aabfd"/>
<rect x="200.91" y="860.71" width="9.72" height="9.07" fill="#88aafd"/>
<rect x="210.33" y="860.71" width="9.72" height="9.07" fill="#87a8fd"/>
<rect x="219.76" y="860.71" width="9.72" height="9.07" fill="#87a8fd"/>
<rect x="229.18" y="860.71" width="9.72" height="9.07" fill="#86a7fc"/>
<rect x="238.60" y="860.71" width="9.72" height="9.07" fill="#84a6fc"/>
<rect x="248.03" y="860.71" width="9.72" height="9.07" fill="#84a6fc"/>
<rect x="257.45" y="860.71" width="9.72" height="9.07" fill="#83a5fc"/>
<rect x="266.88" y="860.71" width="9.72" height="9.07" fill="#83a5fc"/>
<rect x="276.30" y="860.71" width="9.72" height="9.07" fill="#82a3fb"/>
<rect x="285.73" y="860.71" width="9.72" height="9.07" fill="#82a3fb"/>
<rect x="295.15" y="860.71" width="9.72" height="9.07" fill="#82a3fc"/>
<rect x="304.58" y="860.71" width="9.72" height="9.07" fill="#81a2fb"/>
<rect x="314.00" y="860.71" width="9.72" height="9.07" fill="#81a2fb"/>
<rect x="323.42" y="860.71" width="9.72" height="9.07" fill="#7fa1fb"/>
<rect x="332.85" y="860.71" width="9.72" height="9.07" fill="#7fa1fb"/>
<rect x="342.27" y="860.71" width="9.72" height="9.07" fill="#7fa1fb"/>
<rect x="351.70" y="860.71" width="9.72" height="9.07" fill="#7e9ffa"/>
<rect x="361.12" y="860.71" width="9.72" height="9.07" fill="#7e9ffa"/>
<rect x="370.55" y="860.71" width="9.72" height="9.07" fill="#7e9ffb"/>
<rect x="379.97" y="860.71" width="9.72" height="9.07" fill="#7d9efa"/>
<rect x="389.40" y="860.71" width="9.72" height="9.07" fill="#7d9efa"/>
<rect x="398.82" y="860.71" width="9.72" height="9.07" fill="#7d9efa"/>
<rect x="408.24" y="860.71" width="9.72" height="9.07" fill="#7b9dfa"/>
<rect x="417.67" y="860.71" width="9.72" height="9.07" fill="#7b9dfa"/>
<rect x="427.09" y="860.71" width="9.72" height="9.07" fill="#7b9dfa"/>
<rect x="436.52" y="860.71" width="9.72" height="9.07" fill="#7b9dfa"/>
<rect x="445.94" y="860.71" width="9.72" height="9.07" fill="#7a9bf9"/>
<rect x="455.37" y="860.71" width="9.72" height="9.07" fill="#7a9bf9"/>
<rect x="464.79" y="860.71" width="9.72" height="9.07" fill="#7a9bf9"/>
<rect x="474.22" y="860.71" width="9.72" height="9.07" fill="#7a9bf9"/>
<rect x="483.64" y="860.71" width="9.72" height="9.07" fill="#799af9"/>
<rect x="493.07" y="860.71" width="9.72" height="9.07" fill="#799af9"/>
<rect x="502.49" y="860.71" width="9.72" height="9.07" fill="#799af9"/>
<rect x="511.91" y="860.71" width="9.72" height="9.07" fill="#799af9"/>
<rect x="521.34" y="860.71" width="9.72" height="9.07" fill="#799af9"/>
<rect x="530.76" y="860.71" width="9.72" height="9.07" fill="#7899f8"/>
<rect x="540.19" y="860.71" width="5.01" height="9.07" fill="#7899f8"/>
<rect x="191.48" y="851.93" width="9.72" height="9.07" fill="#93b3fe"/>
<rect x="200.91" y="851.93" width="9.72" height="9.07" fill="#91b2fe"/>
<rect x="210.33" y="851.93" width="9.72" height="9.07" fill="#90b1fe"/>
<rect x="219.76" y="851.93" width="9.72" height="9.07" fill="#90b1fe"/>
<rect x="229.18" y="851.93" width="9.72" height="9.07" fill="#8fb0fe"/>
<rect x="238.60" y="851.93" width="9.72" height="9.07" fill="#8daefd"/>
<rect x="248.03" y="851.93" width="9.72" height="9.07" fill="#8daefd"/>
<rect x="257.45" y="851.93" width="9.72" height="9.07" fill="#8cadfd"/>
<rect x="266.88" y="851.93" width="9.72" height="9.07" fill="#8cadfd"/>
<rect x="276.30" y="851.93" width="9.72" height="9.07" fill="#8bacfd"/>
<rect x="285.73" y="851.93" width="9.72" height="9.07" fill="#8bacfd"/>
<rect x="295.15" y="851.93" width="9.72" height="9.07" fill="#8bacfd"/>
<rect x="304.58" y="851.93" width="9.72" height="9.07" fill="#8aabfd"/>
<rect x="314.00" y="851.93" width="9.72" height="9.07" fill="#8aabfd"/>
<rect x="323.42" y="851.93" width="9.72" height="9.07" fill="#88aafd"/>
<rect x="332.85" y="851.93" width="9.72" height="9.07" fill="#88aafd"/>
<rect x="342.27" y="851.93" width="9.72" height="9.07" fill="#88aafd"/>
<rect x="351.70" y="851.93" width="9.72" height="9.07" fill="#87a8fd"/>
<rect x="361.12" y="851.93" width="9.72" height="9.07" fill="#87a8fd"/>
<rect x="370.55" y="851.93" width="9.72" height="9.07" fill="#87a8fd"/>
<rect x="379.97" y="851.93" width="9.72" height="9.07" fill="#86a7fc"/>
<rect x="389.40" y="851.93" width="9.72" height="9.07" fill="#86a7fc"/>
<rect x="398.82" y="851.93" width="9.72" height="9.07" fill="#86a7fc"/>
<rect x="408.24" y="851.93" width="9.72" height="9.07" fill="#84a6fc"/>
<rect x="417.67" y="851.93" width="9.72" height="9.07" fill="#84a6fc"/>
<rect x="427.09" y="851.93" width="9.72" height="9.07" fill="#84a6fc"/>
<rect x="436.52" y="851.93" width="9.72" height="9.07" fill="#84a6fc"/>
<rect x="445.94" y="851.93" width="9.72" height="9.07" fill="#83a5fc"/>
<rect x="455.37" y="851.93" width="9.72" height="9.07" fill="#83a5fc"/>
<rect x="464.79" y="851.93" width="9.72" height="9.07" fill="#83a5fc"/>
<rect x="474.22" y="851.93" width="9.72" height="9.07" fill="#83a5fc"/>
<rect x="483.64" y="851.93" width="9.72" height="9.07" fill="#82a3fb"/>
<rect x="493.07" y="851.93" width="9.72" height="9.07" fill="#82a3fb"/>
<rect x="502.49" y="851.93" width="9.72" height="9.07" fill="#82a3fb"/>
<rect x="511.91" y="851.93" width="9.72" height="9.07" fill="#82a3fb"/>
<rect x="521.34" y="851.93" width="9.72" height="9.07" fill="#82a3fc"/>
<rect x="530.76" y="851.93" width="9.72" height="9.07" fill="#81a2fb"/>
<rect x="540.19" y="851.93" width="5.01" height="9.07" fill="#81a2fb"/>
<rect x="200.91" y="843.16" width="9.72" height="9.07" fill="#9bbaff"/>
<rect x="210.33" y="843.16" width="9.72" height="9.07" fill="#99b9ff"/>
<rect x="219.76" y="843.16" width="9.72" height="9.07" fill="#99b9ff"/>
<rect x="229.18" y="843.16" width="9.72" height="9.07" fill="#98b8ff"/>
<rect x="238.60" y="843.16" width="9.72" height="9.07" fill="#97b7fe"/>
<rect x="248.03" y="843.16" width="9.72" height="9.07" fill="#97b7fe"/>
<rect x="257.45" y="843.16" width="9.72" height="9.07" fill="#95b5fe"/>
<rect x="266.88" y="843.16" width="9.72" height="9.07" fill="#95b5fe"/>
<rect x="276.30" y="843.16" width="9.72" height="9.07" fill="#94b4fe"/>
<rect x="285.73" y="843.16" width="9.72" height="9.07" fill="#94b4fe"/>
<rect x="295.15" y="843.16" width="9.72" height="9.07" fill="#94b4fe"/>
<rect x="304.58" y="843.16" width="9.72" height="9.07" fill="#93b3fe"/>
<rect x="314.00" y="843.16" width="9.72" height="9.07" fill="#93b3fe"/>
<rect x="323.42" y="843.16" width="9.72" height="9.07" fill="#91b2fe"/>
<rect x="332.85" y="843.16" width="9.72" height="9.07" fill="#91b2fe"/>
<rect x="342.27" y="843.16" width="9.72" height="9.07" fill="#91b2fe"/>
<rect x="351.70" y="843.16" width="9.72" height="9.07" fill="#90b1fe"/>
<rect x="361.12" y="843.16" width="9.72" height="9.07" fill="#90b1fe"/>
<rect x="370.55" y="843.16" width="9.72" height="9.07" fill="#90b1fe"/>
<rect x="379.97" y="843.16" width="9.72" height="9.07" fill="#8fb0fd"/>
<rect x="389.40" y="843.16" width="9.72" height="9.07" fill="#8fb0fe"/>
<rect x="398.82" y="843.16" width="9.72" height="9.07" fill="#8fb0fe"/>
<rect x="408.24" y="843.16" width="9.72" height="9.07" fill="#8daefd"/>
<rect x="417.67" y="843.16" width="9.72" height="9.07" fill="#8daefd"/>
<rect x="427.09" y="843.16" width="9.72" height="9.07" fill="#8daefd"/>
<rect x="436.52" y="843.16" width="9.72" height="9.07" fill="#8daefd"/>
<rect x="445.94" y="843.16" width="9.72" height="9.07" fill="#8cadfd"/>
<rect x="455.37" y="843.16" width="9.72" height="9.07" fill="#8cadfd"/>
<rect x="464.79" y="843.16" width="9.72" height="9.07" fill="#8cadfd"/>
<rect x="474.22" y="843.16" width="9.72" height="9.07" fill="#8cadfd"/>
<rect x="483.64" y="843.16" width="9.72" height="9.07" fill="#8bacfd"/>
<rect x="493.07" y="843.16" width="9.72" height="9.07" fill="#8bacfd"/>
<rect x="502.49" y="843.16" width="9.72" height="9.07" fill="#8bacfd"/>
<rect x="511.91" y="843.16" width="9.72" height="9.07" fill="#8bacfd"/>
<rect x="521.34" y="843.16" width="9.72" height="9.07" fill="#8bacfd"/>
<rect x="530.76" y="843.16" width="9.72" height="9.07" fill="#8aabfd"/>
<rect x="540.19" y="843.16" width="5.01" height="9.07" fill="#8aabfd"/>
<rect x="210.33" y="834.38" width="9.72" height="9.07" fill="#a2c0ff"/>
<rect x="219.76" y="834.38" width="9.72" height="9.07" fill="#a2c0ff"/>
<rect x="229.18" y="834.38" width="9.72" height="9.07" fill="#a1bfff"/>
<rect x="238.60" y="834.38" width="9.72" height="9.07" fill="#a0beff"/>
<rect x="248.03" y="834.38" width="9.72" height="9.07" fill="#a0beff"/>
<rect x="257.45" y="834.38" width="9.72" height="9.07" fill="#9ebdff"/>
<rect x="266.88" y="834.38" width="9.72" height="9.07" fill="#9fbdff"/>
<rect x="276.30" y="834.38" width="9.72" height="9.07" fill="#9dbcff"/>
<rect x="285.73" y="834.38" width="9.72" height="9.07" fill="#9dbcff"/>
<rect x="295.15" y="834.38" width="9.72" height="9.07" fill="#9dbcff"/>
<rect x="304.58" y="834.38" width="9.72" height="9.07" fill="#9cbbff"/>
<rect x="314.00" y="834.38" width="9.72" height="9.07" fill="#9cbbff"/>
<rect x="323.42" y="834.38" width="9.72" height="9.07" fill="#9bbaff"/>
<rect x="332.85" y="834.38" width="9.72" height="9.07" fill="#9bbaff"/>
<rect x="342.27" y="834.38" width="9.72" height="9.07" fill="#9bbaff"/>
<rect x="351.70" y="834.38" width="9.72" height="9.07" fill="#99b9ff"/>
<rect x="361.12" y="834.38" width="9.72" height="9.07" fill="#99b9ff"/>
<rect x="370.55" y="834.38" width="9.72" height="9.07" fill="#99b9ff"/>
<rect x="379.97" y="834.38" width="9.72" height="9.07" fill="#98b8ff"/>
<rect x="389.40" y="834.38" width="9.72" height="9.07" fill="#98b8ff"/>
<rect x="398.82" y="834.38" width="9.72" height="9.07" fill="#98b8ff"/>
<rect x="408.24" y="834.38" width="9.72" height="9.07" fill="#97b7fe"/>
<rect x="417.67" y="834.38" width="9.72" height="9.07" fill="#97b7fe"/>
<rect x="427.09" y="834.38" width="9.72" height="9.07" fill="#97b7fe"/>
<rect x="436.52" y="834.38" width="9.72" height="9.07" fill="#97b7fe"/>
<rect x="445.94" y="834.38" width="9.72" height="9.07" fill="#95b5fe"/>
<rect x="455.37" y="834.38" width="9.72" height="9.07" fill="#95b5fe"/>
<rect x="464.79" y="834.38" width="9.72" height="9.07" fill="#95b5fe"/>
<rect x="474.22" y="834.38" width="9.72" height="9.07" fill="#95b5fe"/>
<rect x="483.64" y="834.38" width="9.72" height="9.07" fill="#94b4fe"/>
<rect x="493.07" y="834.38" width="9.72" height="9.07" fill="#94b4fe"/>
<rect x="502.49" y="834.38" width="9.72" height="9.07" fill="#94b4fe"/>
<rect x="511.91" y="834.38" width="9.72" height="9.07" fill="#94b4fe"/>
<rect x="521.34" y="834.38" width="9.72" height="9.07" fill="#94b4fe"/>
<rect x="530.76" y="834.38" width="9.72" height="9.07" fill="#93b3fe"/>
<rect x="540.19" y="834.38" width="5.01" height="9.07" fill="#93b3fe"/>
<rect x="219.76" y="825.61" width="9.72" height="9.07" fill="#acc7fd"/>
<rect x="229.18" y="825.61" width="9.72" height="9.07" fill="#aac6fe"/>
<rect x="238.60" y="825.61" width="9.72" height="9.07" fill="#a9c5fe"/>
<rect x="248.03" y="825.61" width="9.72" height="9.07" fill="#a9c5fe"/>
<rect x="257.45" y="825.61" width="9.72" height="9.07" fill="#a8c4fe"/>
<rect x="266.88" y="825.61" width="9.72" height="9.07" fill="#a8c4fe"/>
<rect x="276.30" y="825.61" width="9.72" height="9.07" fill="#a6c3fe"/>
<rect x="285.73" y="825.61" width="9.72" height="9.07" fill="#a6c3fe"/>
<rect x="295.15" y="825.61" width="9.72" height="9.07" fill="#a6c3fe"/>
<rect x="304.58" y="825.61" width="9.72" height="9.07" fill="#a5c2ff"/>
<rect x="314.00" y="825.61" width="9.72" height="9.07" fill="#a5c2ff"/>
<rect x="323.42" y="825.61" width="9.72" height="9.07" fill="#a4c1ff"/>
<rect x="332.85" y="825.61" width="9.72" height="9.07" fill="#a4c1ff"/>
<rect x="342.27" y="825.61" width="9.72" height="9.07" fill="#a4c1ff"/>
<rect x="351.70" y="825.61" width="9.72" height="9.07" fill="#a2c0ff"/>
<rect x="361.12" y="825.61" width="9.72" height="9.07" fill="#a2c0ff"/>
<rect x="370.55" y="825.61" width="9.72" height="9.07" fill="#a2c0ff"/>
<rect x="379.97" y="825.61" width="9.72" height="9.07" fill="#a1bfff"/>
<rect x="389.40" y="825.61" width="9.72" height="9.07" fill="#a1bfff"/>
<rect x="398.82" y="825.61" width="9.72" height="9.07" fill="#a1bfff"/>
<rect x="408.24" y="825.61" width="9.72" height="9.07" fill="#a0beff"/>
<rect x="417.67" y="825.61" width="9.72" height="9.07" fill="#a0beff"/>
<rect x="427.09" y="825.61" width="9.72" height="9.07" fill="#a0beff"/>
<rect x="436.52" y="825.61" width="9.72" height="9.07" fill="#a0beff"/>
<rect x="445.94" y="825.61" width="9.72" height="9.07" fill="#9ebdff"/>
<rect x="455.37" y="825.61" width="9.72" height="9.07" fill="#9fbdff"/>
<rect x="464.79" y="825.61" width="9.72" height="9.07" fill="#9fbdff"/>
<rect x="474.22" y="825.61" width="9.72" height="9.07" fill="#9fbdff"/>
<rect x="483.64" y="825.61" width="9.72" height="9.07" fill="#9dbcff"/>
<rect x="493.07" y="825.61" width="9.72" height="9.07" fill="#9dbcff"/>
<rect x="502.49" y="825.61" width="9.72" height="9.07" fill="#9dbcff"/>
<rect x="511.91" y="825.61" width="9.72" height="9.07" fill="#9dbcff"/>
<rect x="521.34" y="825.61" width="9.72" height="9.07" fill="#9dbcff"/>
<rect x="530.76" y="825.61" width="9.72" height="9.07" fill="#9cbbff"/>
<rect x="540.19" y="825.61" width="5.01" height="9.07" fill="#9cbbff"/>
<rect x="229.18" y="816.84" width="9.72" height="9.07" fill="#b3ccfc"/>
<rect x="238.60" y="816.84" width="9.72" height="9.07" fill="#b3ccfc"/>
<rect x="248.03" y="816.84" width="9.72" height="9.07" fill="#b2cbfc"/>
<rect x="257.45" y="816.84" width="9.72" height="9.07" fill="#b1cbfc"/>
<rect x="266.88" y="816.84" width="9.72" height="9.07" fill="#b1cbfc"/>
<rect x="276.30" y="816.84" width="9.72" height="9.07" fill="#afcafd"/>
<rect x="285.73" y="816.84" width="9.72" height="9.07" fill="#afcafd"/>
<rect x="295.15" y="816.84" width="9.72" height="9.07" fill="#afcafd"/>
<rect x="304.58" y="816.84" width="9.72" height="9.07" fill="#aec9fd"/>
<rect x="314.00" y="816.84" width="9.72" height="9.07" fill="#aec9fd"/>
<rect x="323.42" y="816.84" width="9.72" height="9.07" fill="#adc8fd"/>
<rect x="332.85" y="816.84" width="9.72" height="9.07" fill="#adc8fd"/>
<rect x="342.27" y="816.84" width="9.72" height="9.07" fill="#adc8fd"/>
<rect x="351.70" y="816.84" width="9.72" height="9.07" fill="#abc7fd"/>
<rect x="361.12" y="816.84" width="9.72" height="9.07" fill="#acc7fd"/>
<rect x="370.55" y="816.84" width="9.72" height="9.07" fill="#acc7fd"/>
<rect x="379.97" y="816.84" width="9.72" height="9.07" fill="#aac6fe"/>
<rect x="389.40" y="816.84" width="9.72" height="9.07" fill="#aac6fe"/>
<rect x="398.82" y="816.84" width="9.72" height="9.07" fill="#aac6fe"/>
<rect x="408.24" y="816.84" width="9.72" height="9.07" fill="#a9c5fe"/>
<rect x="417.67" y="816.84" width="9.72" height="9.07" fill="#a9c5fe"/>
<rect x="427.09" y="816.84" width="9.72" height="9.07" fill="#a9c5fe"/>
<rect x="436.52" y="816.84" width="9.72" height="9.07" fill="#a9c5fe"/>
<rect x="445.94" y="816.84" width="9.72" height="9.07" fill="#a8c4fe"/>
<rect x="455.37" y="816.84" width="9.72" height="9.07" fill="#a8c4fe"/>
<rect x="464.79" y="816.84" width="9.72" height="9.07" fill="#a8c4fe"/>
<rect x="474.22" y="816.84" width="9.72" height="9.07" fill="#a8c4fe"/>
<rect x="483.64" y="816.84" width="9.72" height="9.07" fill="#a6c3fe"/>
<rect x="493.07" y="816.84" width="9.72" height="9.07" fill="#a6c3fe"/>
<rect x="502.49" y="816.84" width="9.72" height="9.07" fill="#a6c3fe"/>
<rect x="511.91" y="816.84" width="9.72" height="9.07" fill="#a6c3fe"/>
<rect x="521.34" y="816.84" width="9.72" height="9.07" fill="#a6c3fe"/>
<rect x="530.76" y="816.84" width="9.72" height="9.07" fill="#a5c2ff"/>
<rect x="540.19" y="816.84" width="5.01" height="9.07" fill="#a5c2ff"/>
<rect x="238.60" y="808.06" width="9.72" height="9.07" fill="#bcd1f8"/>
<rect x="248.03" y="808.06" width="9.72" height="9.07" fill="#bbd1f9"/>
<rect x="257.45" y="808.06" width="9.72" height="9.07" fill="#b9d0f9"/>
<rect x="266.88" y="808.06" width="9.72" height="9.07" fill="#b9d0f9"/>
<rect x="276.30" y="808.06" width="9.72" height="9.07" fill="#b8cffa"/>
<rect x="285.73" y="808.06" width="9.72" height="9.07" fill="#b8cffa"/>
<rect x="295.15" y="808.06" width="9.72" height="9.07" fill="#b8cffa"/>
<rect x="304.58" y="808.06" width="9.72" height="9.07" fill="#b7cffa"/>
<rect x="314.00" y="808.06" width="9.72" height="9.07" fill="#b7cffa"/>
<rect x="323.42" y="808.06" width="9.72" height="9.07" fill="#b6cefb"/>
<rect x="332.85" y="808.06" width="9.72" height="9.07" fill="#b6cefb"/>
<rect x="342.27" y="808.06" width="9.72" height="9.07" fill="#b6cefb"/>
<rect x="351.70" y="808.06" width="9.72" height="9.07" fill="#b4cdfb"/>
<rect x="361.12" y="808.06" width="9.72" height="9.07" fill="#b4cdfb"/>
<rect x="370.55" y="808.06" width="9.72" height="9.07" fill="#b4cdfb"/>
<rect x="379.97" y="808.06" width="9.72" height="9.07" fill="#b3ccfc"/>
<rect x="389.40" y="808.06" width="9.72" height="9.07" fill="#b3ccfc"/>
<rect x="398.82" y="808.06" width="9.72" height="9.07" fill="#b3ccfc"/>
<rect x="408.24" y="808.06" width="9.72" height="9.07" fill="#b3ccfc"/>
<rect x="417.67" y="808.06" width="9.72" height="9.07" fill="#b2cbfc"/>
<rect x="427.09" y="808.06" width="9.72" height="9.07" fill="#b2cbfc"/>
<rect x="436.52" y="808.06" width="9.72" height="9.07" fill="#b2cbfc"/>
<rect x="445.94" y="808.06" width="9.72" height="9.07" fill="#b1cbfc"/>
<rect x="455.37" y="808.06" width="9.72" height="9.07" fill="#b1cbfc"/>
<rect x="464.79" y="808.06" width="9.72" height="9.07" fill="#b1cbfc"/>
<rect x="474.22" y="808.06" width="9.72" height="9.07" fill="#b1cbfc"/>
<rect x="483.64" y="808.06" width="9.72" height="9.07" fill="#afcafd"/>
<rect x="493.07" y="808.06" width="9.72" height="9.07" fill="#afcafd"/>
<rect x="502.49" y="808.06" width="9.72" height="9.07" fill="#afcafd"/>
<rect x="511.91" y="808.06" width="9.72" height="9.07" fill="#afcafd"/>
<rect x="521.34" y="808.06" width="9.72" height="9.07" fill="#afcafd"/>
<rect x="530.76" y="808.06" width="9.72" height="9.07" fill="#aec9fd"/>
<rect x="540.19" y="808.06" width="5.01" height="9.07" fill="#aec9fd"/>
<rect x="248.03" y="799.29" width="9.72" height="9.07" fill="#c3d5f4"/>
<rect x="257.45" y="799.29" width="9.72" height="9.07" fill="#c2d4f5"/>
<rect x="266.88" y="799.29" width="9.72" height="9.07" fill="#c2d5f5"/>
<rect x="276.30" y="799.29" width="9.72" height="9.07" fill="#c1d4f6"/>
<rect x="285.73" y="799.29" width="9.72" height="9.07" fill="#c1d4f6"/>
<rect x="295.15" y="799.29" width="9.72" height="9.07" fill="#c1d4f6"/>
<rect x="304.58" y="799.29" width="9.72" height="9.07" fill="#bfd3f6"/>
<rect x="314.00" y="799.29" width="9.72" height="9.07" fill="#bfd3f6"/>
<rect x="323.42" y="799.29" width="9.72" height="9.07" fill="#bed3f7"/>
<rect x="332.85" y="799.29" width="9.72" height="9.07" fill="#bed3f7"/>
<rect x="342.27" y="799.29" width="9.72" height="9.07" fill="#bed3f7"/>
<rect x="351.70" y="799.29" width="9.72" height="9.07" fill="#bdd2f8"/>
<rect x="361.12" y="799.29" width="9.72" height="9.07" fill="#bdd2f8"/>
<rect x="370.55" y="799.29" width="9.72" height="9.07" fill="#bdd2f8"/>
<rect x="379.97" y="799.29" width="9.72" height="9.07" fill="#bcd1f8"/>
<rect x="389.40" y="799.29" width="9.72" height="9.07" fill="#bcd1f8"/>
<rect x="398.82" y="799.29" width="9.72" height="9.07" fill="#bcd1f8"/>
<rect x="408.24" y="799.29" width="9.72" height="9.07" fill="#bcd1f8"/>
<rect x="417.67" y="799.29" width="9.72" height="9.07" fill="#bbd1f9"/>
<rect x="427.09" y="799.29" width="9.72" height="9.07" fill="#bbd1f9"/>
<rect x="436.52" y="799.29" width="9.72" height="9.07" fill="#bbd1f9"/>
<rect x="445.94" y="799.29" width="9.72" height="9.07" fill="#b9d0f9"/>
<rect x="455.37" y="799.29" width="9.72" height="9.07" fill="#b9d0f9"/>
<rect x="464.79" y="799.29" width="9.72" height="9.07" fill="#b9d0f9"/>
<rect x="474.22" y="799.29" width="9.72" height="9.07" fill="#b9d0f9"/>
<rect x="483.64" y="799.29" width="9.72" height="9.07" fill="#b8cffa"/>
<rect x="493.07" y="799.29" width="9.72" height="9.07" fill="#b8cffa"/>
<rect x="502.49" y="799.29" width="9.72" height="9.07" fill="#b8cffa"/>
<rect x="511.91" y="799.29" width="9.72" height="9.07" fill="#b8cffa"/>
<rect x="521.34" y="799.29" width="9.72" height="9.07" fill="#b8cffa"/>
<rect x="530.76" y="799.29" width="9.72" height="9.07" fill="#b7cffa"/>
<rect x="540.19" y="799.29" width="5.01" height="9.07" fill="#b7cffa"/>
<rect x="257.45" y="790.52" width="9.72" height="9.07" fill="#cad8f0"/>
<rect x="266.88" y="790.52" width="9.72" height="9.07" fill="#cad8f0"/>
<rect x="276.30" y="790.52" width="9.72" height="9.07" fill="#c9d8f0"/>
<rect x="285.73" y="790.52" width="9.72" height="9.07" fill="#c9d8f0"/>
<rect x="295.15" y="790.52" width="9.72" height="9.07" fill="#c9d8f0"/>
<rect x="304.58" y="790.52" width="9.72" height="9.07" fill="#c8d7f1"/>
<rect x="314.00" y="790.52" width="9.72" height="9.07" fill="#c8d7f1"/>
<rect x="323.42" y="790.52" width="9.72" height="9.07" fill="#c6d7f2"/>
<rect x="332.85" y="790.52" width="9.72" height="9.07" fill="#c6d7f2"/>
<rect x="342.27" y="790.52" width="9.72" height="9.07" fill="#c6d7f2"/>
<rect x="351.70" y="790.52" width="9.72" height="9.07" fill="#c5d6f3"/>
<rect x="361.12" y="790.52" width="9.72" height="9.07" fill="#c5d6f3"/>
<rect x="370.55" y="790.52" width="9.72" height="9.07" fill="#c5d6f3"/>
<rect x="379.97" y="790.52" width="9.72" height="9.07" fill="#c4d6f4"/>
<rect x="389.40" y="790.52" width="9.72" height="9.07" fill="#c4d6f4"/>
<rect x="398.82" y="790.52" width="9.72" height="9.07" fill="#c4d6f4"/>
<rect x="408.24" y="790.52" width="9.72" height="9.07" fill="#c4d6f4"/>
<rect x="417.67" y="790.52" width="9.72" height="9.07" fill="#c3d5f4"/>
<rect x="427.09" y="790.52" width="9.72" height="9.07" fill="#c3d5f4"/>
<rect x="436.52" y="790.52" width="9.72" height="9.07" fill="#c3d5f4"/>
<rect x="445.94" y="790.52" width="9.72" height="9.07" fill="#c2d4f5"/>
<rect x="455.37" y="790.52" width="9.72" height="9.07" fill="#c2d5f5"/>
<rect x="464.79" y="790.52" width="9.72" height="9.07" fill="#c2d5f5"/>
<rect x="474.22" y="790.52" width="9.72" height="9.07" fill="#c2d5f5"/>
<rect x="483.64" y="790.52" width="9.72" height="9.07" fill="#c1d4f6"/>
<rect x="493.07" y="790.52" width="9.72" height="9.07" fill="#c1d4f6"/>
<rect x="502.49" y="790.52" width="9.72" height="9.07" fill="#c1d4f6"/>
<rect x="511.91" y="790.52" width="9.72" height="9.07" fill="#c1d4f6"/>
<rect x="521.34" y="790.52" width="9.72" height="9.07" fill="#c1d4f6"/>
<rect x="530.76" y="790.52" width="9.72" height="9.07" fill="#bfd3f6"/>
<rect x="540.19" y="790.52" width="5.01" height="9.07" fill="#bfd3f6"/>
<rect x="266.88" y="781.74" width="9.72" height="9.07" fill="#d1dbe9"/>
<rect x="276.30" y="781.74" width="9.72" height="9.07" fill="#d0daea"/>
<rect x="285.73" y="781.74" width="9.72" height="9.07" fill="#d0daea"/>
<rect x="295.15" y="781.74" width="9.72" height="9.07" fill="#d0daea"/>
<rect x="304.58" y="781.74" width="9.72" height="9.07" fill="#cfdaeb"/>
<rect x="314.00" y="781.74" width="9.72" height="9.07" fill="#cfdaeb"/>
<rect x="323.42" y="781.74" width="9.72" height="9.07" fill="#cedaec"/>
<rect x="332.85" y="781.74" width="9.72" height="9.07" fill="#cedaec"/>
<rect x="342.27" y="781.74" width="9.72" height="9.07" fill="#cedaec"/>
<rect x="351.70" y="781.74" width="9.72" height="9.07" fill="#cdd9ed"/>
<rect x="361.12" y="781.74" width="9.72" height="9.07" fill="#cdd9ed"/>
<rect x="370.55" y="781.74" width="9.72" height="9.07" fill="#cdd9ed"/>
<rect x="379.97" y="781.74" width="9.72" height="9.07" fill="#ccd9ee"/>
<rect x="389.40" y="781.74" width="9.72" height="9.07" fill="#ccd9ee"/>
<rect x="398.82" y="781.74" width="9.72" height="9.07" fill="#ccd9ee"/>
<rect x="408.24" y="781.74" width="9.72" height="9.07" fill="#ccd9ee"/>
<rect x="417.67" y="781.74" width="9.72" height="9.07" fill="#cbd8ef"/>
<rect x="427.09" y="781.74" width="9.72" height="9.07" fill="#cbd8ef"/>
<rect x="436.52" y="781.74" width="9.72" height="9.07" fill="#cbd8ef"/>
<rect x="445.94" y="781.74" width="9.72" height="9.07" fill="#cad8f0"/>
<rect x="455.37" y="781.74" width="9.72" height="9.07" fill="#cad8f0"/>
<rect x="464.79" y="781.74" width="9.72" height="9.07" fill="#cad8f0"/>
<rect x="474.22" y="781.74" width="9.72" height="9.07" fill="#cad8f0"/>
<rect x="483.64" y="781.74" width="9.72" height="9.07" fill="#c9d8f0"/>
<rect x="493.07" y="781.74" width="9.72" height="9.07" fill="#c9d8f0"/>
<rect x="502.49" y="781.74" width="9.72" height="9.07" fill="#c9d8f0"/>
<rect x="511.91" y="781.74" width="9.72" height="9.07" fill="#c9d8f0"/>
<rect x="521.34" y="781.74" width="9.72" height="9.07" fill="#c9d8f0"/>
<rect x="530.76" y="781.74" width="9.72" height="9.07" fill="#c7d7f1"/>
<rect x="540.19" y="781.74" width="5.01" height="9.07" fill="#c8d7f1"/>
<rect x="276.30" y="772.97" width="9.72" height="9.07" fill="#d8dce2"/>
<rect x="285.73" y="772.97" width="9.72" height="9.07" fill="#d7dce3"/>
<rect x="295.15" y="772.97" width="9.72" height="9.07" fill="#d7dce3"/>
<rect x="304.58" y="772.97" width="9.72" height="9.07" fill="#d6dce4"/>
<rect x="314.00" y="772.97" width="9.72" height="9.07" fill="#d6dce4"/>
<rect x="323.42" y="772.97" width="9.72" height="9.07" fill="#d5dce5"/>
<rect x="332.85" y="772.97" width="9.72" height="9.07" fill="#d5dce5"/>
<rect x="342.27" y="772.97" width="9.72" height="9.07" fill="#d5dce5"/>
<rect x="351.70" y="772.97" width="9.72" height="9.07" fill="#d4dbe6"/>
<rect x="361.12" y="772.97" width="9.72" height="9.07" fill="#d4dbe6"/>
<rect x="370.55" y="772.97" width="9.72" height="9.07" fill="#d4dbe6"/>
<rect x="379.97" y="772.97" width="9.72" height="9.07" fill="#d3dbe7"/>
<rect x="389.40" y="772.97" width="9.72" height="9.07" fill="#d3dbe7"/>
<rect x="398.82" y="772.97" width="9.72" height="9.07" fill="#d3dbe7"/>
<rect x="408.24" y="772.97" width="9.72" height="9.07" fill="#d3dbe7"/>
<rect x="417.67" y="772.97" width="9.72" height="9.07" fill="#d2dbe8"/>
<rect x="427.09" y="772.97" width="9.72" height="9.07" fill="#d2dbe8"/>
<rect x="436.52" y="772.97" width="9.72" height="9.07" fill="#d2dbe8"/>
<rect x="445.94" y="772.97" width="9.72" height="9.07" fill="#d1dbe9"/>
<rect x="455.37" y="772.97" width="9.72" height="9.07" fill="#d1dbe9"/>
<rect x="464.79" y="772.97" width="9.72" height="9.07" fill="#d1dbe9"/>
<rect x="474.22" y="772.97" width="9.72" height="9.07" fill="#d1dbe9"/>
<rect x="483.64" y="772.97" width="9.72" height="9.07" fill="#d0daea"/>
<rect x="493.07" y="772.97" width="9.72" height="9.07" fill="#d0daea"/>
<rect x="502.49" y="772.97" width="9.72" height="9.07" fill="#d0daea"/>
<rect x="511.91" y="772.97" width="9.72" height="9.07" fill="#d0daea"/>
<rect x="521.34" y="772.97" width="9.72" height="9.07" fill="#d0daea"/>
<rect x="530.76" y="772.97" width="9.72" height="9.07" fill="#cfdaeb"/>
<rect x="540.19" y="772.97" width="5.01" height="9.07" fill="#cfdaeb"/>
<rect x="285.73" y="764.20" width="9.72" height="9.07" fill="#dedcda"/>
<rect x="295.15" y="764.20" width="9.72" height="9.07" fill="#dedcda"/>
<rect x="304.58" y="764.20" width="9.72" height="9.07" fill="#dddcdc"/>
<rect x="314.00" y="764.20" width="9.72" height="9.07" fill="#dddcdc"/>
<rect x="323.42" y="764.20" width="9.72" height="9.07" fill="#dcdddd"/>
<rect x="332.85" y="764.20" width="9.72" height="9.07" fill="#dcdddd"/>
<rect x="342.27" y="764.20" width="9.72" height="9.07" fill="#dcdddd"/>
<rect x="351.70" y="764.20" width="9.72" height="9.07" fill="#dbdcde"/>
<rect x="361.12" y="764.20" width="9.72" height="9.07" fill="#dbdcde"/>
<rect x="370.55" y="764.20" width="9.72" height="9.07" fill="#dbdcde"/>
<rect x="379.97" y="764.20" width="9.72" height="9.07" fill="#dadce0"/>
<rect x="389.40" y="764.20" width="9.72" height="9.07" fill="#dadce0"/>
<rect x="398.82" y="764.20" width="9.72" height="9.07" fill="#dadce0"/>
<rect x="408.24" y="764.20" width="9.72" height="9.07" fill="#dadce0"/>
<rect x="417.67" y="764.20" width="9.72" height="9.07" fill="#d9dce1"/>
<rect x="427.09" y="764.20" width="9.72" height="9.07" fill="#d9dce1"/>
<rect x="436.52" y="764.20" width="9.72" height="9.07" fill="#d9dce1"/>
<rect x="445.94" y="764.20" width="9.72" height="9.07" fill="#d8dce2"/>
<rect x="455.37" y="764.20" width="9.72" height="9.07" fill="#d8dce2"/>
<rect x="464.79" y="764.20" width="9.72" height="9.07" fill="#d8dce2"/>
<rect x="474.22" y="764.20" width="9.72" height="9.07" fill="#d8dce2"/>
<rect x="483.64" y="764.20" width="9.72" height="9.07" fill="#d8dce2"/>
<rect x="493.07" y="764.20" width="9.72" height="9.07" fill="#d7dce3"/>
<rect x="502.49" y="764.20" width="9.72" height="9.07" fill="#d7dce3"/>
<rect x="511.91" y="764.20" width="9.72" height="9.07" fill="#d7dce3"/>
<rect x="521.34" y="764.20" width="9.72" height="9.07" fill="#d7dce3"/>
<rect x="530.76" y="764.20" width="9.72" height="9.07" fill="#d6dce4"/>
<rect x="540.19" y="764.20" width="5.01" height="9.07" fill="#d6dce4"/>
<rect x="295.15" y="755.42" width="9.72" height="9.07" fill="#e4d7d0"/>
<rect x="304.58" y="755.42" width="9.72" height="9.07" fill="#e3d8d2"/>
<rect x="314.00" y="755.42" width="9.72" height="9.07" fill="#e3d8d2"/>
<rect x="323.42" y="755.42" width="9.72" height="9.07" fill="#e2d9d3"/>
<rect x="332.85" y="755.42" width="9.72" height="9.07" fill="#e2d9d3"/>
<rect x="342.27" y="755.42" width="9.72" height="9.07" fill="#e2d9d3"/>
<rect x="351.70" y="755.42" width="9.72" height="9.07" fill="#e1d9d5"/>
<rect x="361.12" y="755.42" width="9.72" height="9.07" fill="#e2d9d5"/>
<rect x="370.55" y="755.42" width="9.72" height="9.07" fill="#e2d9d5"/>
<rect x="379.97" y="755.42" width="9.72" height="9.07" fill="#e1dad6"/>
<rect x="389.40" y="755.42" width="9.72" height="9.07" fill="#e1dad6"/>
<rect x="398.82" y="755.42" width="9.72" height="9.07" fill="#e1dad6"/>
<rect x="408.24" y="755.42" width="9.72" height="9.07" fill="#e1dad6"/>
<rect x="417.67" y="755.42" width="9.72" height="9.07" fill="#e0dbd8"/>
<rect x="427.09" y="755.42" width="9.72" height="9.07" fill="#e0dbd8"/>
<rect x="436.52" y="755.42" width="9.72" height="9.07" fill="#e0dbd8"/>
<rect x="445.94" y="755.42" width="9.72" height="9.07" fill="#dfdbd9"/>
<rect x="455.37" y="755.42" width="9.72" height="9.07" fill="#dfdbd9"/>
<rect x="464.79" y="755.42" width="9.72" height="9.07" fill="#dfdbd9"/>
<rect x="474.22" y="755.42" width="9.72" height="9.07" fill="#dfdbd9"/>
<rect x="483.64" y="755.42" width="9.72" height="9.07" fill="#dfdbd9"/>
<rect x="493.07" y="755.42" width="9.72" height="9.07" fill="#dedcda"/>
<rect x="502.49" y="755.42" width="9.72" height="9.07" fill="#dedcda"/>
<rect x="511.91" y="755.42" width="9.72" height="9.07" fill="#dedcda"/>
<rect x="521.34" y="755.42" width="9.72" height="9.07" fill="#dedcda"/>
<rect x="530.76" y="755.42" width="9.72" height="9.07" fill="#dddcdc"/>
<rect x="540.19" y="755.42" width="5.01" height="9.07" fill="#dddcdc"/>
<rect x="304.58" y="746.65" width="9.72" height="9.07" fill="#e8d3c7"/>
<rect x="314.00" y="746.65" width="9.72" height="9.07" fill="#e8d3c7"/>
<rect x="323.42" y="746.65" width="9.72" height="9.07" fill="#e7d4c8"/>
<rect x="332.85" y="746.65" width="9.72" height="9.07" fill="#e7d4c8"/>
<rect x="342.27" y="746.65" width="9.72" height="9.07" fill="#e8d4c8"/>
<rect x="351.70" y="746.65" width="9.72" height="9.07" fill="#e7d4ca"/>
<rect x="361.12" y="746.65" width="9.72" height="9.07" fill="#e7d4ca"/>
<rect x="370.55" y="746.65" width="9.72" height="9.07" fill="#e7d4ca"/>
<rect x="379.97" y="746.65" width="9.72" height="9.07" fill="#e6d5cc"/>
<rect x="389.40" y="746.65" width="9.72" height="9.07" fill="#e6d5cc"/>
<rect x="398.82" y="746.65" width="9.72" height="9.07" fill="#e6d5cc"/>
<rect x="408.24" y="746.65" width="9.72" height="9.07" fill="#e6d5cc"/>
<rect x="417.67" y="746.65" width="9.72" height="9.07" fill="#e5d6cd"/>
<rect x="427.09" y="746.65" width="9.72" height="9.07" fill="#e5d6cd"/>
<rect x="436.52" y="746.65" width="9.72" height="9.07" fill="#e5d6cd"/>
<rect x="445.94" y="746.65" width="9.72" height="9.07" fill="#e5d7cf"/>
<rect x="455.37" y="746.65" width="9.72" height="9.07" fill="#e5d7cf"/>
<rect x="464.79" y="746.65" width="9.72" height="9.07" fill="#e5d7cf"/>
<rect x="474.22" y="746.65" width="9.72" height="9.07" fill="#e5d7cf"/>
<rect x="483.64" y="746.65" width="9.72" height="9.07" fill="#e5d7cf"/>
<rect x="493.07" y="746.65" width="9.72" height="9.07" fill="#e4d7d0"/>
<rect x="502.49" y="746.65" width="9.72" height="9.07" fill="#e4d7d0"/>
<rect x="511.91" y="746.65" width="9.72" height="9.07" fill="#e4d7d0"/>
<rect x="521.34" y="746.65" width="9.72" height="9.07" fill="#e4d7d0"/>
<rect x="530.76" y="746.65" width="9.72" height="9.07" fill="#e3d8d2"/>
<rect x="540.19" y="746.65" width="5.01" height="9.07" fill="#e3d8d2"/>
<rect x="314.00" y="737.88" width="9.72" height="9.07" fill="#eccdbc"/>
<rect x="323.42" y="737.88" width="9.72" height="9.07" fill="#ebcdbe"/>
<rect x="332.85" y="737.88" width="9.72" height="9.07" fill="#ebcebe"/>
<rect x="342.27" y="737.88" width="9.72" height="9.07" fill="#ebcebe"/>
<rect x="351.70" y="737.88" width="9.72" height="9.07" fill="#ebcebf"/>
<rect x="361.12" y="737.88" width="9.72" height="9.07" fill="#ebcebf"/>
<rect x="370.55" y="737.88" width="9.72" height="9.07" fill="#ebcebf"/>
<rect x="379.97" y="737.88" width="9.72" height="9.07" fill="#eacfc1"/>
<rect x="389.40" y="737.88" width="9.72" height="9.07" fill="#eacfc1"/>
<rect x="398.82" y="737.88" width="9.72" height="9.07" fill="#eacfc1"/>
<rect x="408.24" y="737.88" width="9.72" height="9.07" fill="#ebcfc1"/>
<rect x="417.67" y="737.88" width="9.72" height="9.07" fill="#ead0c2"/>
<rect x="427.09" y="737.88" width="9.72" height="9.07" fill="#ead0c2"/>
<rect x="436.52" y="737.88" width="9.72" height="9.07" fill="#ead0c2"/>
<rect x="445.94" y="737.88" width="9.72" height="9.07" fill="#e9d1c4"/>
<rect x="455.37" y="737.88" width="9.72" height="9.07" fill="#e9d1c4"/>
<rect x="464.79" y="737.88" width="9.72" height="9.07" fill="#e9d1c4"/>
<rect x="474.22" y="737.88" width="9.72" height="9.07" fill="#e9d1c4"/>
<rect x="483.64" y="737.88" width="9.72" height="9.07" fill="#ead1c4"/>
<rect x="493.07" y="737.88" width="9.72" height="9.07" fill="#e9d2c5"/>
<rect x="502.49" y="737.88" width="9.72" height="9.07" fill="#e9d2c5"/>
<rect x="511.91" y="737.88" width="9.72" height="9.07" fill="#e9d2c5"/>
<rect x="521.34" y="737.88" width="9.72" height="9.07" fill="#e9d2c5"/>
<rect x="530.76" y="737.88" width="9.72" height="9.07" fill="#e8d3c7"/>
<rect x="540.19" y="737.88" width="5.01" height="9.07" fill="#e8d3c7"/>
<rect x="323.42" y="729.10" width="9.72" height="9.07" fill="#eec6b2"/>
<rect x="332.85" y="729.10" width="9.72" height="9.07" fill="#eec6b2"/>
<rect x="342.27" y="729.10" width="9.72" height="9.07" fill="#eec7b2"/>
<rect x="351.70" y="729.10" width="9.72" height="9.07" fill="#eec8b4"/>
<rect x="361.12" y="729.10" width="9.72" height="9.07" fill="#eec8b4"/>
<rect x="370.55" y="729.10" width="9.72" height="9.07" fill="#eec8b4"/>
<rect x="379.97" y="729.10" width="9.72" height="9.07" fill="#eec9b6"/>
<rect x="389.40" y="729.10" width="9.72" height="9.07" fill="#eec9b6"/>
<rect x="398.82" y="729.10" width="9.72" height="9.07" fill="#eec9b6"/>
<rect x="408.24" y="729.10" width="9.72" height="9.07" fill="#eec9b6"/>
<rect x="417.67" y="729.10" width="9.72" height="9.07" fill="#edcab7"/>
<rect x="427.09" y="729.10" width="9.72" height="9.07" fill="#edcab7"/>
<rect x="436.52" y="729.10" width="9.72" height="9.07" fill="#edcab7"/>
<rect x="445.94" y="729.10" width="9.72" height="9.07" fill="#edcbb9"/>
<rect x="455.37" y="729.10" width="9.72" height="9.07" fill="#edcbb9"/>
<rect x="464.79" y="729.10" width="9.72" height="9.07" fill="#edcbb9"/>
<rect x="474.22" y="729.10" width="9.72" height="9.07" fill="#edcbb9"/>
<rect x="483.64" y="729.10" width="9.72" height="9.07" fill="#edcbb9"/>
<rect x="493.07" y="729.10" width="9.72" height="9.07" fill="#ecccba"/>
<rect x="502.49" y="729.10" width="9.72" height="9.07" fill="#ecccba"/>
<rect x="511.91" y="729.10" width="9.72" height="9.07" fill="#ecccba"/>
<rect x="521.34" y="729.10" width="9.72" height="9.07" fill="#ecccba"/>
<rect x="530.76" y="729.10" width="9.72" height="9.07" fill="#eccdbc"/>
<rect x="540.19" y="729.10" width="5.01" height="9.07" fill="#eccdbc"/>
<rect x="332.85" y="720.33" width="9.72" height="9.07" fill="#f0bfa7"/>
<rect x="342.27" y="720.33" width="9.72" height="9.07" fill="#f0bfa7"/>
<rect x="351.70" y="720.33" width="9.72" height="9.07" fill="#f0c0a9"/>
<rect x="361.12" y="720.33" width="9.72" height="9.07" fill="#f0c0a9"/>
<rect x="370.55" y="720.33" width="9.72" height="9.07" fill="#f0c0a9"/>
<rect x="379.97" y="720.33" width="9.72" height="9.07" fill="#f0c1aa"/>
<rect x="389.40" y="720.33" width="9.72" height="9.07" fill="#f0c1aa"/>
<rect x="398.82" y="720.33" width="9.72" height="9.07" fill="#f0c1aa"/>
<rect x="408.24" y="720.33" width="9.72" height="9.07" fill="#f0c1aa"/>
<rect x="417.67" y="720.33" width="9.72" height="9.07" fill="#efc2ac"/>
<rect x="427.09" y="720.33" width="9.72" height="9.07" fill="#efc2ac"/>
<rect x="436.52" y="720.33" width="9.72" height="9.07" fill="#efc2ac"/>
<rect x="445.94" y="720.33" width="9.72" height="9.07" fill="#efc3ae"/>
<rect x="455.37" y="720.33" width="9.72" height="9.07" fill="#efc3ae"/>
<rect x="464.79" y="720.33" width="9.72" height="9.07" fill="#efc3ae"/>
<rect x="474.22" y="720.33" width="9.72" height="9.07" fill="#efc3ae"/>
<rect x="483.64" y="720.33" width="9.72" height="9.07" fill="#efc3ae"/>
<rect x="493.07" y="720.33" width="9.72" height="9.07" fill="#efc4af"/>
<rect x="502.49" y="720.33" width="9.72" height="9.07" fill="#efc4af"/>
<rect x="511.91" y="720.33" width="9.72" height="9.07" fill="#efc4af"/>
<rect x="521.34" y="720.33" width="9.72" height="9.07" fill="#efc4af"/>
<rect x="530.76" y="720.33" width="9.72" height="9.07" fill="#eec5b1"/>
<rect x="540.19" y="720.33" width="5.01" height="9.07" fill="#eec5b1"/>
<rect x="342.27" y="711.56" width="9.72" height="9.07" fill="#f0b69c"/>
<rect x="351.70" y="711.56" width="9.72" height="9.07" fill="#f0b79d"/>
<rect x="361.12" y="711.56" width="9.72" height="9.07" fill="#f0b79d"/>
<rect x="370.55" y="711.56" width="9.72" height="9.07" fill="#f0b79d"/>
<rect x="379.97" y="711.56" width="9.72" height="9.07" fill="#f0b89f"/>
<rect x="389.40" y="711.56" width="9.72" height="9.07" fill="#f0b89f"/>
<rect x="398.82" y="711.56" width="9.72" height="9.07" fill="#f0b99f"/>
<rect x="408.24" y="711.56" width="9.72" height="9.07" fill="#f0b99f"/>
<rect x="417.67" y="711.56" width="9.72" height="9.07" fill="#f0baa1"/>
<rect x="427.09" y="711.56" width="9.72" height="9.07" fill="#f0baa1"/>
<rect x="436.52" y="711.56" width="9.72" height="9.07" fill="#f0baa1"/>
<rect x="445.94" y="711.56" width="9.72" height="9.07" fill="#f0bba2"/>
<rect x="455.37" y="711.56" width="9.72" height="9.07" fill="#f0bba2"/>
<rect x="464.79" y="711.56" width="9.72" height="9.07" fill="#f0bba2"/>
<rect x="474.22" y="711.56" width="9.72" height="9.07" fill="#f0bba2"/>
<rect x="483.64" y="711.56" width="9.72" height="9.07" fill="#f0bba2"/>
<rect x="493.07" y="711.56" width="9.72" height="9.07" fill="#f0bca4"/>
<rect x="502.49" y="711.56" width="9.72" height="9.07" fill="#f0bca4"/>
<rect x="511.91" y="711.56" width="9.72" height="9.07" fill="#f0bca4"/>
<rect x="521.34" y="711.56" width="9.72" height="9.07" fill="#f0bca4"/>
<rect x="530.76" y="711.56" width="9.72" height="9.07" fill="#f0bda5"/>
<rect x="540.19" y="711.56" width="5.01" height="9.07" fill="#f0bda6"/>
<rect x="351.70" y="702.78" width="9.72" height="9.07" fill="#f0ae92"/>
<rect x="361.12" y="702.78" width="9.72" height="9.07" fill="#f0ae92"/>
<rect x="370.55" y="702.78" width="9.72" height="9.07" fill="#f0ae92"/>
<rect x="379.97" y="702.78" width="9.72" height="9.07" fill="#f0af94"/>
<rect x="389.40" y="702.78" width="9.72" height="9.07" fill="#f0af94"/>
<rect x="398.82" y="702.78" width="9.72" height="9.07" fill="#f0af94"/>
<rect x="408.24" y="702.78" width="9.72" height="9.07" fill="#f0af94"/>
<rect x="417.67" y="702.78" width="9.72" height="9.07" fill="#f0b095"/>
<rect x="427.09" y="702.78" width="9.72" height="9.07" fill="#f0b095"/>
<rect x="436.52" y="702.78" width="9.72" height="9.07" fill="#f0b095"/>
<rect x="445.94" y="702.78" width="9.72" height="9.07" fill="#f0b095"/>
<rect x="455.37" y="702.78" width="9.72" height="9.07" fill="#f0b297"/>
<rect x="464.79" y="702.78" width="9.72" height="9.07" fill="#f0b297"/>
<rect x="474.22" y="702.78" width="9.72" height="9.07" fill="#f0b297"/>
<rect x="483.64" y="702.78" width="9.72" height="9.07" fill="#f0b297"/>
<rect x="493.07" y="702.78" width="9.72" height="9.07" fill="#f0b399"/>
<rect x="502.49" y="702.78" width="9.72" height="9.07" fill="#f0b399"/>
<rect x="511.91" y="702.78" width="9.72" height="9.07" fill="#f0b399"/>
<rect x="521.34" y="702.78" width="9.72" height="9.07" fill="#f0b399"/>
<rect x="530.76" y="702.78" width="9.72" height="9.07" fill="#f0b49a"/>
<rect x="540.19" y="702.78" width="5.01" height="9.07" fill="#f0b49a"/>
<rect x="361.12" y="694.01" width="9.72" height="9.07" fill="#eea387"/>
<rect x="370.55" y="694.01" width="9.72" height="9.07" fill="#eea387"/>
<rect x="379.97" y="694.01" width="9.72" height="9.07" fill="#eea588"/>
<rect x="389.40" y="694.01" width="9.72" height="9.07" fill="#eea588"/>
<rect x="398.82" y="694.01" width="9.72" height="9.07" fill="#eea588"/>
<rect x="408.24" y="694.01" width="9.72" height="9.07" fill="#eea588"/>
<rect x="417.67" y="694.01" width="9.72" height="9.07" fill="#efa68a"/>
<rect x="427.09" y="694.01" width="9.72" height="9.07" fill="#efa68a"/>
<rect x="436.52" y="694.01" width="9.72" height="9.07" fill="#efa68a"/>
<rect x="445.94" y="694.01" width="9.72" height="9.07" fill="#efa68a"/>
<rect x="455.37" y="694.01" width="9.72" height="9.07" fill="#efa88c"/>
<rect x="464.79" y="694.01" width="9.72" height="9.07" fill="#efa88c"/>
<rect x="474.22" y="694.01" width="9.72" height="9.07" fill="#efa88c"/>
<rect x="483.64" y="694.01" width="9.72" height="9.07" fill="#efa88c"/>
<rect x="493.07" y="694.01" width="9.72" height="9.07" fill="#efa98d"/>
<rect x="502.49" y="694.01" width="9.72" height="9.07" fill="#efa98d"/>
<rect x="511.91" y="694.01" width="9.72" height="9.07" fill="#efa98d"/>
<rect x="521.34" y="694.01" width="9.72" height="9.07" fill="#efa98d"/>
<rect x="530.76" y="694.01" width="9.72" height="9.07" fill="#efab8f"/>
<rect x="540.19" y="694.01" width="5.01" height="9.07" fill="#efab8f"/>
<rect x="370.55" y="685.24" width="9.72" height="9.07" fill="#eb987b"/>
<rect x="379.97" y="685.24" width="9.72" height="9.07" fill="#ec9a7d"/>
<rect x="389.40" y="685.24" width="9.72" height="9.07" fill="#ec9a7d"/>
<rect x="398.82" y="685.24" width="9.72" height="9.07" fill="#ec9a7d"/>
<rect x="408.24" y="685.24" width="9.72" height="9.07" fill="#ec9a7d"/>
<rect x="417.67" y="685.24" width="9.72" height="9.07" fill="#ec9c7f"/>
<rect x="427.09" y="685.24" width="9.72" height="9.07" fill="#ec9c7f"/>
<rect x="436.52" y="685.24" width="9.72" height="9.07" fill="#ec9c7f"/>
<rect x="445.94" y="685.24" width="9.72" height="9.07" fill="#ec9c7f"/>
<rect x="455.37" y="685.24" width="9.72" height="9.07" fill="#ed9d80"/>
<rect x="464.79" y="685.24" width="9.72" height="9.07" fill="#ed9d80"/>
<rect x="474.22" y="685.24" width="9.72" height="9.07" fill="#ed9d80"/>
<rect x="483.64" y="685.24" width="9.72" height="9.07" fill="#ed9d80"/>
<rect x="493.07" y="685.24" width="9.72" height="9.07" fill="#ed9f82"/>
<rect x="502.49" y="685.24" width="9.72" height="9.07" fill="#ed9f82"/>
<rect x="511.91" y="685.24" width="9.72" height="9.07" fill="#ed9f82"/>
<rect x="521.34" y="685.24" width="9.72" height="9.07" fill="#ed9f82"/>
<rect x="530.76" y="685.24" width="9.72" height="9.07" fill="#eda083"/>
<rect x="540.19" y="685.24" width="5.01" height="9.07" fill="#eda083"/>
<rect x="379.97" y="676.46" width="9.72" height="9.07" fill="#e98f73"/>
<rect x="389.40" y="676.46" width="9.72" height="9.07" fill="#e98f73"/>
<rect x="398.82" y="676.46" width="9.72" height="9.07" fill="#e98f73"/>
<rect x="408.24" y="676.46" width="9.72" height="9.07" fill="#e98f73"/>
<rect x="417.67" y="676.46" width="9.72" height="9.07" fill="#e99074"/>
<rect x="427.09" y="676.46" width="9.72" height="9.07" fill="#e99074"/>
<rect x="436.52" y="676.46" width="9.72" height="9.07" fill="#e99074"/>
<rect x="445.94" y="676.46" width="9.72" height="9.07" fill="#e99074"/>
<rect x="455.37" y="676.46" width="9.72" height="9.07" fill="#ea9275"/>
<rect x="464.79" y="676.46" width="9.72" height="9.07" fill="#ea9275"/>
<rect x="474.22" y="676.46" width="9.72" height="9.07" fill="#ea9275"/>
<rect x="483.64" y="676.46" width="9.72" height="9.07" fill="#ea9275"/>
<rect x="493.07" y="676.46" width="9.72" height="9.07" fill="#ea9477"/>
<rect x="502.49" y="676.46" width="9.72" height="9.07" fill="#ea9477"/>
<rect x="511.91" y="676.46" width="9.72" height="9.07" fill="#ea9477"/>
<rect x="521.34" y="676.46" width="9.72" height="9.07" fill="#ea9477"/>
<rect x="530.76" y="676.46" width="9.72" height="9.07" fill="#ea9578"/>
<rect x="540.19" y="676.46" width="5.01" height="9.07" fill="#ea9578"/>
<rect x="389.40" y="667.69" width="9.72" height="9.07" fill="#e68469"/>
<rect x="398.82" y="667.69" width="9.72" height="9.07" fill="#e68469"/>
<rect x="408.24" y="667.69" width="9.72" height="9.07" fill="#e68469"/>
<rect x="417.67" y="667.69" width="9.72" height="9.07" fill="#e7866a"/>
<rect x="427.09" y="667.69" width="9.72" height="9.07" fill="#e7856a"/>
<rect x="436.52" y="667.69" width="9.72" height="9.07" fill="#e7856a"/>
<rect x="445.94" y="667.69" width="9.72" height="9.07" fill="#e7856a"/>
<rect x="455.37" y="667.69" width="9.72" height="9.07" fill="#e7876c"/>
<rect x="464.79" y="667.69" width="9.72" height="9.07" fill="#e7876c"/>
<rect x="474.22" y="667.69" width="9.72" height="9.07" fill="#e7876c"/>
<rect x="483.64" y="667.69" width="9.72" height="9.07" fill="#e7876c"/>
<rect x="493.07" y="667.69" width="9.72" height="9.07" fill="#e8896d"/>
<rect x="502.49" y="667.69" width="9.72" height="9.07" fill="#e8896d"/>
<rect x="511.91" y="667.69" width="9.72" height="9.07" fill="#e8896d"/>
<rect x="521.34" y="667.69" width="9.72" height="9.07" fill="#e8896d"/>
<rect x="530.76" y="667.69" width="9.72" height="9.07" fill="#e88a6e"/>
<rect x="540.19" y="667.69" width="5.01" height="9.07" fill="#e88a6e"/>
<rect x="398.82" y="658.92" width="9.72" height="9.07" fill="#e27860"/>
<rect x="408.24" y="658.92" width="9.72" height="9.07" fill="#e2785f"/>
<rect x="417.67" y="658.92" width="9.72" height="9.07" fill="#e37a61"/>
<rect x="427.09" y="658.92" width="9.72" height="9.07" fill="#e37a61"/>
<rect x="436.52" y="658.92" width="9.72" height="9.07" fill="#e37a61"/>
<rect x="445.94" y="658.92" width="9.72" height="9.07" fill="#e37a61"/>
<rect x="455.37" y="658.92" width="9.72" height="9.07" fill="#e47c62"/>
<rect x="464.79" y="658.92" width="9.72" height="9.07" fill="#e47c62"/>
<rect x="474.22" y="658.92" width="9.72" height="9.07" fill="#e47c62"/>
<rect x="483.64" y="658.92" width="9.72" height="9.07" fill="#e47c62"/>
<rect x="493.07" y="658.92" width="9.72" height="9.07" fill="#e47d64"/>
<rect x="502.49" y="658.92" width="9.72" height="9.07" fill="#e47d64"/>
<rect x="511.91" y="658.92" width="9.72" height="9.07" fill="#e47d63"/>
<rect x="521.34" y="658.92" width="9.72" height="9.07" fill="#e47d63"/>
<rect x="530.76" y="658.92" width="9.72" height="9.07" fill="#e57f65"/>
<rect x="540.19" y="658.92" width="5.01" height="9.07" fill="#e57f65"/>
<rect x="408.24" y="650.14" width="9.72" height="9.07" fill="#dd6c56"/>
<rect x="417.67" y="650.14" width="9.72" height="9.07" fill="#de6e58"/>
<rect x="427.09" y="650.14" width="9.72" height="9.07" fill="#de6e58"/>
<rect x="436.52" y="650.14" width="9.72" height="9.07" fill="#de6e58"/>
<rect x="445.94" y="650.14" width="9.72" height="9.07" fill="#de6e58"/>
<rect x="455.37" y="650.14" width="9.72" height="9.07" fill="#df6f59"/>
<rect x="464.79" y="650.14" width="9.72" height="9.07" fill="#df6f59"/>
<rect x="474.22" y="650.14" width="9.72" height="9.07" fill="#df6f59"/>
<rect x="483.64" y="650.14" width="9.72" height="9.07" fill="#df6f59"/>
<rect x="493.07" y="650.14" width="9.72" height="9.07" fill="#e0715a"/>
<rect x="502.49" y="650.14" width="9.72" height="9.07" fill="#e0715a"/>
<rect x="511.91" y="650.14" width="9.72" height="9.07" fill="#e0715a"/>
<rect x="521.34" y="650.14" width="9.72" height="9.07" fill="#e0715a"/>
<rect x="530.76" y="650.14" width="9.72" height="9.07" fill="#e0735c"/>
<rect x="540.19" y="650.14" width="5.01" height="9.07" fill="#e0735c"/>
<rect x="417.67" y="641.37" width="9.72" height="9.07" fill="#d9614f"/>
<rect x="427.09" y="641.37" width="9.72" height="9.07" fill="#d9614f"/>
<rect x="436.52" y="641.37" width="9.72" height="9.07" fill="#d9614f"/>
<rect x="445.94" y="641.37" width="9.72" height="9.07" fill="#d8604f"/>
<rect x="455.37" y="641.37" width="9.72" height="9.07" fill="#d96250"/>
<rect x="464.79" y="641.37" width="9.72" height="9.07" fill="#d96250"/>
<rect x="474.22" y="641.37" width="9.72" height="9.07" fill="#d96250"/>
<rect x="483.64" y="641.37" width="9.72" height="9.07" fill="#d96250"/>
<rect x="493.07" y="641.37" width="9.72" height="9.07" fill="#da6451"/>
<rect x="502.49" y="641.37" width="9.72" height="9.07" fill="#da6451"/>
<rect x="511.91" y="641.37" width="9.72" height="9.07" fill="#da6451"/>
<rect x="521.34" y="641.37" width="9.72" height="9.07" fill="#da6451"/>
<rect x="530.76" y="641.37" width="9.72" height="9.07" fill="#db6653"/>
<rect x="540.19" y="641.37" width="5.01" height="9.07" fill="#db6653"/>
<rect x="427.09" y="632.59" width="9.72" height="9.07" fill="#d35647"/>
<rect x="436.52" y="632.59" width="9.72" height="9.07" fill="#d35647"/>
<rect x="445.94" y="632.59" width="9.72" height="9.07" fill="#d35647"/>
<rect x="455.37" y="632.59" width="9.72" height="9.07" fill="#d45848"/>
<rect x="464.79" y="632.59" width="9.72" height="9.07" fill="#d45848"/>
<rect x="474.22" y="632.59" width="9.72" height="9.07" fill="#d45848"/>
<rect x="483.64" y="632.59" width="9.72" height="9.07" fill="#d45748"/>
<rect x="493.07" y="632.59" width="9.72" height="9.07" fill="#d55949"/>
<rect x="502.49" y="632.59" width="9.72" height="9.07" fill="#d45949"/>
<rect x="511.91" y="632.59" width="9.72" height="9.07" fill="#d45949"/>
<rect x="521.34" y="632.59" width="9.72" height="9.07" fill="#d45949"/>
<rect x="530.76" y="632.59" width="9.72" height="9.07" fill="#d45949"/>
<rect x="540.19" y="632.59" width="5.01" height="9.07" fill="#d55b4a"/>
<rect x="436.52" y="623.82" width="9.72" height="9.07" fill="#cd4c3f"/>
<rect x="445.94" y="623.82" width="9.72" height="9.07" fill="#cc4c3f"/>
<rect x="455.37" y="623.82" width="9.72" height="9.07" fill="#ce4e40"/>
<rect x="464.79" y="623.82" width="9.72" height="9.07" fill="#ce4e40"/>
<rect x="474.22" y="623.82" width="9.72" height="9.07" fill="#cd4d40"/>
<rect x="483.64" y="623.82" width="9.72" height="9.07" fill="#cd4d40"/>
<rect x="493.07" y="623.82" width="9.72" height="9.07" fill="#cf4f42"/>
<rect x="502.49" y="623.82" width="9.72" height="9.07" fill="#cf4f42"/>
<rect x="511.91" y="623.82" width="9.72" height="9.07" fill="#ce4f41"/>
<rect x="521.34" y="623.82" width="9.72" height="9.07" fill="#ce4f41"/>
<rect x="530.76" y="623.82" width="9.72" height="9.07" fill="#ce4f41"/>
<rect x="540.19" y="623.82" width="5.01" height="9.07" fill="#d05143"/>
<rect x="445.94" y="615.05" width="9.72" height="9.07" fill="#c53f38"/>
<rect x="455.37" y="615.05" width="9.72" height="9.07" fill="#c74239"/>
<rect x="464.79" y="615.05" width="9.72" height="9.07" fill="#c74239"/>
<rect x="474.22" y="615.05" width="9.72" height="9.07" fill="#c74139"/>
<rect x="483.64" y="615.05" width="9.72" height="9.07" fill="#c64139"/>
<rect x="493.07" y="615.05" width="9.72" height="9.07" fill="#c8443a"/>
<rect x="502.49" y="615.05" width="9.72" height="9.07" fill="#c8443a"/>
<rect x="511.91" y="615.05" width="9.72" height="9.07" fill="#c8433a"/>
<rect x="521.34" y="615.05" width="9.72" height="9.07" fill="#c8433a"/>
<rect x="530.76" y="615.05" width="9.72" height="9.07" fill="#c8433a"/>
<rect x="540.19" y="615.05" width="5.01" height="9.07" fill="#c9463b"/>
<rect x="455.37" y="606.27" width="9.72" height="9.07" fill="#bf3133"/>
<rect x="464.79" y="606.27" width="9.72" height="9.07" fill="#bf3033"/>
<rect x="474.22" y="606.27" width="9.72" height="9.07" fill="#bf3033"/>
<rect x="483.64" y="606.27" width="9.72" height="9.07" fill="#bf3033"/>
<rect x="493.07" y="606.27" width="9.72" height="9.07" fill="#c03434"/>
<rect x="502.49" y="606.27" width="9.72" height="9.07" fill="#c03434"/>
<rect x="511.91" y="606.27" width="9.72" height="9.07" fill="#c03433"/>
<rect x="521.34" y="606.27" width="9.72" height="9.07" fill="#c03433"/>
<rect x="530.76" y="606.27" width="9.72" height="9.07" fill="#c03433"/>
<rect x="540.19" y="606.27" width="5.01" height="9.07" fill="#c13834"/>
<rect x="464.79" y="597.50" width="9.72" height="9.07" fill="#b81a2d"/>
<rect x="474.22" y="597.50" width="9.72" height="9.07" fill="#b81a2d"/>
<rect x="483.64" y="597.50" width="9.72" height="9.07" fill="#b81a2d"/>
<rect x="493.07" y="597.50" width="9.72" height="9.07" fill="#b81a2d"/>
<rect x="502.49" y="597.50" width="9.72" height="9.07" fill="#b81a2d"/>
<rect x="511.91" y="597.50" width="9.72" height="9.07" fill="#b81a2d"/>
<rect x="521.34" y="597.50" width="9.72" height="9.07" fill="#b8192d"/>
<rect x="530.76" y="597.50" width="9.72" height="9.07" fill="#b8192d"/>
<rect x="540.19" y="597.50" width="5.01" height="9.07" fill="#b91e2e"/>
<rect x="474.22" y="588.73" width="9.72" height="9.07" fill="#b81a2d"/>
<rect x="483.64" y="588.73" width="9.72" height="9.07" fill="#b81a2d"/>
<rect x="493.07" y="588.73" width="9.72" height="9.07" fill="#b81a2d"/>
<rect x="502.49" y="588.73" width="9.72" height="9.07" fill="#b81a2d"/>
<rect x="511.91" y="588.73" width="9.72" height="9.07" fill="#b81a2d"/>
<rect x="521.34" y="588.73" width="9.72" height="9.07" fill="#b81a2d"/>
<rect x="530.76" y="588.73" width="9.72" height="9.07" fill="#b81a2d"/>
<rect x="540.19" y="588.73" width="5.01" height="9.07" fill="#b81a2d"/>
<rect x="483.64" y="579.95" width="9.72" height="9.07" fill="#b81a2d"/>
<rect x="493.07" y="579.95" width="9.72" height="9.07" fill="#b81a2d"/>
<rect x="502.49" y="579.95" width="9.72" height="9.07" fill="#b81a2d"/>
<rect x="511.91" y="579.95" width="9.72" height="9.07" fill="#b81a2d"/>
<rect x="521.34" y="579.95" width="9.72" height="9.07" fill="#b81a2d"/>
<rect x="530.76" y="579.95" width="9.72" height="9.07" fill="#b81a2d"/>
<rect x="540.19" y="579.95" width="5.01" height="9.07" fill="#b81a2d"/>
<rect x="493.07" y="571.18" width="9.72" height="9.07" fill="#b81a2d"/>
<rect x="502.49" y="571.18" width="9.72" height="9.07" fill="#b81a2d"/>
<rect x="511.91" y="571.18" width="9.72" height="9.07" fill="#b81a2d"/>
<rect x="521.34" y="571.18" width="9.72" height="9.07" fill="#b81a2d"/>
<rect x="530.76" y="571.18" width="9.72" height="9.07" fill="#b81a2d"/>
<rect x="540.19" y="571.18" width="5.01" height="9.07" fill="#b81a2d"/>
<rect x="502.49" y="562.41" width="9.72" height="9.07" fill="#b81a2d"/>
<rect x="511.91" y="562.41" width="9.72" height="9.07" fill="#b81a2d"/>
<rect x="521.34" y="562.41" width="9.72" height="9.07" fill="#b81a2d"/>
<rect x="530.76" y="562.41" width="9.72" height="9.07" fill="#b81a2d"/>
<rect x="540.19" y="562.41" width="5.01" height="9.07" fill="#b81a2d"/>
<rect x="511.91" y="553.63" width="9.72" height="9.07" fill="#b81a2d"/>
<rect x="521.34" y="553.63" width="9.72" height="9.07" fill="#b81a2d"/>
<rect x="530.76" y="553.63" width="9.72" height="9.07" fill="#b81a2d"/>
<rect x="540.19" y="553.63" width="5.01" height="9.07" fill="#b81a2d"/>
<rect x="521.34" y="544.86" width="9.72" height="9.07" fill="#b81a2d"/>
<rect x="530.76" y="544.86" width="9.72" height="9.07" fill="#b81a2d"/>
<rect x="540.19" y="544.86" width="5.01" height="9.07" fill="#b81a2d"/>
<rect x="530.76" y="536.09" width="9.72" height="9.07" fill="#b81a2d"/>
<rect x="540.19" y="536.09" width="5.01" height="9.07" fill="#b81a2d"/>
<rect x="540.19" y="531.70" width="5.01" height="4.69" fill="#b81a2d"/>
</g>
<line clip-path="url(#ax1)" x1="78.10" y1="966.25" x2="549.90" y2="527.05" stroke="#000" stroke-width="2.6"/>
<rect x="83.10" y="531.70" width="461.80" height="429.90" fill="none" stroke="#000" stroke-width="1.25"/>
<line x1="167.92" y1="961.60" x2="167.92" y2="966.40" stroke="#000" stroke-width="1.25"/>
<text class="s" transform="translate(166.92,987.10) scale(0.865,1)" font-size="24.0" text-anchor="middle" fill="#1a1a1a">10</text>
<line x1="78.30" y1="882.64" x2="83.10" y2="882.64" stroke="#000" stroke-width="1.25"/>
<text class="s" transform="translate(71.90,891.04) scale(0.865,1)" font-size="24.0" text-anchor="end" fill="#1a1a1a">10</text>
<line x1="262.17" y1="961.60" x2="262.17" y2="966.40" stroke="#000" stroke-width="1.25"/>
<text class="s" transform="translate(261.17,987.10) scale(0.865,1)" font-size="24.0" text-anchor="middle" fill="#1a1a1a">20</text>
<line x1="78.30" y1="794.90" x2="83.10" y2="794.90" stroke="#000" stroke-width="1.25"/>
<text class="s" transform="translate(71.90,803.30) scale(0.865,1)" font-size="24.0" text-anchor="end" fill="#1a1a1a">20</text>
<line x1="356.41" y1="961.60" x2="356.41" y2="966.40" stroke="#000" stroke-width="1.25"/>
<text class="s" transform="translate(355.41,987.10) scale(0.865,1)" font-size="24.0" text-anchor="middle" fill="#1a1a1a">30</text>
<line x1="78.30" y1="707.17" x2="83.10" y2="707.17" stroke="#000" stroke-width="1.25"/>
<text class="s" transform="translate(71.90,715.57) scale(0.865,1)" font-size="24.0" text-anchor="end" fill="#1a1a1a">30</text>
<line x1="450.66" y1="961.60" x2="450.66" y2="966.40" stroke="#000" stroke-width="1.25"/>
<text class="s" transform="translate(449.66,987.10) scale(0.865,1)" font-size="24.0" text-anchor="middle" fill="#1a1a1a">40</text>
<line x1="78.30" y1="619.43" x2="83.10" y2="619.43" stroke="#000" stroke-width="1.25"/>
<text class="s" transform="translate(71.90,627.83) scale(0.865,1)" font-size="24.0" text-anchor="end" fill="#1a1a1a">40</text>
<line x1="544.90" y1="961.60" x2="544.90" y2="966.40" stroke="#000" stroke-width="1.25"/>
<text class="s" transform="translate(543.90,987.10) scale(0.865,1)" font-size="24.0" text-anchor="middle" fill="#1a1a1a">50</text>
<line x1="78.30" y1="531.70" x2="83.10" y2="531.70" stroke="#000" stroke-width="1.25"/>
<text class="s" transform="translate(71.90,540.10) scale(0.865,1)" font-size="24.0" text-anchor="end" fill="#1a1a1a">50</text>
<text class="s i" transform="translate(196.60,1013.60) scale(1.000,1)" font-size="22.5" text-anchor="start" fill="#1a1a1a">n</text>
<text class="s" transform="translate(209.30,1017.90) scale(0.865,1)" font-size="16.5" text-anchor="start" fill="#1a1a1a">0</text>
<text class="n" transform="translate(227.00,1013.60) scale(1.000,1)" font-size="20.5" text-anchor="start" fill="#1a1a1a" textLength="202.5" lengthAdjust="spacingAndGlyphs">(encoding qubits/axis)</text>
<g transform="translate(42.3,746.65) rotate(-90)">
<text class="s i" transform="translate(-114.00,0.00) scale(1.000,1)" font-size="22.5" text-anchor="start" fill="#1a1a1a">ñ</text>
<text class="n" transform="translate(-91.50,0.00) scale(1.000,1)" font-size="20.5" text-anchor="start" fill="#1a1a1a" textLength="205" lengthAdjust="spacingAndGlyphs">(discarded qubits/axis)</text>
</g>
<rect x="306.6" y="541.60" width="95.60" height="58.8" rx="5.5" ry="5.5" fill="#c9e4f8" stroke="#808080" stroke-width="1.1"/>
<text class="s i" transform="translate(314.30,564.90) scale(1.000,1)" font-size="23.0" text-anchor="start" fill="#1a1a1a">L</text>
<text class="s" transform="translate(339.20,564.90) scale(1.000,1)" font-size="23.0" text-anchor="start" fill="#1a1a1a" textLength="15.4" lengthAdjust="spacingAndGlyphs">=</text>
<text class="s" transform="translate(362.20,564.90) scale(0.865,1)" font-size="24.0" text-anchor="start" fill="#1a1a1a">256</text>
<text class="s i" transform="translate(314.30,588.20) scale(1.000,1)" font-size="23.0" text-anchor="start" fill="#1a1a1a">d</text>
<text class="s" transform="translate(339.20,588.20) scale(1.000,1)" font-size="23.0" text-anchor="start" fill="#1a1a1a" textLength="15.4" lengthAdjust="spacingAndGlyphs">=</text>
<text class="s" transform="translate(366.30,588.20) scale(0.865,1)" font-size="24.0" text-anchor="start" fill="#1a1a1a">2</text>
<text class="n" transform="translate(0.10,531.50) scale(1.000,1)" font-size="17.0" text-anchor="start" fill="#1a1a1a" stroke="#1a1a1a" stroke-width="0.3">(b)</text>
<g shape-rendering="crispEdges">
<rect x="573.70" y="531.70" width="22.20" height="2.08" fill="#b81a2d"/>
<rect x="573.70" y="533.38" width="22.20" height="2.08" fill="#b91d2e"/>
<rect x="573.70" y="535.06" width="22.20" height="2.08" fill="#ba212f"/>
<rect x="573.70" y="536.74" width="22.20" height="2.08" fill="#bb2530"/>
<rect x="573.70" y="538.42" width="22.20" height="2.08" fill="#bd2931"/>
<rect x="573.70" y="540.10" width="22.20" height="2.08" fill="#be2d32"/>
<rect x="573.70" y="541.78" width="22.20" height="2.08" fill="#bf3033"/>
<rect x="573.70" y="543.46" width="22.20" height="2.08" fill="#c03433"/>
<rect x="573.70" y="545.13" width="22.20" height="2.08" fill="#c13834"/>
<rect x="573.70" y="546.81" width="22.20" height="2.08" fill="#c23a35"/>
<rect x="573.70" y="548.49" width="22.20" height="2.08" fill="#c33c36"/>
<rect x="573.70" y="550.17" width="22.20" height="2.08" fill="#c43e37"/>
<rect x="573.70" y="551.85" width="22.20" height="2.08" fill="#c64038"/>
<rect x="573.70" y="553.53" width="22.20" height="2.08" fill="#c74239"/>
<rect x="573.70" y="555.21" width="22.20" height="2.08" fill="#c8433a"/>
<rect x="573.70" y="556.89" width="22.20" height="2.08" fill="#c9453b"/>
<rect x="573.70" y="558.57" width="22.20" height="2.08" fill="#ca473c"/>
<rect x="573.70" y="560.25" width="22.20" height="2.08" fill="#cb493d"/>
<rect x="573.70" y="561.93" width="22.20" height="2.08" fill="#cc4a3e"/>
<rect x="573.70" y="563.61" width="22.20" height="2.08" fill="#cd4c3f"/>
<rect x="573.70" y="565.29" width="22.20" height="2.08" fill="#ce4d40"/>
<rect x="573.70" y="566.97" width="22.20" height="2.08" fill="#ce4f41"/>
<rect x="573.70" y="568.64" width="22.20" height="2.08" fill="#cf5143"/>
<rect x="573.70" y="570.32" width="22.20" height="2.08" fill="#d05244"/>
<rect x="573.70" y="572.00" width="22.20" height="2.08" fill="#d15445"/>
<rect x="573.70" y="573.68" width="22.20" height="2.08" fill="#d25546"/>
<rect x="573.70" y="575.36" width="22.20" height="2.08" fill="#d35647"/>
<rect x="573.70" y="577.04" width="22.20" height="2.08" fill="#d45848"/>
<rect x="573.70" y="578.72" width="22.20" height="2.08" fill="#d45949"/>
<rect x="573.70" y="580.40" width="22.20" height="2.08" fill="#d55a4a"/>
<rect x="573.70" y="582.08" width="22.20" height="2.08" fill="#d65c4b"/>
<rect x="573.70" y="583.76" width="22.20" height="2.08" fill="#d75d4d"/>
<rect x="573.70" y="585.44" width="22.20" height="2.08" fill="#d85f4e"/>
<rect x="573.70" y="587.12" width="22.20" height="2.08" fill="#d9614f"/>
<rect x="573.70" y="588.80" width="22.20" height="2.08" fill="#d96250"/>
<rect x="573.70" y="590.48" width="22.20" height="2.08" fill="#da6451"/>
<rect x="573.70" y="592.15" width="22.20" height="2.08" fill="#db6653"/>
<rect x="573.70" y="593.83" width="22.20" height="2.08" fill="#dc6854"/>
<rect x="573.70" y="595.51" width="22.20" height="2.08" fill="#dd6a55"/>
<rect x="573.70" y="597.19" width="22.20" height="2.08" fill="#de6c56"/>
<rect x="573.70" y="598.87" width="22.20" height="2.08" fill="#de6e58"/>
<rect x="573.70" y="600.55" width="22.20" height="2.08" fill="#df6f59"/>
<rect x="573.70" y="602.23" width="22.20" height="2.08" fill="#e0715a"/>
<rect x="573.70" y="603.91" width="22.20" height="2.08" fill="#e0735c"/>
<rect x="573.70" y="605.59" width="22.20" height="2.08" fill="#e1755d"/>
<rect x="573.70" y="607.27" width="22.20" height="2.08" fill="#e2765e"/>
<rect x="573.70" y="608.95" width="22.20" height="2.08" fill="#e27860"/>
<rect x="573.70" y="610.63" width="22.20" height="2.08" fill="#e37a61"/>
<rect x="573.70" y="612.31" width="22.20" height="2.08" fill="#e47c62"/>
<rect x="573.70" y="613.99" width="22.20" height="2.08" fill="#e47d64"/>
<rect x="573.70" y="615.66" width="22.20" height="2.08" fill="#e57f65"/>
<rect x="573.70" y="617.34" width="22.20" height="2.08" fill="#e58166"/>
<rect x="573.70" y="619.02" width="22.20" height="2.08" fill="#e68268"/>
<rect x="573.70" y="620.70" width="22.20" height="2.08" fill="#e68469"/>
<rect x="573.70" y="622.38" width="22.20" height="2.08" fill="#e7856a"/>
<rect x="573.70" y="624.06" width="22.20" height="2.08" fill="#e7876c"/>
<rect x="573.70" y="625.74" width="22.20" height="2.08" fill="#e8896d"/>
<rect x="573.70" y="627.42" width="22.20" height="2.08" fill="#e88a6e"/>
<rect x="573.70" y="629.10" width="22.20" height="2.08" fill="#e88c70"/>
<rect x="573.70" y="630.78" width="22.20" height="2.08" fill="#e98d71"/>
<rect x="573.70" y="632.46" width="22.20" height="2.08" fill="#e98f73"/>
<rect x="573.70" y="634.14" width="22.20" height="2.08" fill="#e99074"/>
<rect x="573.70" y="635.82" width="22.20" height="2.08" fill="#ea9275"/>
<rect x="573.70" y="637.50" width="22.20" height="2.08" fill="#ea9477"/>
<rect x="573.70" y="639.18" width="22.20" height="2.08" fill="#ea9578"/>
<rect x="573.70" y="640.85" width="22.20" height="2.08" fill="#eb977a"/>
<rect x="573.70" y="642.53" width="22.20" height="2.08" fill="#eb987b"/>
<rect x="573.70" y="644.21" width="22.20" height="2.08" fill="#ec9a7d"/>
<rect x="573.70" y="645.89" width="22.20" height="2.08" fill="#ec9c7f"/>
<rect x="573.70" y="647.57" width="22.20" height="2.08" fill="#ed9d80"/>
<rect x="573.70" y="649.25" width="22.20" height="2.08" fill="#ed9f82"/>
<rect x="573.70" y="650.93" width="22.20" height="2.08" fill="#eea083"/>
<rect x="573.70" y="652.61" width="22.20" height="2.08" fill="#eea285"/>
<rect x="573.70" y="654.29" width="22.20" height="2.08" fill="#eea387"/>
<rect x="573.70" y="655.97" width="22.20" height="2.08" fill="#eea588"/>
<rect x="573.70" y="657.65" width="22.20" height="2.08" fill="#efa68a"/>
<rect x="573.70" y="659.33" width="22.20" height="2.08" fill="#efa88c"/>
<rect x="573.70" y="661.01" width="22.20" height="2.08" fill="#efa98d"/>
<rect x="573.70" y="662.69" width="22.20" height="2.08" fill="#efab8f"/>
<rect x="573.70" y="664.36" width="22.20" height="2.08" fill="#f0ac90"/>
<rect x="573.70" y="666.04" width="22.20" height="2.08" fill="#f0ae92"/>
<rect x="573.70" y="667.72" width="22.20" height="2.08" fill="#f0af94"/>
<rect x="573.70" y="669.40" width="22.20" height="2.08" fill="#f0b095"/>
<rect x="573.70" y="671.08" width="22.20" height="2.08" fill="#f0b297"/>
<rect x="573.70" y="672.76" width="22.20" height="2.08" fill="#f0b399"/>
<rect x="573.70" y="674.44" width="22.20" height="2.08" fill="#f0b49a"/>
<rect x="573.70" y="676.12" width="22.20" height="2.08" fill="#f0b69c"/>
<rect x="573.70" y="677.80" width="22.20" height="2.08" fill="#f0b79d"/>
<rect x="573.70" y="679.48" width="22.20" height="2.08" fill="#f0b99f"/>
<rect x="573.70" y="681.16" width="22.20" height="2.08" fill="#f0baa1"/>
<rect x="573.70" y="682.84" width="22.20" height="2.08" fill="#f0bba2"/>
<rect x="573.70" y="684.52" width="22.20" height="2.08" fill="#f0bca4"/>
<rect x="573.70" y="686.20" width="22.20" height="2.08" fill="#f0bda6"/>
<rect x="573.70" y="687.87" width="22.20" height="2.08" fill="#f0bfa7"/>
<rect x="573.70" y="689.55" width="22.20" height="2.08" fill="#f0c0a9"/>
<rect x="573.70" y="691.23" width="22.20" height="2.08" fill="#f0c1aa"/>
<rect x="573.70" y="692.91" width="22.20" height="2.08" fill="#efc2ac"/>
<rect x="573.70" y="694.59" width="22.20" height="2.08" fill="#efc3ae"/>
<rect x="573.70" y="696.27" width="22.20" height="2.08" fill="#efc4af"/>
<rect x="573.70" y="697.95" width="22.20" height="2.08" fill="#efc5b1"/>
<rect x="573.70" y="699.63" width="22.20" height="2.08" fill="#eec7b2"/>
<rect x="573.70" y="701.31" width="22.20" height="2.08" fill="#eec8b4"/>
<rect x="573.70" y="702.99" width="22.20" height="2.08" fill="#eec9b6"/>
<rect x="573.70" y="704.67" width="22.20" height="2.08" fill="#edcab7"/>
<rect x="573.70" y="706.35" width="22.20" height="2.08" fill="#edcbb9"/>
<rect x="573.70" y="708.03" width="22.20" height="2.08" fill="#ecccba"/>
<rect x="573.70" y="709.71" width="22.20" height="2.08" fill="#eccdbc"/>
<rect x="573.70" y="711.38" width="22.20" height="2.08" fill="#ebcebe"/>
<rect x="573.70" y="713.06" width="22.20" height="2.08" fill="#ebcebf"/>
<rect x="573.70" y="714.74" width="22.20" height="2.08" fill="#eacfc1"/>
<rect x="573.70" y="716.42" width="22.20" height="2.08" fill="#ead0c2"/>
<rect x="573.70" y="718.10" width="22.20" height="2.08" fill="#e9d1c4"/>
<rect x="573.70" y="719.78" width="22.20" height="2.08" fill="#e9d2c5"/>
<rect x="573.70" y="721.46" width="22.20" height="2.08" fill="#e8d3c7"/>
<rect x="573.70" y="723.14" width="22.20" height="2.08" fill="#e7d4c8"/>
<rect x="573.70" y="724.82" width="22.20" height="2.08" fill="#e7d4ca"/>
<rect x="573.70" y="726.50" width="22.20" height="2.08" fill="#e6d5cc"/>
<rect x="573.70" y="728.18" width="22.20" height="2.08" fill="#e5d6cd"/>
<rect x="573.70" y="729.86" width="22.20" height="2.08" fill="#e5d7cf"/>
<rect x="573.70" y="731.54" width="22.20" height="2.08" fill="#e4d7d0"/>
<rect x="573.70" y="733.22" width="22.20" height="2.08" fill="#e3d8d2"/>
<rect x="573.70" y="734.89" width="22.20" height="2.08" fill="#e2d9d3"/>
<rect x="573.70" y="736.57" width="22.20" height="2.08" fill="#e2d9d5"/>
<rect x="573.70" y="738.25" width="22.20" height="2.08" fill="#e1dad6"/>
<rect x="573.70" y="739.93" width="22.20" height="2.08" fill="#e0dbd8"/>
<rect x="573.70" y="741.61" width="22.20" height="2.08" fill="#dfdbd9"/>
<rect x="573.70" y="743.29" width="22.20" height="2.08" fill="#dedcda"/>
<rect x="573.70" y="744.97" width="22.20" height="2.08" fill="#dddcdc"/>
<rect x="573.70" y="746.65" width="22.20" height="2.08" fill="#dcdddd"/>
<rect x="573.70" y="748.33" width="22.20" height="2.08" fill="#dbdcde"/>
<rect x="573.70" y="750.01" width="22.20" height="2.08" fill="#dadce0"/>
<rect x="573.70" y="751.69" width="22.20" height="2.08" fill="#d9dce1"/>
<rect x="573.70" y="753.37" width="22.20" height="2.08" fill="#d8dce2"/>
<rect x="573.70" y="755.05" width="22.20" height="2.08" fill="#d7dce3"/>
<rect x="573.70" y="756.73" width="22.20" height="2.08" fill="#d6dce4"/>
<rect x="573.70" y="758.41" width="22.20" height="2.08" fill="#d5dce5"/>
<rect x="573.70" y="760.08" width="22.20" height="2.08" fill="#d4dbe6"/>
<rect x="573.70" y="761.76" width="22.20" height="2.08" fill="#d3dbe7"/>
<rect x="573.70" y="763.44" width="22.20" height="2.08" fill="#d2dbe8"/>
<rect x="573.70" y="765.12" width="22.20" height="2.08" fill="#d1dbe9"/>
<rect x="573.70" y="766.80" width="22.20" height="2.08" fill="#d0daea"/>
<rect x="573.70" y="768.48" width="22.20" height="2.08" fill="#cfdaeb"/>
<rect x="573.70" y="770.16" width="22.20" height="2.08" fill="#cedaec"/>
<rect x="573.70" y="771.84" width="22.20" height="2.08" fill="#cdd9ed"/>
<rect x="573.70" y="773.52" width="22.20" height="2.08" fill="#ccd9ee"/>
<rect x="573.70" y="775.20" width="22.20" height="2.08" fill="#cbd8ef"/>
<rect x="573.70" y="776.88" width="22.20" height="2.08" fill="#cad8f0"/>
<rect x="573.70" y="778.56" width="22.20" height="2.08" fill="#c9d8f0"/>
<rect x="573.70" y="780.24" width="22.20" height="2.08" fill="#c8d7f1"/>
<rect x="573.70" y="781.92" width="22.20" height="2.08" fill="#c6d7f2"/>
<rect x="573.70" y="783.59" width="22.20" height="2.08" fill="#c5d6f3"/>
<rect x="573.70" y="785.27" width="22.20" height="2.08" fill="#c4d6f4"/>
<rect x="573.70" y="786.95" width="22.20" height="2.08" fill="#c3d5f4"/>
<rect x="573.70" y="788.63" width="22.20" height="2.08" fill="#c2d5f5"/>
<rect x="573.70" y="790.31" width="22.20" height="2.08" fill="#c1d4f6"/>
<rect x="573.70" y="791.99" width="22.20" height="2.08" fill="#bfd3f6"/>
<rect x="573.70" y="793.67" width="22.20" height="2.08" fill="#bed3f7"/>
<rect x="573.70" y="795.35" width="22.20" height="2.08" fill="#bdd2f8"/>
<rect x="573.70" y="797.03" width="22.20" height="2.08" fill="#bcd1f8"/>
<rect x="573.70" y="798.71" width="22.20" height="2.08" fill="#bbd1f9"/>
<rect x="573.70" y="800.39" width="22.20" height="2.08" fill="#b9d0f9"/>
<rect x="573.70" y="802.07" width="22.20" height="2.08" fill="#b8cffa"/>
<rect x="573.70" y="803.75" width="22.20" height="2.08" fill="#b7cffa"/>
<rect x="573.70" y="805.43" width="22.20" height="2.08" fill="#b6cefb"/>
<rect x="573.70" y="807.10" width="22.20" height="2.08" fill="#b4cdfb"/>
<rect x="573.70" y="808.78" width="22.20" height="2.08" fill="#b3ccfc"/>
<rect x="573.70" y="810.46" width="22.20" height="2.08" fill="#b2cbfc"/>
<rect x="573.70" y="812.14" width="22.20" height="2.08" fill="#b1cbfc"/>
<rect x="573.70" y="813.82" width="22.20" height="2.08" fill="#afcafd"/>
<rect x="573.70" y="815.50" width="22.20" height="2.08" fill="#aec9fd"/>
<rect x="573.70" y="817.18" width="22.20" height="2.08" fill="#adc8fd"/>
<rect x="573.70" y="818.86" width="22.20" height="2.08" fill="#acc7fd"/>
<rect x="573.70" y="820.54" width="22.20" height="2.08" fill="#aac6fe"/>
<rect x="573.70" y="822.22" width="22.20" height="2.08" fill="#a9c5fe"/>
<rect x="573.70" y="823.90" width="22.20" height="2.08" fill="#a8c4fe"/>
<rect x="573.70" y="825.58" width="22.20" height="2.08" fill="#a6c3fe"/>
<rect x="573.70" y="827.26" width="22.20" height="2.08" fill="#a5c2ff"/>
<rect x="573.70" y="828.94" width="22.20" height="2.08" fill="#a4c1ff"/>
<rect x="573.70" y="830.61" width="22.20" height="2.08" fill="#a2c0ff"/>
<rect x="573.70" y="832.29" width="22.20" height="2.08" fill="#a1bfff"/>
<rect x="573.70" y="833.97" width="22.20" height="2.08" fill="#a0beff"/>
<rect x="573.70" y="835.65" width="22.20" height="2.08" fill="#9fbdff"/>
<rect x="573.70" y="837.33" width="22.20" height="2.08" fill="#9dbcff"/>
<rect x="573.70" y="839.01" width="22.20" height="2.08" fill="#9cbbff"/>
<rect x="573.70" y="840.69" width="22.20" height="2.08" fill="#9bbaff"/>
<rect x="573.70" y="842.37" width="22.20" height="2.08" fill="#99b9ff"/>
<rect x="573.70" y="844.05" width="22.20" height="2.08" fill="#98b8ff"/>
<rect x="573.70" y="845.73" width="22.20" height="2.08" fill="#97b7fe"/>
<rect x="573.70" y="847.41" width="22.20" height="2.08" fill="#95b5fe"/>
<rect x="573.70" y="849.09" width="22.20" height="2.08" fill="#94b4fe"/>
<rect x="573.70" y="850.77" width="22.20" height="2.08" fill="#93b3fe"/>
<rect x="573.70" y="852.45" width="22.20" height="2.08" fill="#91b2fe"/>
<rect x="573.70" y="854.12" width="22.20" height="2.08" fill="#90b1fe"/>
<rect x="573.70" y="855.80" width="22.20" height="2.08" fill="#8fb0fe"/>
<rect x="573.70" y="857.48" width="22.20" height="2.08" fill="#8daefd"/>
<rect x="573.70" y="859.16" width="22.20" height="2.08" fill="#8cadfd"/>
<rect x="573.70" y="860.84" width="22.20" height="2.08" fill="#8bacfd"/>
<rect x="573.70" y="862.52" width="22.20" height="2.08" fill="#8aabfd"/>
<rect x="573.70" y="864.20" width="22.20" height="2.08" fill="#88aafd"/>
<rect x="573.70" y="865.88" width="22.20" height="2.08" fill="#87a8fd"/>
<rect x="573.70" y="867.56" width="22.20" height="2.08" fill="#86a7fc"/>
<rect x="573.70" y="869.24" width="22.20" height="2.08" fill="#84a6fc"/>
<rect x="573.70" y="870.92" width="22.20" height="2.08" fill="#83a5fc"/>
<rect x="573.70" y="872.60" width="22.20" height="2.08" fill="#82a3fb"/>
<rect x="573.70" y="874.28" width="22.20" height="2.08" fill="#81a2fb"/>
<rect x="573.70" y="875.96" width="22.20" height="2.08" fill="#7fa1fb"/>
<rect x="573.70" y="877.64" width="22.20" height="2.08" fill="#7e9ffa"/>
<rect x="573.70" y="879.31" width="22.20" height="2.08" fill="#7d9efa"/>
<rect x="573.70" y="880.99" width="22.20" height="2.08" fill="#7b9dfa"/>
<rect x="573.70" y="882.67" width="22.20" height="2.08" fill="#7a9bf9"/>
<rect x="573.70" y="884.35" width="22.20" height="2.08" fill="#799af9"/>
<rect x="573.70" y="886.03" width="22.20" height="2.08" fill="#7899f8"/>
<rect x="573.70" y="887.71" width="22.20" height="2.08" fill="#7697f8"/>
<rect x="573.70" y="889.39" width="22.20" height="2.08" fill="#7596f7"/>
<rect x="573.70" y="891.07" width="22.20" height="2.08" fill="#7495f7"/>
<rect x="573.70" y="892.75" width="22.20" height="2.08" fill="#7393f6"/>
<rect x="573.70" y="894.43" width="22.20" height="2.08" fill="#7192f5"/>
<rect x="573.70" y="896.11" width="22.20" height="2.08" fill="#7090f5"/>
<rect x="573.70" y="897.79" width="22.20" height="2.08" fill="#6f8ff4"/>
<rect x="573.70" y="899.47" width="22.20" height="2.08" fill="#6e8df3"/>
<rect x="573.70" y="901.15" width="22.20" height="2.08" fill="#6c8cf3"/>
<rect x="573.70" y="902.82" width="22.20" height="2.08" fill="#6b8af2"/>
<rect x="573.70" y="904.50" width="22.20" height="2.08" fill="#6a89f1"/>
<rect x="573.70" y="906.18" width="22.20" height="2.08" fill="#6988f0"/>
<rect x="573.70" y="907.86" width="22.20" height="2.08" fill="#6886f0"/>
<rect x="573.70" y="909.54" width="22.20" height="2.08" fill="#6685ef"/>
<rect x="573.70" y="911.22" width="22.20" height="2.08" fill="#6583ee"/>
<rect x="573.70" y="912.90" width="22.20" height="2.08" fill="#6482ed"/>
<rect x="573.70" y="914.58" width="22.20" height="2.08" fill="#6380ec"/>
<rect x="573.70" y="916.26" width="22.20" height="2.08" fill="#627eeb"/>
<rect x="573.70" y="917.94" width="22.20" height="2.08" fill="#607dea"/>
<rect x="573.70" y="919.62" width="22.20" height="2.08" fill="#5f7be9"/>
<rect x="573.70" y="921.30" width="22.20" height="2.08" fill="#5e7ae8"/>
<rect x="573.70" y="922.98" width="22.20" height="2.08" fill="#5d78e7"/>
<rect x="573.70" y="924.66" width="22.20" height="2.08" fill="#5c77e6"/>
<rect x="573.70" y="926.33" width="22.20" height="2.08" fill="#5b75e5"/>
<rect x="573.70" y="928.01" width="22.20" height="2.08" fill="#5974e4"/>
<rect x="573.70" y="929.69" width="22.20" height="2.08" fill="#5872e3"/>
<rect x="573.70" y="931.37" width="22.20" height="2.08" fill="#5771e2"/>
<rect x="573.70" y="933.05" width="22.20" height="2.08" fill="#566fe1"/>
<rect x="573.70" y="934.73" width="22.20" height="2.08" fill="#556de0"/>
<rect x="573.70" y="936.41" width="22.20" height="2.08" fill="#546cdf"/>
<rect x="573.70" y="938.09" width="22.20" height="2.08" fill="#536ade"/>
<rect x="573.70" y="939.77" width="22.20" height="2.08" fill="#5269dc"/>
<rect x="573.70" y="941.45" width="22.20" height="2.08" fill="#5067db"/>
<rect x="573.70" y="943.13" width="22.20" height="2.08" fill="#4f65da"/>
<rect x="573.70" y="944.81" width="22.20" height="2.08" fill="#4e64d9"/>
<rect x="573.70" y="946.49" width="22.20" height="2.08" fill="#4d62d8"/>
<rect x="573.70" y="948.17" width="22.20" height="2.08" fill="#4c61d6"/>
<rect x="573.70" y="949.84" width="22.20" height="2.08" fill="#4b5fd5"/>
<rect x="573.70" y="951.52" width="22.20" height="2.08" fill="#4a5dd4"/>
<rect x="573.70" y="953.20" width="22.20" height="2.08" fill="#495cd2"/>
<rect x="573.70" y="954.88" width="22.20" height="2.08" fill="#485ad1"/>
<rect x="573.70" y="956.56" width="22.20" height="2.08" fill="#4758d0"/>
<rect x="573.70" y="958.24" width="22.20" height="2.08" fill="#4657ce"/>
<rect x="573.70" y="959.92" width="22.20" height="2.08" fill="#4555cd"/>
</g>
<rect x="573.70" y="531.70" width="22.20" height="429.90" fill="none" stroke="#000" stroke-width="1.25"/>
<line x1="595.90" y1="551.24" x2="600.10" y2="551.24" stroke="#000" stroke-width="1.25"/>
<text class="s" transform="translate(603.40,559.54) scale(0.865,1)" font-size="24.0" text-anchor="start" fill="#1a1a1a">10</text>
<text class="s" transform="translate(623.90,551.14) scale(0.865,1)" font-size="17.0" text-anchor="start" fill="#1a1a1a">10</text>
<line x1="595.90" y1="609.86" x2="600.10" y2="609.86" stroke="#000" stroke-width="1.25"/>
<text class="s" transform="translate(603.40,618.16) scale(0.865,1)" font-size="24.0" text-anchor="start" fill="#1a1a1a">10</text>
<text class="s" transform="translate(623.90,609.76) scale(0.865,1)" font-size="17.0" text-anchor="start" fill="#1a1a1a">7</text>
<line x1="595.90" y1="668.49" x2="600.10" y2="668.49" stroke="#000" stroke-width="1.25"/>
<text class="s" transform="translate(603.40,676.79) scale(0.865,1)" font-size="24.0" text-anchor="start" fill="#1a1a1a">10</text>
<text class="s" transform="translate(623.90,668.39) scale(0.865,1)" font-size="17.0" text-anchor="start" fill="#1a1a1a">4</text>
<line x1="595.90" y1="727.11" x2="600.10" y2="727.11" stroke="#000" stroke-width="1.25"/>
<text class="s" transform="translate(603.40,735.41) scale(0.865,1)" font-size="24.0" text-anchor="start" fill="#1a1a1a">10</text>
<text class="s" transform="translate(623.90,727.01) scale(0.865,1)" font-size="17.0" text-anchor="start" fill="#1a1a1a">1</text>
<line x1="595.90" y1="785.73" x2="600.10" y2="785.73" stroke="#000" stroke-width="1.25"/>
<text class="s" transform="translate(603.40,794.03) scale(0.865,1)" font-size="24.0" text-anchor="start" fill="#1a1a1a">10</text>
<text class="s" transform="translate(624.60,785.63) scale(1.200,1)" font-size="17.0" text-anchor="start" fill="#1a1a1a">−</text>
<text class="s" transform="translate(636.40,785.63) scale(0.865,1)" font-size="17.0" text-anchor="start" fill="#1a1a1a">2</text>
<line x1="595.90" y1="844.35" x2="600.10" y2="844.35" stroke="#000" stroke-width="1.25"/>
<text class="s" transform="translate(603.40,852.65) scale(0.865,1)" font-size="24.0" text-anchor="start" fill="#1a1a1a">10</text>
<text class="s" transform="translate(624.60,844.25) scale(1.200,1)" font-size="17.0" text-anchor="start" fill="#1a1a1a">−</text>
<text class="s" transform="translate(636.40,844.25) scale(0.865,1)" font-size="17.0" text-anchor="start" fill="#1a1a1a">5</text>
<line x1="595.90" y1="902.98" x2="600.10" y2="902.98" stroke="#000" stroke-width="1.25"/>
<text class="s" transform="translate(603.40,911.28) scale(0.865,1)" font-size="24.0" text-anchor="start" fill="#1a1a1a">10</text>
<text class="s" transform="translate(624.60,902.88) scale(1.200,1)" font-size="17.0" text-anchor="start" fill="#1a1a1a">−</text>
<text class="s" transform="translate(636.40,902.88) scale(0.865,1)" font-size="17.0" text-anchor="start" fill="#1a1a1a">8</text>
<line x1="595.90" y1="961.60" x2="600.10" y2="961.60" stroke="#000" stroke-width="1.25"/>
<text class="s" transform="translate(603.40,969.90) scale(0.865,1)" font-size="24.0" text-anchor="start" fill="#1a1a1a">10</text>
<text class="s" transform="translate(624.60,961.50) scale(1.200,1)" font-size="17.0" text-anchor="start" fill="#1a1a1a">−</text>
<text class="s" transform="translate(636.40,961.50) scale(0.865,1)" font-size="17.0" text-anchor="start" fill="#1a1a1a">11</text>
<g transform="translate(677.00,748.30) rotate(-90)">
<text class="s" transform="translate(0.00,0.00) scale(1.000,1)" font-size="23.0" text-anchor="middle" fill="#1a1a1a">(<tspan class="m">𝒟</tspan><tspan class="i" font-size="15.5" dy="3.4">c</tspan><tspan dy="-3.4">/</tspan><tspan class="m">𝒟</tspan><tspan class="i" font-size="15.5" dy="3.4">q</tspan><tspan dy="-3.4">)</tspan></text>
</g>
</g>
</svg></body></html>
